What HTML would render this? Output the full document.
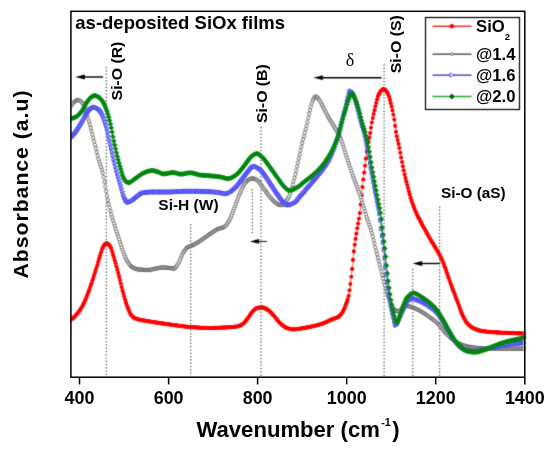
<!DOCTYPE html>
<html><head><meta charset="utf-8"><title>FTIR absorbance of as-deposited SiOx films</title>
<style>html,body{margin:0;padding:0;background:#fff}body{width:550px;height:449px;overflow:hidden}svg{display:block}text{font-family:"Liberation Sans",sans-serif;font-weight:bold;fill:#000}</style></head><body>
<svg width="550" height="449" viewBox="0 0 550 449">
<rect width="550" height="449" fill="#fff"/>
<defs><filter id="bl" x="0" y="0" width="100%" height="100%" color-interpolation-filters="sRGB"><feConvolveMatrix order="3" kernelMatrix="0 1 0 1 4 1 0 1 0" divisor="8" edgeMode="duplicate" preserveAlpha="true"/></filter><clipPath id="c"><rect x="70.9" y="11.3" width="455.4" height="365.9"/></clipPath></defs>
<g filter="url(#bl)">
<rect width="550" height="449" fill="#fff"/>
<g clip-path="url(#c)">
<path d="M70.9 319.7 L71.8 319.1 L72.6 318.4 L73.5 317.7 L74.3 316.9 L75.2 316 L76.1 315.1 L76.9 314.1 L77.8 313.1 L78.6 312 L79.5 310.8 L80.4 309.5 L81.2 308.1 L82.1 306.7 L82.9 305.1 L83.8 303.4 L84.7 301.5 L85.5 299.5 L86.4 297.4 L87.2 295.1 L88.1 292.8 L89 290.5 L89.8 288.1 L90.7 285.7 L91.5 283.2 L92.4 280.6 L93.3 278 L94.1 275.3 L95 272.6 L95.8 269.9 L96.7 267.1 L97.6 264.2 L98.4 261.3 L99.3 258.3 L100.1 255.4 L101 252.6 L101.9 249.8 L102.7 247.5 L103.6 245.8 L104.4 244.7 L105.3 243.9 L106.2 243.3 L107 243.3 L107.9 243.8 L108.7 244.6 L109.6 245.6 L110.5 247 L111.3 248.8 L112.2 251.6 L113 254.4 L113.9 257.3 L114.8 260.3 L115.6 263.3 L116.5 266.5 L117.3 269.7 L118.2 272.9 L119.1 276.4 L119.9 279.9 L120.8 283.5 L121.6 287 L122.5 290.3 L123.4 293.4 L124.2 296.5 L125.1 299.6 L125.9 302.4 L126.8 305.1 L127.7 307.4 L128.5 309.6 L129.4 311.7 L130.2 313.6 L131.1 315 L132 316 L132.8 316.7 L133.7 317.4 L134.5 317.9 L135.4 318.4 L136.3 318.7 L137.1 319 L138 319.2 L138.8 319.5 L139.7 319.7 L140.6 319.9 L141.4 320.1 L142.3 320.2 L143.1 320.4 L144 320.5 L144.9 320.7 L145.7 320.8 L146.6 320.9 L147.4 321.1 L148.3 321.2 L149.2 321.4 L150 321.5 L150.9 321.7 L151.7 321.8 L152.6 321.9 L153.5 322.1 L154.3 322.2 L155.2 322.4 L156 322.5 L156.9 322.6 L157.8 322.8 L158.6 322.9 L159.5 323 L160.3 323.1 L161.2 323.3 L162.1 323.4 L162.9 323.5 L163.8 323.6 L164.6 323.8 L165.5 323.9 L166.4 324 L167.2 324.1 L168.1 324.2 L168.9 324.4 L169.8 324.5 L170.7 324.6 L171.5 324.7 L172.4 324.8 L173.2 325 L174.1 325.1 L175 325.2 L175.8 325.3 L176.7 325.4 L177.5 325.6 L178.4 325.7 L179.3 325.8 L180.1 325.9 L181 326 L181.8 326.2 L182.7 326.3 L183.6 326.4 L184.4 326.5 L185.3 326.6 L186.1 326.7 L187 326.7 L187.9 326.8 L188.7 326.9 L189.6 327 L190.4 327 L191.3 327.1 L192.2 327.2 L193 327.2 L193.9 327.3 L194.7 327.3 L195.6 327.4 L196.5 327.5 L197.3 327.5 L198.2 327.6 L199 327.6 L199.9 327.7 L200.8 327.7 L201.6 327.8 L202.5 327.8 L203.3 327.8 L204.2 327.9 L205.1 327.9 L205.9 327.9 L206.8 328 L207.6 328 L208.5 328 L209.4 328 L210.2 328 L211.1 328 L211.9 328 L212.8 328 L213.7 328 L214.5 327.9 L215.4 327.9 L216.2 327.9 L217.1 327.8 L218 327.8 L218.8 327.8 L219.7 327.7 L220.5 327.7 L221.4 327.6 L222.3 327.6 L223.1 327.6 L224 327.5 L224.8 327.5 L225.7 327.4 L226.6 327.4 L227.4 327.3 L228.3 327.3 L229.1 327.2 L230 327.2 L230.9 327.1 L231.7 327 L232.6 327 L233.4 326.9 L234.3 326.8 L235.2 326.7 L236 326.6 L236.9 326.5 L237.7 326.3 L238.6 326 L239.5 325.7 L240.3 325.4 L241.2 325 L242 324.6 L242.9 324 L243.8 323.2 L244.6 322.3 L245.5 321.2 L246.3 320.1 L247.2 319 L248.1 317.9 L248.9 316.8 L249.8 315.5 L250.6 314.1 L251.5 312.8 L252.4 311.7 L253.2 310.8 L254.1 310 L254.9 309.2 L255.8 308.5 L256.7 308.1 L257.5 307.9 L258.4 307.7 L259.2 307.6 L260.1 307.5 L261 307.4 L261.8 307.4 L262.7 307.5 L263.5 307.6 L264.4 308 L265.3 308.4 L266.1 308.9 L267 309.4 L267.8 309.9 L268.7 310.5 L269.6 311.2 L270.4 312 L271.3 313 L272.1 313.9 L273 314.9 L273.9 315.8 L274.7 316.8 L275.6 317.8 L276.4 318.9 L277.3 320 L278.2 321 L279 322 L279.9 322.9 L280.7 323.7 L281.6 324.5 L282.5 325.2 L283.3 326 L284.2 326.6 L285 327.1 L285.9 327.6 L286.8 327.9 L287.6 328.2 L288.5 328.5 L289.3 328.8 L290.2 329 L291.1 329.2 L291.9 329.3 L292.8 329.4 L293.6 329.4 L294.5 329.4 L295.4 329.3 L296.2 329.2 L297.1 329.1 L297.9 329 L298.8 328.9 L299.7 328.7 L300.5 328.6 L301.4 328.4 L302.2 328.3 L303.1 328.1 L304 328 L304.8 327.9 L305.7 327.7 L306.5 327.6 L307.4 327.4 L308.3 327.3 L309.1 327.1 L310 326.9 L310.8 326.7 L311.7 326.5 L312.6 326.3 L313.4 326.1 L314.3 325.9 L315.1 325.7 L316 325.5 L316.9 325.3 L317.7 325 L318.6 324.8 L319.4 324.5 L320.3 324.3 L321.2 324 L322 323.7 L322.9 323.4 L323.7 323.1 L324.6 322.8 L325.5 322.4 L326.3 322 L327.2 321.6 L328 321.2 L328.9 320.8 L329.8 320.4 L330.6 320 L331.5 319.6 L332.3 319.3 L333.2 318.9 L334.1 318.6 L334.9 318.4 L335.8 318 L336.6 317.7 L337.5 317.3 L338.4 316.8 L339.2 316.1 L340.1 315.3 L340.9 314.4 L341.8 313.3 L342.7 311.9 L343.5 310.2 L344.4 308.2 L345.2 306 L346.1 303.7 L347 301.6 L347.8 299.1 L348.7 295.7 L349.5 290.3 L350.4 284 L351.3 276.7 L352.1 268.9 L353 259.9 L353.8 251.4 L354.7 244.7 L355.6 238.9 L356.4 233.6 L357.3 228.3 L358.1 223.6 L359 218.8 L359.9 213.1 L360.7 204.5 L361.6 195.2 L362.4 187 L363.3 179.5 L364.2 172.6 L365 165.8 L365.9 158.6 L366.7 151.8 L367.6 146.4 L368.5 141.9 L369.3 137.6 L370.2 133 L371 127.7 L371.9 122.5 L372.8 118.1 L373.6 114 L374.5 110.2 L375.3 106.6 L376.2 103 L377.1 99.6 L377.9 96.6 L378.8 94.4 L379.6 92.9 L380.5 91.6 L381.4 90.5 L382.2 89.6 L383.1 89.1 L383.9 89 L384.8 89.5 L385.7 90.4 L386.5 91.5 L387.4 92.9 L388.2 94.5 L389.1 96.8 L390 99.9 L390.8 103.3 L391.7 106.7 L392.5 110.5 L393.4 114.7 L394.3 119.6 L395.1 125.9 L396 131.9 L396.8 136.3 L397.7 140.1 L398.6 143.9 L399.4 148.1 L400.3 152.8 L401.1 157.5 L402 162 L402.9 166.2 L403.7 170.3 L404.6 174.2 L405.4 177.9 L406.3 181.4 L407.2 184.8 L408 188.1 L408.9 191.4 L409.7 194.6 L410.6 197.7 L411.5 200.4 L412.3 203 L413.2 205.4 L414 207.6 L414.9 209.8 L415.8 211.8 L416.6 213.7 L417.5 215.5 L418.3 217.2 L419.2 218.9 L420.1 220.6 L420.9 222.3 L421.8 223.9 L422.6 225.5 L423.5 227 L424.4 228.6 L425.2 230.1 L426.1 231.6 L426.9 233.2 L427.8 234.7 L428.7 236.2 L429.5 237.7 L430.4 239.2 L431.2 240.7 L432.1 242.2 L433 243.6 L433.8 245 L434.7 246.4 L435.5 247.8 L436.4 249.2 L437.3 250.7 L438.1 252.2 L439 253.8 L439.8 255.4 L440.7 257.1 L441.6 258.8 L442.4 260.7 L443.3 262.7 L444.1 264.9 L445 267.3 L445.9 269.8 L446.7 272.3 L447.6 274.8 L448.4 277.2 L449.3 279.7 L450.2 282.1 L451 284.5 L451.9 286.9 L452.7 289.3 L453.6 291.6 L454.5 293.8 L455.3 296.1 L456.2 298.3 L457 300.5 L457.9 302.7 L458.8 305.1 L459.6 307.6 L460.5 310.1 L461.3 312.4 L462.2 314.4 L463.1 316.3 L463.9 318 L464.8 319.7 L465.6 321.1 L466.5 322.4 L467.4 323.4 L468.2 324.3 L469.1 325.2 L469.9 325.9 L470.8 326.6 L471.7 327.2 L472.5 327.8 L473.4 328.2 L474.2 328.6 L475.1 329 L476 329.3 L476.8 329.6 L477.7 329.9 L478.5 330.2 L479.4 330.4 L480.3 330.7 L481.1 330.8 L482 331 L482.8 331.1 L483.7 331.3 L484.6 331.4 L485.4 331.5 L486.3 331.6 L487.1 331.7 L488 331.8 L488.9 331.9 L489.7 331.9 L490.6 332 L491.4 332.1 L492.3 332.2 L493.2 332.2 L494 332.3 L494.9 332.3 L495.7 332.4 L496.6 332.4 L497.5 332.5 L498.3 332.5 L499.2 332.6 L500 332.6 L500.9 332.6 L501.8 332.7 L502.6 332.7 L503.5 332.8 L504.3 332.8 L505.2 332.8 L506.1 332.8 L506.9 332.9 L507.8 332.9 L508.6 332.9 L509.5 333 L510.4 333 L511.2 333.1 L512.1 333.1 L512.9 333.1 L513.8 333.2 L514.7 333.2 L515.5 333.2 L516.4 333.3 L517.2 333.3 L518.1 333.3 L519 333.4 L519.8 333.4 L520.7 333.4 L521.5 333.5 L522.4 333.5 L523.3 333.5 L524.1 333.6" stroke="#ff0000" stroke-width="0.6" fill="none"/>
<g fill="#ff0000">
<circle cx="70.9" cy="319.7" r="2.05"/>
<circle cx="71.8" cy="319.1" r="2.05"/>
<circle cx="72.6" cy="318.4" r="2.05"/>
<circle cx="73.5" cy="317.7" r="2.05"/>
<circle cx="74.3" cy="316.9" r="2.05"/>
<circle cx="75.2" cy="316" r="2.05"/>
<circle cx="76.1" cy="315.1" r="2.05"/>
<circle cx="76.9" cy="314.1" r="2.05"/>
<circle cx="77.8" cy="313.1" r="2.05"/>
<circle cx="78.6" cy="312" r="2.05"/>
<circle cx="79.5" cy="310.8" r="2.05"/>
<circle cx="80.4" cy="309.5" r="2.05"/>
<circle cx="81.2" cy="308.1" r="2.05"/>
<circle cx="82.1" cy="306.7" r="2.05"/>
<circle cx="82.9" cy="305.1" r="2.05"/>
<circle cx="83.8" cy="303.4" r="2.05"/>
<circle cx="84.7" cy="301.5" r="2.05"/>
<circle cx="85.5" cy="299.5" r="2.05"/>
<circle cx="86.4" cy="297.4" r="2.05"/>
<circle cx="87.2" cy="295.1" r="2.05"/>
<circle cx="88.1" cy="292.8" r="2.05"/>
<circle cx="89" cy="290.5" r="2.05"/>
<circle cx="89.8" cy="288.1" r="2.05"/>
<circle cx="90.7" cy="285.7" r="2.05"/>
<circle cx="91.5" cy="283.2" r="2.05"/>
<circle cx="92.4" cy="280.6" r="2.05"/>
<circle cx="93.3" cy="278" r="2.05"/>
<circle cx="94.1" cy="275.3" r="2.05"/>
<circle cx="95" cy="272.6" r="2.05"/>
<circle cx="95.8" cy="269.9" r="2.05"/>
<circle cx="96.7" cy="267.1" r="2.05"/>
<circle cx="97.6" cy="264.2" r="2.05"/>
<circle cx="98.4" cy="261.3" r="2.05"/>
<circle cx="99.3" cy="258.3" r="2.05"/>
<circle cx="100.1" cy="255.4" r="2.05"/>
<circle cx="101" cy="252.6" r="2.05"/>
<circle cx="101.9" cy="249.8" r="2.05"/>
<circle cx="102.7" cy="247.5" r="2.05"/>
<circle cx="103.6" cy="245.8" r="2.05"/>
<circle cx="104.4" cy="244.7" r="2.05"/>
<circle cx="105.3" cy="243.9" r="2.05"/>
<circle cx="106.2" cy="243.3" r="2.05"/>
<circle cx="107" cy="243.3" r="2.05"/>
<circle cx="107.9" cy="243.8" r="2.05"/>
<circle cx="108.7" cy="244.6" r="2.05"/>
<circle cx="109.6" cy="245.6" r="2.05"/>
<circle cx="110.5" cy="247" r="2.05"/>
<circle cx="111.3" cy="248.8" r="2.05"/>
<circle cx="112.2" cy="251.6" r="2.05"/>
<circle cx="113" cy="254.4" r="2.05"/>
<circle cx="113.9" cy="257.3" r="2.05"/>
<circle cx="114.8" cy="260.3" r="2.05"/>
<circle cx="115.6" cy="263.3" r="2.05"/>
<circle cx="116.5" cy="266.5" r="2.05"/>
<circle cx="117.3" cy="269.7" r="2.05"/>
<circle cx="118.2" cy="272.9" r="2.05"/>
<circle cx="119.1" cy="276.4" r="2.05"/>
<circle cx="119.9" cy="279.9" r="2.05"/>
<circle cx="120.8" cy="283.5" r="2.05"/>
<circle cx="121.6" cy="287" r="2.05"/>
<circle cx="122.5" cy="290.3" r="2.05"/>
<circle cx="123.4" cy="293.4" r="2.05"/>
<circle cx="124.2" cy="296.5" r="2.05"/>
<circle cx="125.1" cy="299.6" r="2.05"/>
<circle cx="125.9" cy="302.4" r="2.05"/>
<circle cx="126.8" cy="305.1" r="2.05"/>
<circle cx="127.7" cy="307.4" r="2.05"/>
<circle cx="128.5" cy="309.6" r="2.05"/>
<circle cx="129.4" cy="311.7" r="2.05"/>
<circle cx="130.2" cy="313.6" r="2.05"/>
<circle cx="131.1" cy="315" r="2.05"/>
<circle cx="132" cy="316" r="2.05"/>
<circle cx="132.8" cy="316.7" r="2.05"/>
<circle cx="133.7" cy="317.4" r="2.05"/>
<circle cx="134.5" cy="317.9" r="2.05"/>
<circle cx="135.4" cy="318.4" r="2.05"/>
<circle cx="136.3" cy="318.7" r="2.05"/>
<circle cx="137.1" cy="319" r="2.05"/>
<circle cx="138" cy="319.2" r="2.05"/>
<circle cx="138.8" cy="319.5" r="2.05"/>
<circle cx="139.7" cy="319.7" r="2.05"/>
<circle cx="140.6" cy="319.9" r="2.05"/>
<circle cx="141.4" cy="320.1" r="2.05"/>
<circle cx="142.3" cy="320.2" r="2.05"/>
<circle cx="143.1" cy="320.4" r="2.05"/>
<circle cx="144" cy="320.5" r="2.05"/>
<circle cx="144.9" cy="320.7" r="2.05"/>
<circle cx="145.7" cy="320.8" r="2.05"/>
<circle cx="146.6" cy="320.9" r="2.05"/>
<circle cx="147.4" cy="321.1" r="2.05"/>
<circle cx="148.3" cy="321.2" r="2.05"/>
<circle cx="149.2" cy="321.4" r="2.05"/>
<circle cx="150" cy="321.5" r="2.05"/>
<circle cx="150.9" cy="321.7" r="2.05"/>
<circle cx="151.7" cy="321.8" r="2.05"/>
<circle cx="152.6" cy="321.9" r="2.05"/>
<circle cx="153.5" cy="322.1" r="2.05"/>
<circle cx="154.3" cy="322.2" r="2.05"/>
<circle cx="155.2" cy="322.4" r="2.05"/>
<circle cx="156" cy="322.5" r="2.05"/>
<circle cx="156.9" cy="322.6" r="2.05"/>
<circle cx="157.8" cy="322.8" r="2.05"/>
<circle cx="158.6" cy="322.9" r="2.05"/>
<circle cx="159.5" cy="323" r="2.05"/>
<circle cx="160.3" cy="323.1" r="2.05"/>
<circle cx="161.2" cy="323.3" r="2.05"/>
<circle cx="162.1" cy="323.4" r="2.05"/>
<circle cx="162.9" cy="323.5" r="2.05"/>
<circle cx="163.8" cy="323.6" r="2.05"/>
<circle cx="164.6" cy="323.8" r="2.05"/>
<circle cx="165.5" cy="323.9" r="2.05"/>
<circle cx="166.4" cy="324" r="2.05"/>
<circle cx="167.2" cy="324.1" r="2.05"/>
<circle cx="168.1" cy="324.2" r="2.05"/>
<circle cx="168.9" cy="324.4" r="2.05"/>
<circle cx="169.8" cy="324.5" r="2.05"/>
<circle cx="170.7" cy="324.6" r="2.05"/>
<circle cx="171.5" cy="324.7" r="2.05"/>
<circle cx="172.4" cy="324.8" r="2.05"/>
<circle cx="173.2" cy="325" r="2.05"/>
<circle cx="174.1" cy="325.1" r="2.05"/>
<circle cx="175" cy="325.2" r="2.05"/>
<circle cx="175.8" cy="325.3" r="2.05"/>
<circle cx="176.7" cy="325.4" r="2.05"/>
<circle cx="177.5" cy="325.6" r="2.05"/>
<circle cx="178.4" cy="325.7" r="2.05"/>
<circle cx="179.3" cy="325.8" r="2.05"/>
<circle cx="180.1" cy="325.9" r="2.05"/>
<circle cx="181" cy="326" r="2.05"/>
<circle cx="181.8" cy="326.2" r="2.05"/>
<circle cx="182.7" cy="326.3" r="2.05"/>
<circle cx="183.6" cy="326.4" r="2.05"/>
<circle cx="184.4" cy="326.5" r="2.05"/>
<circle cx="185.3" cy="326.6" r="2.05"/>
<circle cx="186.1" cy="326.7" r="2.05"/>
<circle cx="187" cy="326.7" r="2.05"/>
<circle cx="187.9" cy="326.8" r="2.05"/>
<circle cx="188.7" cy="326.9" r="2.05"/>
<circle cx="189.6" cy="327" r="2.05"/>
<circle cx="190.4" cy="327" r="2.05"/>
<circle cx="191.3" cy="327.1" r="2.05"/>
<circle cx="192.2" cy="327.2" r="2.05"/>
<circle cx="193" cy="327.2" r="2.05"/>
<circle cx="193.9" cy="327.3" r="2.05"/>
<circle cx="194.7" cy="327.3" r="2.05"/>
<circle cx="195.6" cy="327.4" r="2.05"/>
<circle cx="196.5" cy="327.5" r="2.05"/>
<circle cx="197.3" cy="327.5" r="2.05"/>
<circle cx="198.2" cy="327.6" r="2.05"/>
<circle cx="199" cy="327.6" r="2.05"/>
<circle cx="199.9" cy="327.7" r="2.05"/>
<circle cx="200.8" cy="327.7" r="2.05"/>
<circle cx="201.6" cy="327.8" r="2.05"/>
<circle cx="202.5" cy="327.8" r="2.05"/>
<circle cx="203.3" cy="327.8" r="2.05"/>
<circle cx="204.2" cy="327.9" r="2.05"/>
<circle cx="205.1" cy="327.9" r="2.05"/>
<circle cx="205.9" cy="327.9" r="2.05"/>
<circle cx="206.8" cy="328" r="2.05"/>
<circle cx="207.6" cy="328" r="2.05"/>
<circle cx="208.5" cy="328" r="2.05"/>
<circle cx="209.4" cy="328" r="2.05"/>
<circle cx="210.2" cy="328" r="2.05"/>
<circle cx="211.1" cy="328" r="2.05"/>
<circle cx="211.9" cy="328" r="2.05"/>
<circle cx="212.8" cy="328" r="2.05"/>
<circle cx="213.7" cy="328" r="2.05"/>
<circle cx="214.5" cy="327.9" r="2.05"/>
<circle cx="215.4" cy="327.9" r="2.05"/>
<circle cx="216.2" cy="327.9" r="2.05"/>
<circle cx="217.1" cy="327.8" r="2.05"/>
<circle cx="218" cy="327.8" r="2.05"/>
<circle cx="218.8" cy="327.8" r="2.05"/>
<circle cx="219.7" cy="327.7" r="2.05"/>
<circle cx="220.5" cy="327.7" r="2.05"/>
<circle cx="221.4" cy="327.6" r="2.05"/>
<circle cx="222.3" cy="327.6" r="2.05"/>
<circle cx="223.1" cy="327.6" r="2.05"/>
<circle cx="224" cy="327.5" r="2.05"/>
<circle cx="224.8" cy="327.5" r="2.05"/>
<circle cx="225.7" cy="327.4" r="2.05"/>
<circle cx="226.6" cy="327.4" r="2.05"/>
<circle cx="227.4" cy="327.3" r="2.05"/>
<circle cx="228.3" cy="327.3" r="2.05"/>
<circle cx="229.1" cy="327.2" r="2.05"/>
<circle cx="230" cy="327.2" r="2.05"/>
<circle cx="230.9" cy="327.1" r="2.05"/>
<circle cx="231.7" cy="327" r="2.05"/>
<circle cx="232.6" cy="327" r="2.05"/>
<circle cx="233.4" cy="326.9" r="2.05"/>
<circle cx="234.3" cy="326.8" r="2.05"/>
<circle cx="235.2" cy="326.7" r="2.05"/>
<circle cx="236" cy="326.6" r="2.05"/>
<circle cx="236.9" cy="326.5" r="2.05"/>
<circle cx="237.7" cy="326.3" r="2.05"/>
<circle cx="238.6" cy="326" r="2.05"/>
<circle cx="239.5" cy="325.7" r="2.05"/>
<circle cx="240.3" cy="325.4" r="2.05"/>
<circle cx="241.2" cy="325" r="2.05"/>
<circle cx="242" cy="324.6" r="2.05"/>
<circle cx="242.9" cy="324" r="2.05"/>
<circle cx="243.8" cy="323.2" r="2.05"/>
<circle cx="244.6" cy="322.3" r="2.05"/>
<circle cx="245.5" cy="321.2" r="2.05"/>
<circle cx="246.3" cy="320.1" r="2.05"/>
<circle cx="247.2" cy="319" r="2.05"/>
<circle cx="248.1" cy="317.9" r="2.05"/>
<circle cx="248.9" cy="316.8" r="2.05"/>
<circle cx="249.8" cy="315.5" r="2.05"/>
<circle cx="250.6" cy="314.1" r="2.05"/>
<circle cx="251.5" cy="312.8" r="2.05"/>
<circle cx="252.4" cy="311.7" r="2.05"/>
<circle cx="253.2" cy="310.8" r="2.05"/>
<circle cx="254.1" cy="310" r="2.05"/>
<circle cx="254.9" cy="309.2" r="2.05"/>
<circle cx="255.8" cy="308.5" r="2.05"/>
<circle cx="256.7" cy="308.1" r="2.05"/>
<circle cx="257.5" cy="307.9" r="2.05"/>
<circle cx="258.4" cy="307.7" r="2.05"/>
<circle cx="259.2" cy="307.6" r="2.05"/>
<circle cx="260.1" cy="307.5" r="2.05"/>
<circle cx="261" cy="307.4" r="2.05"/>
<circle cx="261.8" cy="307.4" r="2.05"/>
<circle cx="262.7" cy="307.5" r="2.05"/>
<circle cx="263.5" cy="307.6" r="2.05"/>
<circle cx="264.4" cy="308" r="2.05"/>
<circle cx="265.3" cy="308.4" r="2.05"/>
<circle cx="266.1" cy="308.9" r="2.05"/>
<circle cx="267" cy="309.4" r="2.05"/>
<circle cx="267.8" cy="309.9" r="2.05"/>
<circle cx="268.7" cy="310.5" r="2.05"/>
<circle cx="269.6" cy="311.2" r="2.05"/>
<circle cx="270.4" cy="312" r="2.05"/>
<circle cx="271.3" cy="313" r="2.05"/>
<circle cx="272.1" cy="313.9" r="2.05"/>
<circle cx="273" cy="314.9" r="2.05"/>
<circle cx="273.9" cy="315.8" r="2.05"/>
<circle cx="274.7" cy="316.8" r="2.05"/>
<circle cx="275.6" cy="317.8" r="2.05"/>
<circle cx="276.4" cy="318.9" r="2.05"/>
<circle cx="277.3" cy="320" r="2.05"/>
<circle cx="278.2" cy="321" r="2.05"/>
<circle cx="279" cy="322" r="2.05"/>
<circle cx="279.9" cy="322.9" r="2.05"/>
<circle cx="280.7" cy="323.7" r="2.05"/>
<circle cx="281.6" cy="324.5" r="2.05"/>
<circle cx="282.5" cy="325.2" r="2.05"/>
<circle cx="283.3" cy="326" r="2.05"/>
<circle cx="284.2" cy="326.6" r="2.05"/>
<circle cx="285" cy="327.1" r="2.05"/>
<circle cx="285.9" cy="327.6" r="2.05"/>
<circle cx="286.8" cy="327.9" r="2.05"/>
<circle cx="287.6" cy="328.2" r="2.05"/>
<circle cx="288.5" cy="328.5" r="2.05"/>
<circle cx="289.3" cy="328.8" r="2.05"/>
<circle cx="290.2" cy="329" r="2.05"/>
<circle cx="291.1" cy="329.2" r="2.05"/>
<circle cx="291.9" cy="329.3" r="2.05"/>
<circle cx="292.8" cy="329.4" r="2.05"/>
<circle cx="293.6" cy="329.4" r="2.05"/>
<circle cx="294.5" cy="329.4" r="2.05"/>
<circle cx="295.4" cy="329.3" r="2.05"/>
<circle cx="296.2" cy="329.2" r="2.05"/>
<circle cx="297.1" cy="329.1" r="2.05"/>
<circle cx="297.9" cy="329" r="2.05"/>
<circle cx="298.8" cy="328.9" r="2.05"/>
<circle cx="299.7" cy="328.7" r="2.05"/>
<circle cx="300.5" cy="328.6" r="2.05"/>
<circle cx="301.4" cy="328.4" r="2.05"/>
<circle cx="302.2" cy="328.3" r="2.05"/>
<circle cx="303.1" cy="328.1" r="2.05"/>
<circle cx="304" cy="328" r="2.05"/>
<circle cx="304.8" cy="327.9" r="2.05"/>
<circle cx="305.7" cy="327.7" r="2.05"/>
<circle cx="306.5" cy="327.6" r="2.05"/>
<circle cx="307.4" cy="327.4" r="2.05"/>
<circle cx="308.3" cy="327.3" r="2.05"/>
<circle cx="309.1" cy="327.1" r="2.05"/>
<circle cx="310" cy="326.9" r="2.05"/>
<circle cx="310.8" cy="326.7" r="2.05"/>
<circle cx="311.7" cy="326.5" r="2.05"/>
<circle cx="312.6" cy="326.3" r="2.05"/>
<circle cx="313.4" cy="326.1" r="2.05"/>
<circle cx="314.3" cy="325.9" r="2.05"/>
<circle cx="315.1" cy="325.7" r="2.05"/>
<circle cx="316" cy="325.5" r="2.05"/>
<circle cx="316.9" cy="325.3" r="2.05"/>
<circle cx="317.7" cy="325" r="2.05"/>
<circle cx="318.6" cy="324.8" r="2.05"/>
<circle cx="319.4" cy="324.5" r="2.05"/>
<circle cx="320.3" cy="324.3" r="2.05"/>
<circle cx="321.2" cy="324" r="2.05"/>
<circle cx="322" cy="323.7" r="2.05"/>
<circle cx="322.9" cy="323.4" r="2.05"/>
<circle cx="323.7" cy="323.1" r="2.05"/>
<circle cx="324.6" cy="322.8" r="2.05"/>
<circle cx="325.5" cy="322.4" r="2.05"/>
<circle cx="326.3" cy="322" r="2.05"/>
<circle cx="327.2" cy="321.6" r="2.05"/>
<circle cx="328" cy="321.2" r="2.05"/>
<circle cx="328.9" cy="320.8" r="2.05"/>
<circle cx="329.8" cy="320.4" r="2.05"/>
<circle cx="330.6" cy="320" r="2.05"/>
<circle cx="331.5" cy="319.6" r="2.05"/>
<circle cx="332.3" cy="319.3" r="2.05"/>
<circle cx="333.2" cy="318.9" r="2.05"/>
<circle cx="334.1" cy="318.6" r="2.05"/>
<circle cx="334.9" cy="318.4" r="2.05"/>
<circle cx="335.8" cy="318" r="2.05"/>
<circle cx="336.6" cy="317.7" r="2.05"/>
<circle cx="337.5" cy="317.3" r="2.05"/>
<circle cx="338.4" cy="316.8" r="2.05"/>
<circle cx="339.2" cy="316.1" r="2.05"/>
<circle cx="340.1" cy="315.3" r="2.05"/>
<circle cx="340.9" cy="314.4" r="2.05"/>
<circle cx="341.8" cy="313.3" r="2.05"/>
<circle cx="342.7" cy="311.9" r="2.05"/>
<circle cx="343.5" cy="310.2" r="2.05"/>
<circle cx="344.4" cy="308.2" r="2.05"/>
<circle cx="345.2" cy="306" r="2.05"/>
<circle cx="346.1" cy="303.7" r="2.05"/>
<circle cx="347" cy="301.6" r="2.05"/>
<circle cx="347.8" cy="299.1" r="2.05"/>
<circle cx="348.7" cy="295.7" r="2.05"/>
<circle cx="349.5" cy="290.3" r="2.05"/>
<circle cx="350.4" cy="284" r="2.05"/>
<circle cx="351.3" cy="276.7" r="2.05"/>
<circle cx="352.1" cy="268.9" r="2.05"/>
<circle cx="353" cy="259.9" r="2.05"/>
<circle cx="353.8" cy="251.4" r="2.05"/>
<circle cx="354.7" cy="244.7" r="2.05"/>
<circle cx="355.6" cy="238.9" r="2.05"/>
<circle cx="356.4" cy="233.6" r="2.05"/>
<circle cx="357.3" cy="228.3" r="2.05"/>
<circle cx="358.1" cy="223.6" r="2.05"/>
<circle cx="359" cy="218.8" r="2.05"/>
<circle cx="359.9" cy="213.1" r="2.05"/>
<circle cx="360.7" cy="204.5" r="2.05"/>
<circle cx="361.6" cy="195.2" r="2.05"/>
<circle cx="362.4" cy="187" r="2.05"/>
<circle cx="363.3" cy="179.5" r="2.05"/>
<circle cx="364.2" cy="172.6" r="2.05"/>
<circle cx="365" cy="165.8" r="2.05"/>
<circle cx="365.9" cy="158.6" r="2.05"/>
<circle cx="366.7" cy="151.8" r="2.05"/>
<circle cx="367.6" cy="146.4" r="2.05"/>
<circle cx="368.5" cy="141.9" r="2.05"/>
<circle cx="369.3" cy="137.6" r="2.05"/>
<circle cx="370.2" cy="133" r="2.05"/>
<circle cx="371" cy="127.7" r="2.05"/>
<circle cx="371.9" cy="122.5" r="2.05"/>
<circle cx="372.8" cy="118.1" r="2.05"/>
<circle cx="373.6" cy="114" r="2.05"/>
<circle cx="374.5" cy="110.2" r="2.05"/>
<circle cx="375.3" cy="106.6" r="2.05"/>
<circle cx="376.2" cy="103" r="2.05"/>
<circle cx="377.1" cy="99.6" r="2.05"/>
<circle cx="377.9" cy="96.6" r="2.05"/>
<circle cx="378.8" cy="94.4" r="2.05"/>
<circle cx="379.6" cy="92.9" r="2.05"/>
<circle cx="380.5" cy="91.6" r="2.05"/>
<circle cx="381.4" cy="90.5" r="2.05"/>
<circle cx="382.2" cy="89.6" r="2.05"/>
<circle cx="383.1" cy="89.1" r="2.05"/>
<circle cx="383.9" cy="89" r="2.05"/>
<circle cx="384.8" cy="89.5" r="2.05"/>
<circle cx="385.7" cy="90.4" r="2.05"/>
<circle cx="386.5" cy="91.5" r="2.05"/>
<circle cx="387.4" cy="92.9" r="2.05"/>
<circle cx="388.2" cy="94.5" r="2.05"/>
<circle cx="389.1" cy="96.8" r="2.05"/>
<circle cx="390" cy="99.9" r="2.05"/>
<circle cx="390.8" cy="103.3" r="2.05"/>
<circle cx="391.7" cy="106.7" r="2.05"/>
<circle cx="392.5" cy="110.5" r="2.05"/>
<circle cx="393.4" cy="114.7" r="2.05"/>
<circle cx="394.3" cy="119.6" r="2.05"/>
<circle cx="395.1" cy="125.9" r="2.05"/>
<circle cx="396" cy="131.9" r="2.05"/>
<circle cx="396.8" cy="136.3" r="2.05"/>
<circle cx="397.7" cy="140.1" r="2.05"/>
<circle cx="398.6" cy="143.9" r="2.05"/>
<circle cx="399.4" cy="148.1" r="2.05"/>
<circle cx="400.3" cy="152.8" r="2.05"/>
<circle cx="401.1" cy="157.5" r="2.05"/>
<circle cx="402" cy="162" r="2.05"/>
<circle cx="402.9" cy="166.2" r="2.05"/>
<circle cx="403.7" cy="170.3" r="2.05"/>
<circle cx="404.6" cy="174.2" r="2.05"/>
<circle cx="405.4" cy="177.9" r="2.05"/>
<circle cx="406.3" cy="181.4" r="2.05"/>
<circle cx="407.2" cy="184.8" r="2.05"/>
<circle cx="408" cy="188.1" r="2.05"/>
<circle cx="408.9" cy="191.4" r="2.05"/>
<circle cx="409.7" cy="194.6" r="2.05"/>
<circle cx="410.6" cy="197.7" r="2.05"/>
<circle cx="411.5" cy="200.4" r="2.05"/>
<circle cx="412.3" cy="203" r="2.05"/>
<circle cx="413.2" cy="205.4" r="2.05"/>
<circle cx="414" cy="207.6" r="2.05"/>
<circle cx="414.9" cy="209.8" r="2.05"/>
<circle cx="415.8" cy="211.8" r="2.05"/>
<circle cx="416.6" cy="213.7" r="2.05"/>
<circle cx="417.5" cy="215.5" r="2.05"/>
<circle cx="418.3" cy="217.2" r="2.05"/>
<circle cx="419.2" cy="218.9" r="2.05"/>
<circle cx="420.1" cy="220.6" r="2.05"/>
<circle cx="420.9" cy="222.3" r="2.05"/>
<circle cx="421.8" cy="223.9" r="2.05"/>
<circle cx="422.6" cy="225.5" r="2.05"/>
<circle cx="423.5" cy="227" r="2.05"/>
<circle cx="424.4" cy="228.6" r="2.05"/>
<circle cx="425.2" cy="230.1" r="2.05"/>
<circle cx="426.1" cy="231.6" r="2.05"/>
<circle cx="426.9" cy="233.2" r="2.05"/>
<circle cx="427.8" cy="234.7" r="2.05"/>
<circle cx="428.7" cy="236.2" r="2.05"/>
<circle cx="429.5" cy="237.7" r="2.05"/>
<circle cx="430.4" cy="239.2" r="2.05"/>
<circle cx="431.2" cy="240.7" r="2.05"/>
<circle cx="432.1" cy="242.2" r="2.05"/>
<circle cx="433" cy="243.6" r="2.05"/>
<circle cx="433.8" cy="245" r="2.05"/>
<circle cx="434.7" cy="246.4" r="2.05"/>
<circle cx="435.5" cy="247.8" r="2.05"/>
<circle cx="436.4" cy="249.2" r="2.05"/>
<circle cx="437.3" cy="250.7" r="2.05"/>
<circle cx="438.1" cy="252.2" r="2.05"/>
<circle cx="439" cy="253.8" r="2.05"/>
<circle cx="439.8" cy="255.4" r="2.05"/>
<circle cx="440.7" cy="257.1" r="2.05"/>
<circle cx="441.6" cy="258.8" r="2.05"/>
<circle cx="442.4" cy="260.7" r="2.05"/>
<circle cx="443.3" cy="262.7" r="2.05"/>
<circle cx="444.1" cy="264.9" r="2.05"/>
<circle cx="445" cy="267.3" r="2.05"/>
<circle cx="445.9" cy="269.8" r="2.05"/>
<circle cx="446.7" cy="272.3" r="2.05"/>
<circle cx="447.6" cy="274.8" r="2.05"/>
<circle cx="448.4" cy="277.2" r="2.05"/>
<circle cx="449.3" cy="279.7" r="2.05"/>
<circle cx="450.2" cy="282.1" r="2.05"/>
<circle cx="451" cy="284.5" r="2.05"/>
<circle cx="451.9" cy="286.9" r="2.05"/>
<circle cx="452.7" cy="289.3" r="2.05"/>
<circle cx="453.6" cy="291.6" r="2.05"/>
<circle cx="454.5" cy="293.8" r="2.05"/>
<circle cx="455.3" cy="296.1" r="2.05"/>
<circle cx="456.2" cy="298.3" r="2.05"/>
<circle cx="457" cy="300.5" r="2.05"/>
<circle cx="457.9" cy="302.7" r="2.05"/>
<circle cx="458.8" cy="305.1" r="2.05"/>
<circle cx="459.6" cy="307.6" r="2.05"/>
<circle cx="460.5" cy="310.1" r="2.05"/>
<circle cx="461.3" cy="312.4" r="2.05"/>
<circle cx="462.2" cy="314.4" r="2.05"/>
<circle cx="463.1" cy="316.3" r="2.05"/>
<circle cx="463.9" cy="318" r="2.05"/>
<circle cx="464.8" cy="319.7" r="2.05"/>
<circle cx="465.6" cy="321.1" r="2.05"/>
<circle cx="466.5" cy="322.4" r="2.05"/>
<circle cx="467.4" cy="323.4" r="2.05"/>
<circle cx="468.2" cy="324.3" r="2.05"/>
<circle cx="469.1" cy="325.2" r="2.05"/>
<circle cx="469.9" cy="325.9" r="2.05"/>
<circle cx="470.8" cy="326.6" r="2.05"/>
<circle cx="471.7" cy="327.2" r="2.05"/>
<circle cx="472.5" cy="327.8" r="2.05"/>
<circle cx="473.4" cy="328.2" r="2.05"/>
<circle cx="474.2" cy="328.6" r="2.05"/>
<circle cx="475.1" cy="329" r="2.05"/>
<circle cx="476" cy="329.3" r="2.05"/>
<circle cx="476.8" cy="329.6" r="2.05"/>
<circle cx="477.7" cy="329.9" r="2.05"/>
<circle cx="478.5" cy="330.2" r="2.05"/>
<circle cx="479.4" cy="330.4" r="2.05"/>
<circle cx="480.3" cy="330.7" r="2.05"/>
<circle cx="481.1" cy="330.8" r="2.05"/>
<circle cx="482" cy="331" r="2.05"/>
<circle cx="482.8" cy="331.1" r="2.05"/>
<circle cx="483.7" cy="331.3" r="2.05"/>
<circle cx="484.6" cy="331.4" r="2.05"/>
<circle cx="485.4" cy="331.5" r="2.05"/>
<circle cx="486.3" cy="331.6" r="2.05"/>
<circle cx="487.1" cy="331.7" r="2.05"/>
<circle cx="488" cy="331.8" r="2.05"/>
<circle cx="488.9" cy="331.9" r="2.05"/>
<circle cx="489.7" cy="331.9" r="2.05"/>
<circle cx="490.6" cy="332" r="2.05"/>
<circle cx="491.4" cy="332.1" r="2.05"/>
<circle cx="492.3" cy="332.2" r="2.05"/>
<circle cx="493.2" cy="332.2" r="2.05"/>
<circle cx="494" cy="332.3" r="2.05"/>
<circle cx="494.9" cy="332.3" r="2.05"/>
<circle cx="495.7" cy="332.4" r="2.05"/>
<circle cx="496.6" cy="332.4" r="2.05"/>
<circle cx="497.5" cy="332.5" r="2.05"/>
<circle cx="498.3" cy="332.5" r="2.05"/>
<circle cx="499.2" cy="332.6" r="2.05"/>
<circle cx="500" cy="332.6" r="2.05"/>
<circle cx="500.9" cy="332.6" r="2.05"/>
<circle cx="501.8" cy="332.7" r="2.05"/>
<circle cx="502.6" cy="332.7" r="2.05"/>
<circle cx="503.5" cy="332.8" r="2.05"/>
<circle cx="504.3" cy="332.8" r="2.05"/>
<circle cx="505.2" cy="332.8" r="2.05"/>
<circle cx="506.1" cy="332.8" r="2.05"/>
<circle cx="506.9" cy="332.9" r="2.05"/>
<circle cx="507.8" cy="332.9" r="2.05"/>
<circle cx="508.6" cy="332.9" r="2.05"/>
<circle cx="509.5" cy="333" r="2.05"/>
<circle cx="510.4" cy="333" r="2.05"/>
<circle cx="511.2" cy="333.1" r="2.05"/>
<circle cx="512.1" cy="333.1" r="2.05"/>
<circle cx="512.9" cy="333.1" r="2.05"/>
<circle cx="513.8" cy="333.2" r="2.05"/>
<circle cx="514.7" cy="333.2" r="2.05"/>
<circle cx="515.5" cy="333.2" r="2.05"/>
<circle cx="516.4" cy="333.3" r="2.05"/>
<circle cx="517.2" cy="333.3" r="2.05"/>
<circle cx="518.1" cy="333.3" r="2.05"/>
<circle cx="519" cy="333.4" r="2.05"/>
<circle cx="519.8" cy="333.4" r="2.05"/>
<circle cx="520.7" cy="333.4" r="2.05"/>
<circle cx="521.5" cy="333.5" r="2.05"/>
<circle cx="522.4" cy="333.5" r="2.05"/>
<circle cx="523.3" cy="333.5" r="2.05"/>
<circle cx="524.1" cy="333.6" r="2.05"/>
</g>
</g>
<g stroke="#484848" stroke-width="1.25" stroke-dasharray="1.2 2.1" fill="none">
<line x1="106.3" y1="67" x2="106.3" y2="376"/>
<line x1="190.7" y1="224" x2="190.7" y2="376"/>
<line x1="252.4" y1="189" x2="252.4" y2="233"/>
<line x1="261" y1="127" x2="261" y2="376"/>
<line x1="384.1" y1="64.5" x2="384.1" y2="376"/>
<line x1="412.8" y1="269" x2="412.8" y2="376"/>
<line x1="439.6" y1="206.5" x2="439.6" y2="376"/>
</g>
<g clip-path="url(#c)">
<path d="M70.9 106.3 L71.8 104.8 L72.6 103.5 L73.5 102.5 L74.3 101.7 L75.2 101.1 L76.1 100.6 L76.9 100.2 L77.8 100 L78.6 100.1 L79.5 100.5 L80.4 101 L81.2 101.7 L82.1 102.6 L82.9 103.9 L83.8 105.6 L84.7 107.8 L85.5 110.4 L86.4 113.1 L87.2 115.7 L88.1 118.6 L89 121.5 L89.8 124.6 L90.7 127.8 L91.5 131.1 L92.4 134.4 L93.3 137.9 L94.1 141.4 L95 144.9 L95.8 148.4 L96.7 152.1 L97.6 155.6 L98.4 158.9 L99.3 161.9 L100.1 164.4 L101 167 L101.9 169.8 L102.7 172.8 L103.6 176.9 L104.4 181.8 L105.3 186.6 L106.2 191.1 L107 195.6 L107.9 199.9 L108.7 203.9 L109.6 207.5 L110.5 211 L111.3 214.3 L112.2 217.4 L113 220.4 L113.9 223.3 L114.8 226.1 L115.6 228.8 L116.5 231.4 L117.3 234 L118.2 236.6 L119.1 239.2 L119.9 241.9 L120.8 244.7 L121.6 247.4 L122.5 249.8 L123.4 252.2 L124.2 254.5 L125.1 256.6 L125.9 258.6 L126.8 260.3 L127.7 261.7 L128.5 263.1 L129.4 264.3 L130.2 265.4 L131.1 266.3 L132 267 L132.8 267.5 L133.7 268 L134.5 268.4 L135.4 268.7 L136.3 269 L137.1 269.3 L138 269.4 L138.8 269.5 L139.7 269.6 L140.6 269.7 L141.4 269.7 L142.3 269.8 L143.1 269.8 L144 269.9 L144.9 269.9 L145.7 270 L146.6 270 L147.4 270 L148.3 270 L149.2 269.9 L150 269.8 L150.9 269.7 L151.7 269.5 L152.6 269.3 L153.5 269.1 L154.3 268.9 L155.2 268.8 L156 268.6 L156.9 268.4 L157.8 268.2 L158.6 268 L159.5 267.8 L160.3 267.6 L161.2 267.5 L162.1 267.5 L162.9 267.5 L163.8 267.5 L164.6 267.6 L165.5 267.6 L166.4 267.7 L167.2 267.8 L168.1 267.8 L168.9 267.9 L169.8 268 L170.7 268.1 L171.5 268.2 L172.4 268.4 L173.2 268.6 L174.1 268.6 L175 268.2 L175.8 267.3 L176.7 266.1 L177.5 264.7 L178.4 263.3 L179.3 261.6 L180.1 259.5 L181 257.3 L181.8 255.3 L182.7 253.5 L183.6 252.1 L184.4 250.8 L185.3 249.6 L186.1 248.6 L187 247.7 L187.9 247.1 L188.7 246.7 L189.6 246.4 L190.4 246.1 L191.3 245.9 L192.2 245.5 L193 245.1 L193.9 244.7 L194.7 244.2 L195.6 243.7 L196.5 243.2 L197.3 242.7 L198.2 242.2 L199 241.6 L199.9 241.1 L200.8 240.5 L201.6 239.9 L202.5 239.3 L203.3 238.7 L204.2 238.1 L205.1 237.5 L205.9 236.9 L206.8 236.2 L207.6 235.6 L208.5 235 L209.4 234.4 L210.2 233.9 L211.1 233.3 L211.9 232.7 L212.8 232.1 L213.7 231.5 L214.5 230.9 L215.4 230.4 L216.2 229.9 L217.1 229.4 L218 229 L218.8 228.7 L219.7 228.4 L220.5 228.2 L221.4 228 L222.3 227.7 L223.1 227.4 L224 227 L224.8 226.4 L225.7 225.6 L226.6 224.6 L227.4 223.4 L228.3 222.1 L229.1 220.8 L230 219.1 L230.9 217.2 L231.7 215 L232.6 212.7 L233.4 210.4 L234.3 208.2 L235.2 205.9 L236 203.5 L236.9 201.1 L237.7 198.7 L238.6 196.4 L239.5 194.2 L240.3 192.3 L241.2 190.4 L242 188.6 L242.9 186.8 L243.8 185.2 L244.6 183.8 L245.5 182.6 L246.3 181.7 L247.2 180.8 L248.1 180.1 L248.9 179.6 L249.8 179.1 L250.6 178.7 L251.5 178.5 L252.4 178.4 L253.2 178.5 L254.1 178.7 L254.9 179 L255.8 179.3 L256.7 179.9 L257.5 180.6 L258.4 181.3 L259.2 182.3 L260.1 183.4 L261 184.6 L261.8 185.9 L262.7 187.1 L263.5 188.4 L264.4 189.5 L265.3 190.7 L266.1 191.9 L267 193.1 L267.8 194.3 L268.7 195.4 L269.6 196.5 L270.4 197.5 L271.3 198.5 L272.1 199.4 L273 200.4 L273.9 201.2 L274.7 202 L275.6 202.7 L276.4 203.3 L277.3 203.9 L278.2 204.4 L279 204.8 L279.9 205 L280.7 205 L281.6 205 L282.5 204.9 L283.3 204.8 L284.2 204.4 L285 203.4 L285.9 201.9 L286.8 200.4 L287.6 199 L288.5 197.5 L289.3 195.7 L290.2 193.4 L291.1 190.8 L291.9 187.8 L292.8 184.6 L293.6 181.4 L294.5 178 L295.4 174.4 L296.2 170.5 L297.1 166.5 L297.9 162.6 L298.8 158.6 L299.7 154.6 L300.5 150.6 L301.4 146.7 L302.2 143 L303.1 139.5 L304 136.1 L304.8 132.7 L305.7 129.3 L306.5 125.9 L307.4 122.2 L308.3 118 L309.1 113.8 L310 110.1 L310.8 106.7 L311.7 103.6 L312.6 101 L313.4 99.2 L314.3 97.6 L315.1 96.6 L316 96.5 L316.9 97 L317.7 97.9 L318.6 99 L319.4 100.1 L320.3 101.5 L321.2 103.2 L322 105 L322.9 106.8 L323.7 108.4 L324.6 110.1 L325.5 111.7 L326.3 113.4 L327.2 115 L328 116.6 L328.9 118.1 L329.8 119.5 L330.6 120.9 L331.5 122.3 L332.3 123.7 L333.2 125.2 L334.1 126.6 L334.9 128 L335.8 129.4 L336.6 130.8 L337.5 132.2 L338.4 133.7 L339.2 135.4 L340.1 137.2 L340.9 139.3 L341.8 141.6 L342.7 144.2 L343.5 146.9 L344.4 149.6 L345.2 152.5 L346.1 155.2 L347 157.9 L347.8 160.5 L348.7 163.1 L349.5 165.7 L350.4 168.3 L351.3 170.9 L352.1 173.5 L353 175.9 L353.8 178.3 L354.7 180.6 L355.6 182.8 L356.4 185 L357.3 187.2 L358.1 189.6 L359 192 L359.9 194.6 L360.7 197.3 L361.6 200 L362.4 202.9 L363.3 205.7 L364.2 208.5 L365 211.4 L365.9 214.3 L366.7 217.2 L367.6 219.8 L368.5 222.3 L369.3 224.8 L370.2 227.3 L371 230.1 L371.9 233.2 L372.8 236.6 L373.6 240.1 L374.5 243.7 L375.3 247.3 L376.2 250.8 L377.1 254.2 L377.9 257.7 L378.8 261.1 L379.6 264.6 L380.5 268 L381.4 271.5 L382.2 275 L383.1 278.5 L383.9 282 L384.8 285.3 L385.7 288.4 L386.5 291.4 L387.4 294.2 L388.2 296.7 L389.1 298.9 L390 300.9 L390.8 302.9 L391.7 304.9 L392.5 306.7 L393.4 308.2 L394.3 309.3 L395.1 310.2 L396 311 L396.8 311.4 L397.7 311.3 L398.6 311 L399.4 310.6 L400.3 310.1 L401.1 309.5 L402 309 L402.9 308.4 L403.7 307.8 L404.6 307.1 L405.4 306.5 L406.3 306.1 L407.2 306 L408 306.1 L408.9 306.2 L409.7 306.4 L410.6 306.7 L411.5 307 L412.3 307.4 L413.2 307.7 L414 308 L414.9 308.3 L415.8 308.7 L416.6 309.1 L417.5 309.5 L418.3 310 L419.2 310.4 L420.1 310.9 L420.9 311.4 L421.8 311.9 L422.6 312.4 L423.5 312.9 L424.4 313.5 L425.2 314.1 L426.1 314.7 L426.9 315.3 L427.8 315.9 L428.7 316.5 L429.5 317.2 L430.4 317.8 L431.2 318.4 L432.1 319 L433 319.6 L433.8 320.2 L434.7 320.9 L435.5 321.6 L436.4 322.4 L437.3 323.2 L438.1 324 L439 324.9 L439.8 325.8 L440.7 326.8 L441.6 327.9 L442.4 329 L443.3 330.1 L444.1 331.2 L445 332.1 L445.9 333.1 L446.7 334 L447.6 334.9 L448.4 335.8 L449.3 336.6 L450.2 337.5 L451 338.2 L451.9 338.9 L452.7 339.6 L453.6 340.2 L454.5 340.8 L455.3 341.4 L456.2 342 L457 342.5 L457.9 343 L458.8 343.4 L459.6 343.8 L460.5 344.2 L461.3 344.5 L462.2 344.9 L463.1 345.2 L463.9 345.5 L464.8 345.8 L465.6 346 L466.5 346.3 L467.4 346.5 L468.2 346.7 L469.1 346.8 L469.9 347 L470.8 347.1 L471.7 347.2 L472.5 347.4 L473.4 347.5 L474.2 347.6 L475.1 347.7 L476 347.8 L476.8 347.9 L477.7 348 L478.5 348.1 L479.4 348.2 L480.3 348.2 L481.1 348.3 L482 348.3 L482.8 348.4 L483.7 348.4 L484.6 348.4 L485.4 348.4 L486.3 348.4 L487.1 348.5 L488 348.5 L488.9 348.5 L489.7 348.5 L490.6 348.5 L491.4 348.5 L492.3 348.5 L493.2 348.6 L494 348.6 L494.9 348.6 L495.7 348.6 L496.6 348.6 L497.5 348.6 L498.3 348.6 L499.2 348.6 L500 348.6 L500.9 348.6 L501.8 348.6 L502.6 348.6 L503.5 348.6 L504.3 348.6 L505.2 348.6 L506.1 348.6 L506.9 348.6 L507.8 348.6 L508.6 348.6 L509.5 348.6 L510.4 348.6 L511.2 348.6 L512.1 348.6 L512.9 348.6 L513.8 348.6 L514.7 348.6 L515.5 348.6 L516.4 348.6 L517.2 348.6 L518.1 348.6 L519 348.6 L519.8 348.6 L520.7 348.6 L521.5 348.6 L522.4 348.6 L523.3 348.6 L524.1 348.6" stroke="#555" stroke-width="0.6" fill="none"/>
<g fill="#fff" stroke="#404040" stroke-width="0.68">
<circle cx="70.9" cy="106.3" r="1.65"/>
<circle cx="71.8" cy="104.8" r="1.65"/>
<circle cx="72.6" cy="103.5" r="1.65"/>
<circle cx="73.5" cy="102.5" r="1.65"/>
<circle cx="74.3" cy="101.7" r="1.65"/>
<circle cx="75.2" cy="101.1" r="1.65"/>
<circle cx="76.1" cy="100.6" r="1.65"/>
<circle cx="76.9" cy="100.2" r="1.65"/>
<circle cx="77.8" cy="100" r="1.65"/>
<circle cx="78.6" cy="100.1" r="1.65"/>
<circle cx="79.5" cy="100.5" r="1.65"/>
<circle cx="80.4" cy="101" r="1.65"/>
<circle cx="81.2" cy="101.7" r="1.65"/>
<circle cx="82.1" cy="102.6" r="1.65"/>
<circle cx="82.9" cy="103.9" r="1.65"/>
<circle cx="83.8" cy="105.6" r="1.65"/>
<circle cx="84.7" cy="107.8" r="1.65"/>
<circle cx="85.5" cy="110.4" r="1.65"/>
<circle cx="86.4" cy="113.1" r="1.65"/>
<circle cx="87.2" cy="115.7" r="1.65"/>
<circle cx="88.1" cy="118.6" r="1.65"/>
<circle cx="89" cy="121.5" r="1.65"/>
<circle cx="89.8" cy="124.6" r="1.65"/>
<circle cx="90.7" cy="127.8" r="1.65"/>
<circle cx="91.5" cy="131.1" r="1.65"/>
<circle cx="92.4" cy="134.4" r="1.65"/>
<circle cx="93.3" cy="137.9" r="1.65"/>
<circle cx="94.1" cy="141.4" r="1.65"/>
<circle cx="95" cy="144.9" r="1.65"/>
<circle cx="95.8" cy="148.4" r="1.65"/>
<circle cx="96.7" cy="152.1" r="1.65"/>
<circle cx="97.6" cy="155.6" r="1.65"/>
<circle cx="98.4" cy="158.9" r="1.65"/>
<circle cx="99.3" cy="161.9" r="1.65"/>
<circle cx="100.1" cy="164.4" r="1.65"/>
<circle cx="101" cy="167" r="1.65"/>
<circle cx="101.9" cy="169.8" r="1.65"/>
<circle cx="102.7" cy="172.8" r="1.65"/>
<circle cx="103.6" cy="176.9" r="1.65"/>
<circle cx="104.4" cy="181.8" r="1.65"/>
<circle cx="105.3" cy="186.6" r="1.65"/>
<circle cx="106.2" cy="191.1" r="1.65"/>
<circle cx="107" cy="195.6" r="1.65"/>
<circle cx="107.9" cy="199.9" r="1.65"/>
<circle cx="108.7" cy="203.9" r="1.65"/>
<circle cx="109.6" cy="207.5" r="1.65"/>
<circle cx="110.5" cy="211" r="1.65"/>
<circle cx="111.3" cy="214.3" r="1.65"/>
<circle cx="112.2" cy="217.4" r="1.65"/>
<circle cx="113" cy="220.4" r="1.65"/>
<circle cx="113.9" cy="223.3" r="1.65"/>
<circle cx="114.8" cy="226.1" r="1.65"/>
<circle cx="115.6" cy="228.8" r="1.65"/>
<circle cx="116.5" cy="231.4" r="1.65"/>
<circle cx="117.3" cy="234" r="1.65"/>
<circle cx="118.2" cy="236.6" r="1.65"/>
<circle cx="119.1" cy="239.2" r="1.65"/>
<circle cx="119.9" cy="241.9" r="1.65"/>
<circle cx="120.8" cy="244.7" r="1.65"/>
<circle cx="121.6" cy="247.4" r="1.65"/>
<circle cx="122.5" cy="249.8" r="1.65"/>
<circle cx="123.4" cy="252.2" r="1.65"/>
<circle cx="124.2" cy="254.5" r="1.65"/>
<circle cx="125.1" cy="256.6" r="1.65"/>
<circle cx="125.9" cy="258.6" r="1.65"/>
<circle cx="126.8" cy="260.3" r="1.65"/>
<circle cx="127.7" cy="261.7" r="1.65"/>
<circle cx="128.5" cy="263.1" r="1.65"/>
<circle cx="129.4" cy="264.3" r="1.65"/>
<circle cx="130.2" cy="265.4" r="1.65"/>
<circle cx="131.1" cy="266.3" r="1.65"/>
<circle cx="132" cy="267" r="1.65"/>
<circle cx="132.8" cy="267.5" r="1.65"/>
<circle cx="133.7" cy="268" r="1.65"/>
<circle cx="134.5" cy="268.4" r="1.65"/>
<circle cx="135.4" cy="268.7" r="1.65"/>
<circle cx="136.3" cy="269" r="1.65"/>
<circle cx="137.1" cy="269.3" r="1.65"/>
<circle cx="138" cy="269.4" r="1.65"/>
<circle cx="138.8" cy="269.5" r="1.65"/>
<circle cx="139.7" cy="269.6" r="1.65"/>
<circle cx="140.6" cy="269.7" r="1.65"/>
<circle cx="141.4" cy="269.7" r="1.65"/>
<circle cx="142.3" cy="269.8" r="1.65"/>
<circle cx="143.1" cy="269.8" r="1.65"/>
<circle cx="144" cy="269.9" r="1.65"/>
<circle cx="144.9" cy="269.9" r="1.65"/>
<circle cx="145.7" cy="270" r="1.65"/>
<circle cx="146.6" cy="270" r="1.65"/>
<circle cx="147.4" cy="270" r="1.65"/>
<circle cx="148.3" cy="270" r="1.65"/>
<circle cx="149.2" cy="269.9" r="1.65"/>
<circle cx="150" cy="269.8" r="1.65"/>
<circle cx="150.9" cy="269.7" r="1.65"/>
<circle cx="151.7" cy="269.5" r="1.65"/>
<circle cx="152.6" cy="269.3" r="1.65"/>
<circle cx="153.5" cy="269.1" r="1.65"/>
<circle cx="154.3" cy="268.9" r="1.65"/>
<circle cx="155.2" cy="268.8" r="1.65"/>
<circle cx="156" cy="268.6" r="1.65"/>
<circle cx="156.9" cy="268.4" r="1.65"/>
<circle cx="157.8" cy="268.2" r="1.65"/>
<circle cx="158.6" cy="268" r="1.65"/>
<circle cx="159.5" cy="267.8" r="1.65"/>
<circle cx="160.3" cy="267.6" r="1.65"/>
<circle cx="161.2" cy="267.5" r="1.65"/>
<circle cx="162.1" cy="267.5" r="1.65"/>
<circle cx="162.9" cy="267.5" r="1.65"/>
<circle cx="163.8" cy="267.5" r="1.65"/>
<circle cx="164.6" cy="267.6" r="1.65"/>
<circle cx="165.5" cy="267.6" r="1.65"/>
<circle cx="166.4" cy="267.7" r="1.65"/>
<circle cx="167.2" cy="267.8" r="1.65"/>
<circle cx="168.1" cy="267.8" r="1.65"/>
<circle cx="168.9" cy="267.9" r="1.65"/>
<circle cx="169.8" cy="268" r="1.65"/>
<circle cx="170.7" cy="268.1" r="1.65"/>
<circle cx="171.5" cy="268.2" r="1.65"/>
<circle cx="172.4" cy="268.4" r="1.65"/>
<circle cx="173.2" cy="268.6" r="1.65"/>
<circle cx="174.1" cy="268.6" r="1.65"/>
<circle cx="175" cy="268.2" r="1.65"/>
<circle cx="175.8" cy="267.3" r="1.65"/>
<circle cx="176.7" cy="266.1" r="1.65"/>
<circle cx="177.5" cy="264.7" r="1.65"/>
<circle cx="178.4" cy="263.3" r="1.65"/>
<circle cx="179.3" cy="261.6" r="1.65"/>
<circle cx="180.1" cy="259.5" r="1.65"/>
<circle cx="181" cy="257.3" r="1.65"/>
<circle cx="181.8" cy="255.3" r="1.65"/>
<circle cx="182.7" cy="253.5" r="1.65"/>
<circle cx="183.6" cy="252.1" r="1.65"/>
<circle cx="184.4" cy="250.8" r="1.65"/>
<circle cx="185.3" cy="249.6" r="1.65"/>
<circle cx="186.1" cy="248.6" r="1.65"/>
<circle cx="187" cy="247.7" r="1.65"/>
<circle cx="187.9" cy="247.1" r="1.65"/>
<circle cx="188.7" cy="246.7" r="1.65"/>
<circle cx="189.6" cy="246.4" r="1.65"/>
<circle cx="190.4" cy="246.1" r="1.65"/>
<circle cx="191.3" cy="245.9" r="1.65"/>
<circle cx="192.2" cy="245.5" r="1.65"/>
<circle cx="193" cy="245.1" r="1.65"/>
<circle cx="193.9" cy="244.7" r="1.65"/>
<circle cx="194.7" cy="244.2" r="1.65"/>
<circle cx="195.6" cy="243.7" r="1.65"/>
<circle cx="196.5" cy="243.2" r="1.65"/>
<circle cx="197.3" cy="242.7" r="1.65"/>
<circle cx="198.2" cy="242.2" r="1.65"/>
<circle cx="199" cy="241.6" r="1.65"/>
<circle cx="199.9" cy="241.1" r="1.65"/>
<circle cx="200.8" cy="240.5" r="1.65"/>
<circle cx="201.6" cy="239.9" r="1.65"/>
<circle cx="202.5" cy="239.3" r="1.65"/>
<circle cx="203.3" cy="238.7" r="1.65"/>
<circle cx="204.2" cy="238.1" r="1.65"/>
<circle cx="205.1" cy="237.5" r="1.65"/>
<circle cx="205.9" cy="236.9" r="1.65"/>
<circle cx="206.8" cy="236.2" r="1.65"/>
<circle cx="207.6" cy="235.6" r="1.65"/>
<circle cx="208.5" cy="235" r="1.65"/>
<circle cx="209.4" cy="234.4" r="1.65"/>
<circle cx="210.2" cy="233.9" r="1.65"/>
<circle cx="211.1" cy="233.3" r="1.65"/>
<circle cx="211.9" cy="232.7" r="1.65"/>
<circle cx="212.8" cy="232.1" r="1.65"/>
<circle cx="213.7" cy="231.5" r="1.65"/>
<circle cx="214.5" cy="230.9" r="1.65"/>
<circle cx="215.4" cy="230.4" r="1.65"/>
<circle cx="216.2" cy="229.9" r="1.65"/>
<circle cx="217.1" cy="229.4" r="1.65"/>
<circle cx="218" cy="229" r="1.65"/>
<circle cx="218.8" cy="228.7" r="1.65"/>
<circle cx="219.7" cy="228.4" r="1.65"/>
<circle cx="220.5" cy="228.2" r="1.65"/>
<circle cx="221.4" cy="228" r="1.65"/>
<circle cx="222.3" cy="227.7" r="1.65"/>
<circle cx="223.1" cy="227.4" r="1.65"/>
<circle cx="224" cy="227" r="1.65"/>
<circle cx="224.8" cy="226.4" r="1.65"/>
<circle cx="225.7" cy="225.6" r="1.65"/>
<circle cx="226.6" cy="224.6" r="1.65"/>
<circle cx="227.4" cy="223.4" r="1.65"/>
<circle cx="228.3" cy="222.1" r="1.65"/>
<circle cx="229.1" cy="220.8" r="1.65"/>
<circle cx="230" cy="219.1" r="1.65"/>
<circle cx="230.9" cy="217.2" r="1.65"/>
<circle cx="231.7" cy="215" r="1.65"/>
<circle cx="232.6" cy="212.7" r="1.65"/>
<circle cx="233.4" cy="210.4" r="1.65"/>
<circle cx="234.3" cy="208.2" r="1.65"/>
<circle cx="235.2" cy="205.9" r="1.65"/>
<circle cx="236" cy="203.5" r="1.65"/>
<circle cx="236.9" cy="201.1" r="1.65"/>
<circle cx="237.7" cy="198.7" r="1.65"/>
<circle cx="238.6" cy="196.4" r="1.65"/>
<circle cx="239.5" cy="194.2" r="1.65"/>
<circle cx="240.3" cy="192.3" r="1.65"/>
<circle cx="241.2" cy="190.4" r="1.65"/>
<circle cx="242" cy="188.6" r="1.65"/>
<circle cx="242.9" cy="186.8" r="1.65"/>
<circle cx="243.8" cy="185.2" r="1.65"/>
<circle cx="244.6" cy="183.8" r="1.65"/>
<circle cx="245.5" cy="182.6" r="1.65"/>
<circle cx="246.3" cy="181.7" r="1.65"/>
<circle cx="247.2" cy="180.8" r="1.65"/>
<circle cx="248.1" cy="180.1" r="1.65"/>
<circle cx="248.9" cy="179.6" r="1.65"/>
<circle cx="249.8" cy="179.1" r="1.65"/>
<circle cx="250.6" cy="178.7" r="1.65"/>
<circle cx="251.5" cy="178.5" r="1.65"/>
<circle cx="252.4" cy="178.4" r="1.65"/>
<circle cx="253.2" cy="178.5" r="1.65"/>
<circle cx="254.1" cy="178.7" r="1.65"/>
<circle cx="254.9" cy="179" r="1.65"/>
<circle cx="255.8" cy="179.3" r="1.65"/>
<circle cx="256.7" cy="179.9" r="1.65"/>
<circle cx="257.5" cy="180.6" r="1.65"/>
<circle cx="258.4" cy="181.3" r="1.65"/>
<circle cx="259.2" cy="182.3" r="1.65"/>
<circle cx="260.1" cy="183.4" r="1.65"/>
<circle cx="261" cy="184.6" r="1.65"/>
<circle cx="261.8" cy="185.9" r="1.65"/>
<circle cx="262.7" cy="187.1" r="1.65"/>
<circle cx="263.5" cy="188.4" r="1.65"/>
<circle cx="264.4" cy="189.5" r="1.65"/>
<circle cx="265.3" cy="190.7" r="1.65"/>
<circle cx="266.1" cy="191.9" r="1.65"/>
<circle cx="267" cy="193.1" r="1.65"/>
<circle cx="267.8" cy="194.3" r="1.65"/>
<circle cx="268.7" cy="195.4" r="1.65"/>
<circle cx="269.6" cy="196.5" r="1.65"/>
<circle cx="270.4" cy="197.5" r="1.65"/>
<circle cx="271.3" cy="198.5" r="1.65"/>
<circle cx="272.1" cy="199.4" r="1.65"/>
<circle cx="273" cy="200.4" r="1.65"/>
<circle cx="273.9" cy="201.2" r="1.65"/>
<circle cx="274.7" cy="202" r="1.65"/>
<circle cx="275.6" cy="202.7" r="1.65"/>
<circle cx="276.4" cy="203.3" r="1.65"/>
<circle cx="277.3" cy="203.9" r="1.65"/>
<circle cx="278.2" cy="204.4" r="1.65"/>
<circle cx="279" cy="204.8" r="1.65"/>
<circle cx="279.9" cy="205" r="1.65"/>
<circle cx="280.7" cy="205" r="1.65"/>
<circle cx="281.6" cy="205" r="1.65"/>
<circle cx="282.5" cy="204.9" r="1.65"/>
<circle cx="283.3" cy="204.8" r="1.65"/>
<circle cx="284.2" cy="204.4" r="1.65"/>
<circle cx="285" cy="203.4" r="1.65"/>
<circle cx="285.9" cy="201.9" r="1.65"/>
<circle cx="286.8" cy="200.4" r="1.65"/>
<circle cx="287.6" cy="199" r="1.65"/>
<circle cx="288.5" cy="197.5" r="1.65"/>
<circle cx="289.3" cy="195.7" r="1.65"/>
<circle cx="290.2" cy="193.4" r="1.65"/>
<circle cx="291.1" cy="190.8" r="1.65"/>
<circle cx="291.9" cy="187.8" r="1.65"/>
<circle cx="292.8" cy="184.6" r="1.65"/>
<circle cx="293.6" cy="181.4" r="1.65"/>
<circle cx="294.5" cy="178" r="1.65"/>
<circle cx="295.4" cy="174.4" r="1.65"/>
<circle cx="296.2" cy="170.5" r="1.65"/>
<circle cx="297.1" cy="166.5" r="1.65"/>
<circle cx="297.9" cy="162.6" r="1.65"/>
<circle cx="298.8" cy="158.6" r="1.65"/>
<circle cx="299.7" cy="154.6" r="1.65"/>
<circle cx="300.5" cy="150.6" r="1.65"/>
<circle cx="301.4" cy="146.7" r="1.65"/>
<circle cx="302.2" cy="143" r="1.65"/>
<circle cx="303.1" cy="139.5" r="1.65"/>
<circle cx="304" cy="136.1" r="1.65"/>
<circle cx="304.8" cy="132.7" r="1.65"/>
<circle cx="305.7" cy="129.3" r="1.65"/>
<circle cx="306.5" cy="125.9" r="1.65"/>
<circle cx="307.4" cy="122.2" r="1.65"/>
<circle cx="308.3" cy="118" r="1.65"/>
<circle cx="309.1" cy="113.8" r="1.65"/>
<circle cx="310" cy="110.1" r="1.65"/>
<circle cx="310.8" cy="106.7" r="1.65"/>
<circle cx="311.7" cy="103.6" r="1.65"/>
<circle cx="312.6" cy="101" r="1.65"/>
<circle cx="313.4" cy="99.2" r="1.65"/>
<circle cx="314.3" cy="97.6" r="1.65"/>
<circle cx="315.1" cy="96.6" r="1.65"/>
<circle cx="316" cy="96.5" r="1.65"/>
<circle cx="316.9" cy="97" r="1.65"/>
<circle cx="317.7" cy="97.9" r="1.65"/>
<circle cx="318.6" cy="99" r="1.65"/>
<circle cx="319.4" cy="100.1" r="1.65"/>
<circle cx="320.3" cy="101.5" r="1.65"/>
<circle cx="321.2" cy="103.2" r="1.65"/>
<circle cx="322" cy="105" r="1.65"/>
<circle cx="322.9" cy="106.8" r="1.65"/>
<circle cx="323.7" cy="108.4" r="1.65"/>
<circle cx="324.6" cy="110.1" r="1.65"/>
<circle cx="325.5" cy="111.7" r="1.65"/>
<circle cx="326.3" cy="113.4" r="1.65"/>
<circle cx="327.2" cy="115" r="1.65"/>
<circle cx="328" cy="116.6" r="1.65"/>
<circle cx="328.9" cy="118.1" r="1.65"/>
<circle cx="329.8" cy="119.5" r="1.65"/>
<circle cx="330.6" cy="120.9" r="1.65"/>
<circle cx="331.5" cy="122.3" r="1.65"/>
<circle cx="332.3" cy="123.7" r="1.65"/>
<circle cx="333.2" cy="125.2" r="1.65"/>
<circle cx="334.1" cy="126.6" r="1.65"/>
<circle cx="334.9" cy="128" r="1.65"/>
<circle cx="335.8" cy="129.4" r="1.65"/>
<circle cx="336.6" cy="130.8" r="1.65"/>
<circle cx="337.5" cy="132.2" r="1.65"/>
<circle cx="338.4" cy="133.7" r="1.65"/>
<circle cx="339.2" cy="135.4" r="1.65"/>
<circle cx="340.1" cy="137.2" r="1.65"/>
<circle cx="340.9" cy="139.3" r="1.65"/>
<circle cx="341.8" cy="141.6" r="1.65"/>
<circle cx="342.7" cy="144.2" r="1.65"/>
<circle cx="343.5" cy="146.9" r="1.65"/>
<circle cx="344.4" cy="149.6" r="1.65"/>
<circle cx="345.2" cy="152.5" r="1.65"/>
<circle cx="346.1" cy="155.2" r="1.65"/>
<circle cx="347" cy="157.9" r="1.65"/>
<circle cx="347.8" cy="160.5" r="1.65"/>
<circle cx="348.7" cy="163.1" r="1.65"/>
<circle cx="349.5" cy="165.7" r="1.65"/>
<circle cx="350.4" cy="168.3" r="1.65"/>
<circle cx="351.3" cy="170.9" r="1.65"/>
<circle cx="352.1" cy="173.5" r="1.65"/>
<circle cx="353" cy="175.9" r="1.65"/>
<circle cx="353.8" cy="178.3" r="1.65"/>
<circle cx="354.7" cy="180.6" r="1.65"/>
<circle cx="355.6" cy="182.8" r="1.65"/>
<circle cx="356.4" cy="185" r="1.65"/>
<circle cx="357.3" cy="187.2" r="1.65"/>
<circle cx="358.1" cy="189.6" r="1.65"/>
<circle cx="359" cy="192" r="1.65"/>
<circle cx="359.9" cy="194.6" r="1.65"/>
<circle cx="360.7" cy="197.3" r="1.65"/>
<circle cx="361.6" cy="200" r="1.65"/>
<circle cx="362.4" cy="202.9" r="1.65"/>
<circle cx="363.3" cy="205.7" r="1.65"/>
<circle cx="364.2" cy="208.5" r="1.65"/>
<circle cx="365" cy="211.4" r="1.65"/>
<circle cx="365.9" cy="214.3" r="1.65"/>
<circle cx="366.7" cy="217.2" r="1.65"/>
<circle cx="367.6" cy="219.8" r="1.65"/>
<circle cx="368.5" cy="222.3" r="1.65"/>
<circle cx="369.3" cy="224.8" r="1.65"/>
<circle cx="370.2" cy="227.3" r="1.65"/>
<circle cx="371" cy="230.1" r="1.65"/>
<circle cx="371.9" cy="233.2" r="1.65"/>
<circle cx="372.8" cy="236.6" r="1.65"/>
<circle cx="373.6" cy="240.1" r="1.65"/>
<circle cx="374.5" cy="243.7" r="1.65"/>
<circle cx="375.3" cy="247.3" r="1.65"/>
<circle cx="376.2" cy="250.8" r="1.65"/>
<circle cx="377.1" cy="254.2" r="1.65"/>
<circle cx="377.9" cy="257.7" r="1.65"/>
<circle cx="378.8" cy="261.1" r="1.65"/>
<circle cx="379.6" cy="264.6" r="1.65"/>
<circle cx="380.5" cy="268" r="1.65"/>
<circle cx="381.4" cy="271.5" r="1.65"/>
<circle cx="382.2" cy="275" r="1.65"/>
<circle cx="383.1" cy="278.5" r="1.65"/>
<circle cx="383.9" cy="282" r="1.65"/>
<circle cx="384.8" cy="285.3" r="1.65"/>
<circle cx="385.7" cy="288.4" r="1.65"/>
<circle cx="386.5" cy="291.4" r="1.65"/>
<circle cx="387.4" cy="294.2" r="1.65"/>
<circle cx="388.2" cy="296.7" r="1.65"/>
<circle cx="389.1" cy="298.9" r="1.65"/>
<circle cx="390" cy="300.9" r="1.65"/>
<circle cx="390.8" cy="302.9" r="1.65"/>
<circle cx="391.7" cy="304.9" r="1.65"/>
<circle cx="392.5" cy="306.7" r="1.65"/>
<circle cx="393.4" cy="308.2" r="1.65"/>
<circle cx="394.3" cy="309.3" r="1.65"/>
<circle cx="395.1" cy="310.2" r="1.65"/>
<circle cx="396" cy="311" r="1.65"/>
<circle cx="396.8" cy="311.4" r="1.65"/>
<circle cx="397.7" cy="311.3" r="1.65"/>
<circle cx="398.6" cy="311" r="1.65"/>
<circle cx="399.4" cy="310.6" r="1.65"/>
<circle cx="400.3" cy="310.1" r="1.65"/>
<circle cx="401.1" cy="309.5" r="1.65"/>
<circle cx="402" cy="309" r="1.65"/>
<circle cx="402.9" cy="308.4" r="1.65"/>
<circle cx="403.7" cy="307.8" r="1.65"/>
<circle cx="404.6" cy="307.1" r="1.65"/>
<circle cx="405.4" cy="306.5" r="1.65"/>
<circle cx="406.3" cy="306.1" r="1.65"/>
<circle cx="407.2" cy="306" r="1.65"/>
<circle cx="408" cy="306.1" r="1.65"/>
<circle cx="408.9" cy="306.2" r="1.65"/>
<circle cx="409.7" cy="306.4" r="1.65"/>
<circle cx="410.6" cy="306.7" r="1.65"/>
<circle cx="411.5" cy="307" r="1.65"/>
<circle cx="412.3" cy="307.4" r="1.65"/>
<circle cx="413.2" cy="307.7" r="1.65"/>
<circle cx="414" cy="308" r="1.65"/>
<circle cx="414.9" cy="308.3" r="1.65"/>
<circle cx="415.8" cy="308.7" r="1.65"/>
<circle cx="416.6" cy="309.1" r="1.65"/>
<circle cx="417.5" cy="309.5" r="1.65"/>
<circle cx="418.3" cy="310" r="1.65"/>
<circle cx="419.2" cy="310.4" r="1.65"/>
<circle cx="420.1" cy="310.9" r="1.65"/>
<circle cx="420.9" cy="311.4" r="1.65"/>
<circle cx="421.8" cy="311.9" r="1.65"/>
<circle cx="422.6" cy="312.4" r="1.65"/>
<circle cx="423.5" cy="312.9" r="1.65"/>
<circle cx="424.4" cy="313.5" r="1.65"/>
<circle cx="425.2" cy="314.1" r="1.65"/>
<circle cx="426.1" cy="314.7" r="1.65"/>
<circle cx="426.9" cy="315.3" r="1.65"/>
<circle cx="427.8" cy="315.9" r="1.65"/>
<circle cx="428.7" cy="316.5" r="1.65"/>
<circle cx="429.5" cy="317.2" r="1.65"/>
<circle cx="430.4" cy="317.8" r="1.65"/>
<circle cx="431.2" cy="318.4" r="1.65"/>
<circle cx="432.1" cy="319" r="1.65"/>
<circle cx="433" cy="319.6" r="1.65"/>
<circle cx="433.8" cy="320.2" r="1.65"/>
<circle cx="434.7" cy="320.9" r="1.65"/>
<circle cx="435.5" cy="321.6" r="1.65"/>
<circle cx="436.4" cy="322.4" r="1.65"/>
<circle cx="437.3" cy="323.2" r="1.65"/>
<circle cx="438.1" cy="324" r="1.65"/>
<circle cx="439" cy="324.9" r="1.65"/>
<circle cx="439.8" cy="325.8" r="1.65"/>
<circle cx="440.7" cy="326.8" r="1.65"/>
<circle cx="441.6" cy="327.9" r="1.65"/>
<circle cx="442.4" cy="329" r="1.65"/>
<circle cx="443.3" cy="330.1" r="1.65"/>
<circle cx="444.1" cy="331.2" r="1.65"/>
<circle cx="445" cy="332.1" r="1.65"/>
<circle cx="445.9" cy="333.1" r="1.65"/>
<circle cx="446.7" cy="334" r="1.65"/>
<circle cx="447.6" cy="334.9" r="1.65"/>
<circle cx="448.4" cy="335.8" r="1.65"/>
<circle cx="449.3" cy="336.6" r="1.65"/>
<circle cx="450.2" cy="337.5" r="1.65"/>
<circle cx="451" cy="338.2" r="1.65"/>
<circle cx="451.9" cy="338.9" r="1.65"/>
<circle cx="452.7" cy="339.6" r="1.65"/>
<circle cx="453.6" cy="340.2" r="1.65"/>
<circle cx="454.5" cy="340.8" r="1.65"/>
<circle cx="455.3" cy="341.4" r="1.65"/>
<circle cx="456.2" cy="342" r="1.65"/>
<circle cx="457" cy="342.5" r="1.65"/>
<circle cx="457.9" cy="343" r="1.65"/>
<circle cx="458.8" cy="343.4" r="1.65"/>
<circle cx="459.6" cy="343.8" r="1.65"/>
<circle cx="460.5" cy="344.2" r="1.65"/>
<circle cx="461.3" cy="344.5" r="1.65"/>
<circle cx="462.2" cy="344.9" r="1.65"/>
<circle cx="463.1" cy="345.2" r="1.65"/>
<circle cx="463.9" cy="345.5" r="1.65"/>
<circle cx="464.8" cy="345.8" r="1.65"/>
<circle cx="465.6" cy="346" r="1.65"/>
<circle cx="466.5" cy="346.3" r="1.65"/>
<circle cx="467.4" cy="346.5" r="1.65"/>
<circle cx="468.2" cy="346.7" r="1.65"/>
<circle cx="469.1" cy="346.8" r="1.65"/>
<circle cx="469.9" cy="347" r="1.65"/>
<circle cx="470.8" cy="347.1" r="1.65"/>
<circle cx="471.7" cy="347.2" r="1.65"/>
<circle cx="472.5" cy="347.4" r="1.65"/>
<circle cx="473.4" cy="347.5" r="1.65"/>
<circle cx="474.2" cy="347.6" r="1.65"/>
<circle cx="475.1" cy="347.7" r="1.65"/>
<circle cx="476" cy="347.8" r="1.65"/>
<circle cx="476.8" cy="347.9" r="1.65"/>
<circle cx="477.7" cy="348" r="1.65"/>
<circle cx="478.5" cy="348.1" r="1.65"/>
<circle cx="479.4" cy="348.2" r="1.65"/>
<circle cx="480.3" cy="348.2" r="1.65"/>
<circle cx="481.1" cy="348.3" r="1.65"/>
<circle cx="482" cy="348.3" r="1.65"/>
<circle cx="482.8" cy="348.4" r="1.65"/>
<circle cx="483.7" cy="348.4" r="1.65"/>
<circle cx="484.6" cy="348.4" r="1.65"/>
<circle cx="485.4" cy="348.4" r="1.65"/>
<circle cx="486.3" cy="348.4" r="1.65"/>
<circle cx="487.1" cy="348.5" r="1.65"/>
<circle cx="488" cy="348.5" r="1.65"/>
<circle cx="488.9" cy="348.5" r="1.65"/>
<circle cx="489.7" cy="348.5" r="1.65"/>
<circle cx="490.6" cy="348.5" r="1.65"/>
<circle cx="491.4" cy="348.5" r="1.65"/>
<circle cx="492.3" cy="348.5" r="1.65"/>
<circle cx="493.2" cy="348.6" r="1.65"/>
<circle cx="494" cy="348.6" r="1.65"/>
<circle cx="494.9" cy="348.6" r="1.65"/>
<circle cx="495.7" cy="348.6" r="1.65"/>
<circle cx="496.6" cy="348.6" r="1.65"/>
<circle cx="497.5" cy="348.6" r="1.65"/>
<circle cx="498.3" cy="348.6" r="1.65"/>
<circle cx="499.2" cy="348.6" r="1.65"/>
<circle cx="500" cy="348.6" r="1.65"/>
<circle cx="500.9" cy="348.6" r="1.65"/>
<circle cx="501.8" cy="348.6" r="1.65"/>
<circle cx="502.6" cy="348.6" r="1.65"/>
<circle cx="503.5" cy="348.6" r="1.65"/>
<circle cx="504.3" cy="348.6" r="1.65"/>
<circle cx="505.2" cy="348.6" r="1.65"/>
<circle cx="506.1" cy="348.6" r="1.65"/>
<circle cx="506.9" cy="348.6" r="1.65"/>
<circle cx="507.8" cy="348.6" r="1.65"/>
<circle cx="508.6" cy="348.6" r="1.65"/>
<circle cx="509.5" cy="348.6" r="1.65"/>
<circle cx="510.4" cy="348.6" r="1.65"/>
<circle cx="511.2" cy="348.6" r="1.65"/>
<circle cx="512.1" cy="348.6" r="1.65"/>
<circle cx="512.9" cy="348.6" r="1.65"/>
<circle cx="513.8" cy="348.6" r="1.65"/>
<circle cx="514.7" cy="348.6" r="1.65"/>
<circle cx="515.5" cy="348.6" r="1.65"/>
<circle cx="516.4" cy="348.6" r="1.65"/>
<circle cx="517.2" cy="348.6" r="1.65"/>
<circle cx="518.1" cy="348.6" r="1.65"/>
<circle cx="519" cy="348.6" r="1.65"/>
<circle cx="519.8" cy="348.6" r="1.65"/>
<circle cx="520.7" cy="348.6" r="1.65"/>
<circle cx="521.5" cy="348.6" r="1.65"/>
<circle cx="522.4" cy="348.6" r="1.65"/>
<circle cx="523.3" cy="348.6" r="1.65"/>
<circle cx="524.1" cy="348.6" r="1.65"/>
</g>
<path d="M70.9 138.1 L71.8 137.2 L72.6 136.2 L73.5 135.2 L74.3 134.2 L75.2 133.1 L76.1 131.9 L76.9 130.7 L77.8 129.4 L78.6 128.1 L79.5 126.7 L80.4 125.3 L81.2 123.8 L82.1 122.3 L82.9 120.7 L83.8 119 L84.7 117.3 L85.5 115.7 L86.4 114.2 L87.2 112.9 L88.1 111.7 L89 110.7 L89.8 109.7 L90.7 109 L91.5 108.5 L92.4 108 L93.3 107.7 L94.1 107.4 L95 107.3 L95.8 107.4 L96.7 107.8 L97.6 108.2 L98.4 108.8 L99.3 109.7 L100.1 110.8 L101 112.1 L101.9 113.6 L102.7 115.4 L103.6 117.4 L104.4 119.8 L105.3 122.6 L106.2 125.5 L107 128.4 L107.9 131.9 L108.7 136 L109.6 140.1 L110.5 144 L111.3 147.9 L112.2 151.8 L113 155.7 L113.9 159.4 L114.8 163.1 L115.6 166.7 L116.5 170.1 L117.3 173.3 L118.2 176.4 L119.1 179.4 L119.9 182.3 L120.8 185.3 L121.6 188.4 L122.5 191.6 L123.4 194.6 L124.2 197.2 L125.1 199.1 L125.9 200.6 L126.8 201.7 L127.7 202.1 L128.5 202.3 L129.4 202.2 L130.2 201.9 L131.1 201.5 L132 201 L132.8 200.5 L133.7 199.8 L134.5 199 L135.4 198.3 L136.3 197.6 L137.1 197 L138 196.3 L138.8 195.6 L139.7 195 L140.6 194.3 L141.4 193.8 L142.3 193.3 L143.1 193 L144 192.8 L144.9 192.7 L145.7 192.6 L146.6 192.5 L147.4 192.4 L148.3 192.3 L149.2 192.2 L150 192.1 L150.9 192.1 L151.7 192 L152.6 192 L153.5 192 L154.3 192 L155.2 192 L156 192 L156.9 192 L157.8 192 L158.6 192 L159.5 192 L160.3 192 L161.2 192 L162.1 192 L162.9 192 L163.8 192 L164.6 192 L165.5 192 L166.4 192 L167.2 192 L168.1 192 L168.9 192 L169.8 192 L170.7 192 L171.5 192 L172.4 192 L173.2 191.9 L174.1 191.9 L175 191.9 L175.8 191.8 L176.7 191.8 L177.5 191.7 L178.4 191.7 L179.3 191.6 L180.1 191.6 L181 191.5 L181.8 191.5 L182.7 191.4 L183.6 191.4 L184.4 191.4 L185.3 191.3 L186.1 191.3 L187 191.2 L187.9 191.2 L188.7 191.2 L189.6 191.2 L190.4 191.2 L191.3 191.2 L192.2 191.2 L193 191.2 L193.9 191.2 L194.7 191.2 L195.6 191.2 L196.5 191.3 L197.3 191.3 L198.2 191.3 L199 191.3 L199.9 191.3 L200.8 191.4 L201.6 191.4 L202.5 191.4 L203.3 191.5 L204.2 191.5 L205.1 191.5 L205.9 191.5 L206.8 191.6 L207.6 191.6 L208.5 191.6 L209.4 191.7 L210.2 191.7 L211.1 191.7 L211.9 191.8 L212.8 191.8 L213.7 191.9 L214.5 192 L215.4 192 L216.2 192.1 L217.1 192.2 L218 192.3 L218.8 192.4 L219.7 192.5 L220.5 192.6 L221.4 192.7 L222.3 192.9 L223.1 193.2 L224 193.4 L224.8 193.6 L225.7 193.7 L226.6 193.8 L227.4 193.8 L228.3 193.6 L229.1 193.2 L230 192.7 L230.9 192.1 L231.7 191.4 L232.6 190.7 L233.4 190 L234.3 189.3 L235.2 188.5 L236 187.6 L236.9 186.6 L237.7 185.5 L238.6 184.4 L239.5 183.3 L240.3 182.2 L241.2 181.1 L242 179.9 L242.9 178.8 L243.8 177.7 L244.6 176.5 L245.5 175.3 L246.3 174.1 L247.2 173 L248.1 171.9 L248.9 170.8 L249.8 169.7 L250.6 168.6 L251.5 167.8 L252.4 167.3 L253.2 166.9 L254.1 166.6 L254.9 166.5 L255.8 166.6 L256.7 166.9 L257.5 167.3 L258.4 167.9 L259.2 168.5 L260.1 169.1 L261 169.8 L261.8 170.7 L262.7 171.8 L263.5 173 L264.4 174.2 L265.3 175.5 L266.1 176.7 L267 178 L267.8 179.2 L268.7 180.5 L269.6 181.8 L270.4 183.2 L271.3 184.5 L272.1 185.9 L273 187.2 L273.9 188.6 L274.7 189.9 L275.6 191.1 L276.4 192.4 L277.3 193.6 L278.2 194.9 L279 196.1 L279.9 197.3 L280.7 198.5 L281.6 199.5 L282.5 200.5 L283.3 201.3 L284.2 202.1 L285 203 L285.9 203.8 L286.8 204.4 L287.6 204.8 L288.5 205 L289.3 205 L290.2 204.8 L291.1 204.6 L291.9 204.3 L292.8 204 L293.6 203.7 L294.5 203.2 L295.4 202.6 L296.2 201.8 L297.1 200.8 L297.9 199.7 L298.8 198.6 L299.7 197.5 L300.5 196.5 L301.4 195.5 L302.2 194.5 L303.1 193.6 L304 192.6 L304.8 191.6 L305.7 190.6 L306.5 189.6 L307.4 188.6 L308.3 187.6 L309.1 186.5 L310 185.5 L310.8 184.5 L311.7 183.5 L312.6 182.5 L313.4 181.5 L314.3 180.5 L315.1 179.4 L316 178.4 L316.9 177.4 L317.7 176.3 L318.6 175.3 L319.4 174.2 L320.3 173.1 L321.2 172 L322 171 L322.9 169.8 L323.7 168.7 L324.6 167.5 L325.5 166.3 L326.3 165 L327.2 163.6 L328 162.2 L328.9 160.6 L329.8 159 L330.6 157.2 L331.5 155.4 L332.3 153.4 L333.2 151.3 L334.1 149 L334.9 146.6 L335.8 144 L336.6 141.5 L337.5 139 L338.4 136.4 L339.2 133.5 L340.1 130.2 L340.9 126.7 L341.8 123.2 L342.7 119.7 L343.5 116.2 L344.4 112.7 L345.2 109.2 L346.1 105.5 L347 102 L347.8 98.8 L348.7 95.4 L349.5 92.5 L350.4 91 L351.3 91.3 L352.1 92.3 L353 93.8 L353.8 95.6 L354.7 97.4 L355.6 99.9 L356.4 102.9 L357.3 106.3 L358.1 109.5 L359 112.9 L359.9 116.5 L360.7 120 L361.6 123 L362.4 125.7 L363.3 128.5 L364.2 131.6 L365 135.2 L365.9 139.2 L366.7 143.4 L367.6 147.9 L368.5 152.6 L369.3 157.8 L370.2 163.1 L371 168.2 L371.9 172.9 L372.8 177.5 L373.6 182 L374.5 186.6 L375.3 191.1 L376.2 195.7 L377.1 200.3 L377.9 204.6 L378.8 208.8 L379.6 213.6 L380.5 220.2 L381.4 228.7 L382.2 235.9 L383.1 242.4 L383.9 249.5 L384.8 257.8 L385.7 266.7 L386.5 274.7 L387.4 282.1 L388.2 288.8 L389.1 295.2 L390 300.8 L390.8 305.3 L391.7 309.3 L392.5 312.9 L393.4 316.7 L394.3 320.8 L395.1 324.1 L396 325.5 L396.8 324.7 L397.7 322.8 L398.6 320.4 L399.4 318.2 L400.3 316.3 L401.1 314.5 L402 312.7 L402.9 310.9 L403.7 308.9 L404.6 306.8 L405.4 304.8 L406.3 303.1 L407.2 301.8 L408 301.1 L408.9 300.5 L409.7 299.9 L410.6 299.5 L411.5 299.1 L412.3 298.8 L413.2 298.7 L414 298.7 L414.9 298.9 L415.8 299.1 L416.6 299.4 L417.5 299.7 L418.3 300.1 L419.2 300.5 L420.1 300.8 L420.9 301.2 L421.8 301.6 L422.6 302 L423.5 302.4 L424.4 302.9 L425.2 303.3 L426.1 303.8 L426.9 304.4 L427.8 304.9 L428.7 305.4 L429.5 306 L430.4 306.5 L431.2 307.1 L432.1 307.7 L433 308.4 L433.8 309.1 L434.7 309.8 L435.5 310.6 L436.4 311.4 L437.3 312.4 L438.1 313.4 L439 314.6 L439.8 315.8 L440.7 317.1 L441.6 318.3 L442.4 319.6 L443.3 321 L444.1 322.4 L445 323.9 L445.9 325.3 L446.7 326.8 L447.6 328.3 L448.4 329.7 L449.3 331.2 L450.2 332.7 L451 334.3 L451.9 335.7 L452.7 337.1 L453.6 338.4 L454.5 339.6 L455.3 340.8 L456.2 341.9 L457 343 L457.9 343.9 L458.8 344.9 L459.6 345.7 L460.5 346.4 L461.3 347.1 L462.2 347.8 L463.1 348.5 L463.9 349.1 L464.8 349.6 L465.6 350 L466.5 350.4 L467.4 350.6 L468.2 350.7 L469.1 350.9 L469.9 351.1 L470.8 351.2 L471.7 351.3 L472.5 351.4 L473.4 351.4 L474.2 351.5 L475.1 351.5 L476 351.5 L476.8 351.4 L477.7 351.3 L478.5 351.2 L479.4 351 L480.3 350.8 L481.1 350.6 L482 350.4 L482.8 350.2 L483.7 350.1 L484.6 349.9 L485.4 349.7 L486.3 349.5 L487.1 349.3 L488 349.1 L488.9 348.8 L489.7 348.6 L490.6 348.4 L491.4 348.1 L492.3 347.9 L493.2 347.7 L494 347.5 L494.9 347.3 L495.7 347.1 L496.6 346.9 L497.5 346.7 L498.3 346.5 L499.2 346.3 L500 346.2 L500.9 346 L501.8 345.8 L502.6 345.6 L503.5 345.5 L504.3 345.3 L505.2 345.1 L506.1 345 L506.9 344.8 L507.8 344.7 L508.6 344.5 L509.5 344.4 L510.4 344.2 L511.2 344.1 L512.1 344 L512.9 343.8 L513.8 343.7 L514.7 343.6 L515.5 343.5 L516.4 343.5 L517.2 343.4 L518.1 343.3 L519 343.3 L519.8 343.2 L520.7 343.2 L521.5 343.1 L522.4 343.1 L523.3 343 L524.1 343" stroke="#2020ff" stroke-width="0.8" fill="none"/>
<g fill="#a8a8ff" stroke="#4040f4" stroke-width="0.8">
<path d="M69.1 135.9L73.2 138.1L69.1 140.2Z"/>
<path d="M70 135L74.1 137.2L70 139.3Z"/>
<path d="M70.8 134.1L74.9 136.2L70.8 138.4Z"/>
<path d="M71.7 133.1L75.8 135.2L71.7 137.4Z"/>
<path d="M72.5 132L76.6 134.2L72.5 136.3Z"/>
<path d="M73.4 130.9L77.5 133.1L73.4 135.2Z"/>
<path d="M74.3 129.8L78.4 131.9L74.3 134.1Z"/>
<path d="M75.1 128.6L79.2 130.7L75.1 132.9Z"/>
<path d="M76 127.3L80.1 129.4L76 131.6Z"/>
<path d="M76.8 125.9L80.9 128.1L76.8 130.2Z"/>
<path d="M77.7 124.5L81.8 126.7L77.7 128.8Z"/>
<path d="M78.6 123.1L82.7 125.3L78.6 127.4Z"/>
<path d="M79.4 121.7L83.5 123.8L79.4 126Z"/>
<path d="M80.3 120.2L84.4 122.3L80.3 124.5Z"/>
<path d="M81.1 118.6L85.2 120.7L81.1 122.9Z"/>
<path d="M82 116.9L86.1 119L82 121.2Z"/>
<path d="M82.9 115.2L87 117.3L82.9 119.5Z"/>
<path d="M83.7 113.5L87.8 115.7L83.7 117.8Z"/>
<path d="M84.6 112L88.7 114.2L84.6 116.3Z"/>
<path d="M85.4 110.7L89.5 112.9L85.4 115Z"/>
<path d="M86.3 109.6L90.4 111.7L86.3 113.9Z"/>
<path d="M87.2 108.5L91.3 110.7L87.2 112.8Z"/>
<path d="M88 107.6L92.1 109.7L88 111.9Z"/>
<path d="M88.9 106.9L93 109L88.9 111.2Z"/>
<path d="M89.7 106.3L93.8 108.5L89.7 110.6Z"/>
<path d="M90.6 105.9L94.7 108L90.6 110.2Z"/>
<path d="M91.5 105.5L95.6 107.7L91.5 109.8Z"/>
<path d="M92.3 105.3L96.4 107.4L92.3 109.6Z"/>
<path d="M93.2 105.2L97.3 107.3L93.2 109.5Z"/>
<path d="M94 105.3L98.1 107.4L94 109.6Z"/>
<path d="M94.9 105.6L99 107.8L94.9 109.9Z"/>
<path d="M95.8 106.1L99.9 108.2L95.8 110.4Z"/>
<path d="M96.6 106.7L100.7 108.8L96.6 111Z"/>
<path d="M97.5 107.5L101.6 109.7L97.5 111.8Z"/>
<path d="M98.3 108.7L102.4 110.8L98.3 113Z"/>
<path d="M99.2 110L103.3 112.1L99.2 114.3Z"/>
<path d="M100.1 111.5L104.2 113.6L100.1 115.8Z"/>
<path d="M100.9 113.3L105 115.4L100.9 117.6Z"/>
<path d="M101.8 115.3L105.9 117.4L101.8 119.6Z"/>
<path d="M102.6 117.6L106.7 119.8L102.6 121.9Z"/>
<path d="M103.5 120.5L107.6 122.6L103.5 124.8Z"/>
<path d="M104.4 123.3L108.5 125.5L104.4 127.6Z"/>
<path d="M105.2 126.3L109.3 128.4L105.2 130.6Z"/>
<path d="M106.1 129.8L110.2 131.9L106.1 134.1Z"/>
<path d="M106.9 133.8L111 136L106.9 138.1Z"/>
<path d="M107.8 137.9L111.9 140.1L107.8 142.2Z"/>
<path d="M108.7 141.9L112.8 144L108.7 146.2Z"/>
<path d="M109.5 145.8L113.6 147.9L109.5 150.1Z"/>
<path d="M110.4 149.7L114.5 151.8L110.4 154Z"/>
<path d="M111.2 153.5L115.3 155.7L111.2 157.8Z"/>
<path d="M112.1 157.3L116.2 159.4L112.1 161.6Z"/>
<path d="M113 161L117.1 163.1L113 165.3Z"/>
<path d="M113.8 164.5L117.9 166.7L113.8 168.8Z"/>
<path d="M114.7 167.9L118.8 170.1L114.7 172.2Z"/>
<path d="M115.5 171.1L119.6 173.3L115.5 175.4Z"/>
<path d="M116.4 174.2L120.5 176.4L116.4 178.5Z"/>
<path d="M117.3 177.2L121.4 179.4L117.3 181.5Z"/>
<path d="M118.1 180.2L122.2 182.3L118.1 184.5Z"/>
<path d="M119 183.1L123.1 185.3L119 187.4Z"/>
<path d="M119.8 186.2L123.9 188.4L119.8 190.5Z"/>
<path d="M120.7 189.4L124.8 191.6L120.7 193.7Z"/>
<path d="M121.6 192.5L125.7 194.6L121.6 196.8Z"/>
<path d="M122.4 195.1L126.5 197.2L122.4 199.4Z"/>
<path d="M123.3 197L127.4 199.1L123.3 201.3Z"/>
<path d="M124.1 198.5L128.2 200.6L124.1 202.8Z"/>
<path d="M125 199.5L129.1 201.7L125 203.8Z"/>
<path d="M125.9 200L130 202.1L125.9 204.3Z"/>
<path d="M126.7 200.1L130.8 202.3L126.7 204.4Z"/>
<path d="M127.6 200.1L131.7 202.2L127.6 204.4Z"/>
<path d="M128.4 199.8L132.5 201.9L128.4 204.1Z"/>
<path d="M129.3 199.3L133.4 201.5L129.3 203.6Z"/>
<path d="M130.2 198.9L134.3 201L130.2 203.2Z"/>
<path d="M131 198.3L135.1 200.5L131 202.6Z"/>
<path d="M131.9 197.6L136 199.8L131.9 201.9Z"/>
<path d="M132.7 196.9L136.8 199L132.7 201.2Z"/>
<path d="M133.6 196.1L137.7 198.3L133.6 200.4Z"/>
<path d="M134.5 195.5L138.6 197.6L134.5 199.8Z"/>
<path d="M135.3 194.8L139.4 197L135.3 199.1Z"/>
<path d="M136.2 194.1L140.3 196.3L136.2 198.4Z"/>
<path d="M137 193.5L141.1 195.6L137 197.8Z"/>
<path d="M137.9 192.8L142 195L137.9 197.1Z"/>
<path d="M138.8 192.2L142.9 194.3L138.8 196.5Z"/>
<path d="M139.6 191.6L143.7 193.8L139.6 195.9Z"/>
<path d="M140.5 191.2L144.6 193.3L140.5 195.5Z"/>
<path d="M141.3 190.9L145.4 193L141.3 195.2Z"/>
<path d="M142.2 190.7L146.3 192.8L142.2 195Z"/>
<path d="M143.1 190.5L147.2 192.7L143.1 194.8Z"/>
<path d="M143.9 190.4L148 192.6L143.9 194.7Z"/>
<path d="M144.8 190.3L148.9 192.5L144.8 194.6Z"/>
<path d="M145.6 190.2L149.7 192.4L145.6 194.5Z"/>
<path d="M146.5 190.1L150.6 192.3L146.5 194.4Z"/>
<path d="M147.4 190.1L151.5 192.2L147.4 194.4Z"/>
<path d="M148.2 190L152.3 192.1L148.2 194.3Z"/>
<path d="M149.1 189.9L153.2 192.1L149.1 194.2Z"/>
<path d="M149.9 189.9L154 192L149.9 194.2Z"/>
<path d="M150.8 189.9L154.9 192L150.8 194.2Z"/>
<path d="M151.7 189.9L155.8 192L151.7 194.2Z"/>
<path d="M152.5 189.8L156.6 192L152.5 194.2Z"/>
<path d="M153.4 189.8L157.5 192L153.4 194.2Z"/>
<path d="M154.2 189.8L158.3 192L154.2 194.2Z"/>
<path d="M155.1 189.8L159.2 192L155.1 194.2Z"/>
<path d="M156 189.8L160.1 192L156 194.2Z"/>
<path d="M156.8 189.8L160.9 192L156.8 194.2Z"/>
<path d="M157.7 189.8L161.8 192L157.7 194.2Z"/>
<path d="M158.5 189.8L162.6 192L158.5 194.2Z"/>
<path d="M159.4 189.8L163.5 192L159.4 194.2Z"/>
<path d="M160.3 189.8L164.4 192L160.3 194.2Z"/>
<path d="M161.1 189.8L165.2 192L161.1 194.2Z"/>
<path d="M162 189.8L166.1 192L162 194.2Z"/>
<path d="M162.8 189.8L166.9 192L162.8 194.2Z"/>
<path d="M163.7 189.8L167.8 192L163.7 194.2Z"/>
<path d="M164.6 189.8L168.7 192L164.6 194.2Z"/>
<path d="M165.4 189.8L169.5 192L165.4 194.2Z"/>
<path d="M166.3 189.8L170.4 192L166.3 194.2Z"/>
<path d="M167.1 189.8L171.2 192L167.1 194.2Z"/>
<path d="M168 189.8L172.1 192L168 194.2Z"/>
<path d="M168.9 189.8L173 192L168.9 194.1Z"/>
<path d="M169.7 189.8L173.8 192L169.7 194.1Z"/>
<path d="M170.6 189.8L174.7 192L170.6 194.1Z"/>
<path d="M171.4 189.8L175.5 191.9L171.4 194.1Z"/>
<path d="M172.3 189.8L176.4 191.9L172.3 194.1Z"/>
<path d="M173.2 189.7L177.3 191.9L173.2 194Z"/>
<path d="M174 189.7L178.1 191.8L174 194Z"/>
<path d="M174.9 189.6L179 191.8L174.9 193.9Z"/>
<path d="M175.7 189.6L179.8 191.7L175.7 193.9Z"/>
<path d="M176.6 189.5L180.7 191.7L176.6 193.8Z"/>
<path d="M177.5 189.5L181.6 191.6L177.5 193.8Z"/>
<path d="M178.3 189.4L182.4 191.6L178.3 193.7Z"/>
<path d="M179.2 189.4L183.3 191.5L179.2 193.7Z"/>
<path d="M180 189.3L184.1 191.5L180 193.6Z"/>
<path d="M180.9 189.3L185 191.4L180.9 193.6Z"/>
<path d="M181.8 189.2L185.9 191.4L181.8 193.5Z"/>
<path d="M182.6 189.2L186.7 191.4L182.6 193.5Z"/>
<path d="M183.5 189.2L187.6 191.3L183.5 193.5Z"/>
<path d="M184.3 189.1L188.4 191.3L184.3 193.4Z"/>
<path d="M185.2 189.1L189.3 191.2L185.2 193.4Z"/>
<path d="M186.1 189.1L190.2 191.2L186.1 193.4Z"/>
<path d="M186.9 189.1L191 191.2L186.9 193.4Z"/>
<path d="M187.8 189.1L191.9 191.2L187.8 193.4Z"/>
<path d="M188.6 189.1L192.7 191.2L188.6 193.4Z"/>
<path d="M189.5 189.1L193.6 191.2L189.5 193.4Z"/>
<path d="M190.4 189.1L194.5 191.2L190.4 193.4Z"/>
<path d="M191.2 189.1L195.3 191.2L191.2 193.4Z"/>
<path d="M192.1 189.1L196.2 191.2L192.1 193.4Z"/>
<path d="M192.9 189.1L197 191.2L192.9 193.4Z"/>
<path d="M193.8 189.1L197.9 191.2L193.8 193.4Z"/>
<path d="M194.7 189.1L198.8 191.3L194.7 193.4Z"/>
<path d="M195.5 189.1L199.6 191.3L195.5 193.4Z"/>
<path d="M196.4 189.2L200.5 191.3L196.4 193.5Z"/>
<path d="M197.2 189.2L201.3 191.3L197.2 193.5Z"/>
<path d="M198.1 189.2L202.2 191.3L198.1 193.5Z"/>
<path d="M199 189.2L203.1 191.4L199 193.5Z"/>
<path d="M199.8 189.2L203.9 191.4L199.8 193.5Z"/>
<path d="M200.7 189.3L204.8 191.4L200.7 193.6Z"/>
<path d="M201.5 189.3L205.6 191.5L201.5 193.6Z"/>
<path d="M202.4 189.3L206.5 191.5L202.4 193.6Z"/>
<path d="M203.3 189.4L207.4 191.5L203.3 193.7Z"/>
<path d="M204.1 189.4L208.2 191.5L204.1 193.7Z"/>
<path d="M205 189.4L209.1 191.6L205 193.7Z"/>
<path d="M205.8 189.5L209.9 191.6L205.8 193.8Z"/>
<path d="M206.7 189.5L210.8 191.6L206.7 193.8Z"/>
<path d="M207.6 189.5L211.7 191.7L207.6 193.8Z"/>
<path d="M208.4 189.6L212.5 191.7L208.4 193.9Z"/>
<path d="M209.3 189.6L213.4 191.7L209.3 193.9Z"/>
<path d="M210.1 189.6L214.2 191.8L210.1 193.9Z"/>
<path d="M211 189.7L215.1 191.8L211 194Z"/>
<path d="M211.9 189.8L216 191.9L211.9 194.1Z"/>
<path d="M212.7 189.8L216.8 192L212.7 194.1Z"/>
<path d="M213.6 189.9L217.7 192L213.6 194.2Z"/>
<path d="M214.4 190L218.5 192.1L214.4 194.3Z"/>
<path d="M215.3 190L219.4 192.2L215.3 194.3Z"/>
<path d="M216.2 190.1L220.3 192.3L216.2 194.4Z"/>
<path d="M217 190.2L221.1 192.4L217 194.5Z"/>
<path d="M217.9 190.3L222 192.5L217.9 194.6Z"/>
<path d="M218.7 190.4L222.8 192.6L218.7 194.7Z"/>
<path d="M219.6 190.6L223.7 192.7L219.6 194.9Z"/>
<path d="M220.5 190.8L224.6 192.9L220.5 195.1Z"/>
<path d="M221.3 191L225.4 193.2L221.3 195.3Z"/>
<path d="M222.2 191.2L226.3 193.4L222.2 195.5Z"/>
<path d="M223 191.4L227.1 193.6L223 195.7Z"/>
<path d="M223.9 191.6L228 193.7L223.9 195.9Z"/>
<path d="M224.8 191.6L228.9 193.8L224.8 195.9Z"/>
<path d="M225.6 191.6L229.7 193.8L225.6 195.9Z"/>
<path d="M226.5 191.4L230.6 193.6L226.5 195.7Z"/>
<path d="M227.3 191.1L231.4 193.2L227.3 195.4Z"/>
<path d="M228.2 190.5L232.3 192.7L228.2 194.8Z"/>
<path d="M229.1 189.9L233.2 192.1L229.1 194.2Z"/>
<path d="M229.9 189.3L234 191.4L229.9 193.6Z"/>
<path d="M230.8 188.5L234.9 190.7L230.8 192.8Z"/>
<path d="M231.6 187.8L235.7 190L231.6 192.1Z"/>
<path d="M232.5 187.1L236.6 189.3L232.5 191.4Z"/>
<path d="M233.4 186.3L237.5 188.5L233.4 190.6Z"/>
<path d="M234.2 185.4L238.3 187.6L234.2 189.7Z"/>
<path d="M235.1 184.4L239.2 186.6L235.1 188.7Z"/>
<path d="M235.9 183.4L240 185.5L235.9 187.7Z"/>
<path d="M236.8 182.3L240.9 184.4L236.8 186.6Z"/>
<path d="M237.7 181.2L241.8 183.3L237.7 185.5Z"/>
<path d="M238.5 180L242.6 182.2L238.5 184.3Z"/>
<path d="M239.4 178.9L243.5 181.1L239.4 183.2Z"/>
<path d="M240.2 177.8L244.3 179.9L240.2 182.1Z"/>
<path d="M241.1 176.7L245.2 178.8L241.1 181Z"/>
<path d="M242 175.5L246.1 177.7L242 179.8Z"/>
<path d="M242.8 174.3L246.9 176.5L242.8 178.6Z"/>
<path d="M243.7 173.2L247.8 175.3L243.7 177.5Z"/>
<path d="M244.5 172L248.6 174.1L244.5 176.3Z"/>
<path d="M245.4 170.9L249.5 173L245.4 175.2Z"/>
<path d="M246.3 169.8L250.4 171.9L246.3 174.1Z"/>
<path d="M247.1 168.7L251.2 170.8L247.1 173Z"/>
<path d="M248 167.5L252.1 169.7L248 171.8Z"/>
<path d="M248.8 166.5L252.9 168.6L248.8 170.8Z"/>
<path d="M249.7 165.7L253.8 167.8L249.7 170Z"/>
<path d="M250.6 165.2L254.7 167.3L250.6 169.5Z"/>
<path d="M251.4 164.8L255.5 166.9L251.4 169.1Z"/>
<path d="M252.3 164.5L256.4 166.6L252.3 168.8Z"/>
<path d="M253.1 164.4L257.2 166.5L253.1 168.7Z"/>
<path d="M254 164.4L258.1 166.6L254 168.7Z"/>
<path d="M254.9 164.7L259 166.9L254.9 169Z"/>
<path d="M255.7 165.2L259.8 167.3L255.7 169.5Z"/>
<path d="M256.6 165.7L260.7 167.9L256.6 170Z"/>
<path d="M257.4 166.3L261.5 168.5L257.4 170.6Z"/>
<path d="M258.3 166.9L262.4 169.1L258.3 171.2Z"/>
<path d="M259.2 167.7L263.3 169.8L259.2 172Z"/>
<path d="M260 168.6L264.1 170.7L260 172.9Z"/>
<path d="M260.9 169.6L265 171.8L260.9 173.9Z"/>
<path d="M261.7 170.8L265.8 173L261.7 175.1Z"/>
<path d="M262.6 172L266.7 174.2L262.6 176.3Z"/>
<path d="M263.5 173.3L267.6 175.5L263.5 177.6Z"/>
<path d="M264.3 174.6L268.4 176.7L264.3 178.9Z"/>
<path d="M265.2 175.8L269.3 178L265.2 180.1Z"/>
<path d="M266 177L270.1 179.2L266 181.3Z"/>
<path d="M266.9 178.3L271 180.5L266.9 182.6Z"/>
<path d="M267.8 179.7L271.9 181.8L267.8 184Z"/>
<path d="M268.6 181L272.7 183.2L268.6 185.3Z"/>
<path d="M269.5 182.4L273.6 184.5L269.5 186.7Z"/>
<path d="M270.3 183.7L274.4 185.9L270.3 188Z"/>
<path d="M271.2 185.1L275.3 187.2L271.2 189.4Z"/>
<path d="M272.1 186.4L276.2 188.6L272.1 190.7Z"/>
<path d="M272.9 187.7L277 189.9L272.9 192Z"/>
<path d="M273.8 189L277.9 191.1L273.8 193.3Z"/>
<path d="M274.6 190.2L278.7 192.4L274.6 194.5Z"/>
<path d="M275.5 191.5L279.6 193.6L275.5 195.8Z"/>
<path d="M276.4 192.7L280.5 194.9L276.4 197Z"/>
<path d="M277.2 194L281.3 196.1L277.2 198.3Z"/>
<path d="M278.1 195.2L282.2 197.3L278.1 199.5Z"/>
<path d="M278.9 196.3L283 198.5L278.9 200.6Z"/>
<path d="M279.8 197.4L283.9 199.5L279.8 201.7Z"/>
<path d="M280.7 198.3L284.8 200.5L280.7 202.6Z"/>
<path d="M281.5 199.2L285.6 201.3L281.5 203.5Z"/>
<path d="M282.4 200L286.5 202.1L282.4 204.3Z"/>
<path d="M283.2 200.8L287.3 203L283.2 205.1Z"/>
<path d="M284.1 201.6L288.2 203.8L284.1 205.9Z"/>
<path d="M285 202.3L289.1 204.4L285 206.6Z"/>
<path d="M285.8 202.7L289.9 204.8L285.8 207Z"/>
<path d="M286.7 202.8L290.8 205L286.7 207.1Z"/>
<path d="M287.5 202.8L291.6 205L287.5 207.1Z"/>
<path d="M288.4 202.7L292.5 204.8L288.4 207Z"/>
<path d="M289.3 202.5L293.4 204.6L289.3 206.8Z"/>
<path d="M290.1 202.2L294.2 204.3L290.1 206.5Z"/>
<path d="M291 201.9L295.1 204L291 206.2Z"/>
<path d="M291.8 201.5L295.9 203.7L291.8 205.8Z"/>
<path d="M292.7 201.1L296.8 203.2L292.7 205.4Z"/>
<path d="M293.6 200.4L297.7 202.6L293.6 204.7Z"/>
<path d="M294.4 199.6L298.5 201.8L294.4 203.9Z"/>
<path d="M295.3 198.6L299.4 200.8L295.3 202.9Z"/>
<path d="M296.1 197.5L300.2 199.7L296.1 201.8Z"/>
<path d="M297 196.4L301.1 198.6L297 200.7Z"/>
<path d="M297.9 195.3L302 197.5L297.9 199.6Z"/>
<path d="M298.7 194.3L302.8 196.5L298.7 198.6Z"/>
<path d="M299.6 193.4L303.7 195.5L299.6 197.7Z"/>
<path d="M300.4 192.4L304.5 194.5L300.4 196.7Z"/>
<path d="M301.3 191.4L305.4 193.6L301.3 195.7Z"/>
<path d="M302.2 190.4L306.3 192.6L302.2 194.7Z"/>
<path d="M303 189.4L307.1 191.6L303 193.7Z"/>
<path d="M303.9 188.4L308 190.6L303.9 192.7Z"/>
<path d="M304.7 187.4L308.8 189.6L304.7 191.7Z"/>
<path d="M305.6 186.4L309.7 188.6L305.6 190.7Z"/>
<path d="M306.5 185.4L310.6 187.6L306.5 189.7Z"/>
<path d="M307.3 184.4L311.4 186.5L307.3 188.7Z"/>
<path d="M308.2 183.4L312.3 185.5L308.2 187.7Z"/>
<path d="M309 182.4L313.1 184.5L309 186.7Z"/>
<path d="M309.9 181.4L314 183.5L309.9 185.7Z"/>
<path d="M310.8 180.3L314.9 182.5L310.8 184.6Z"/>
<path d="M311.6 179.3L315.7 181.5L311.6 183.6Z"/>
<path d="M312.5 178.3L316.6 180.5L312.5 182.6Z"/>
<path d="M313.3 177.3L317.4 179.4L313.3 181.6Z"/>
<path d="M314.2 176.3L318.3 178.4L314.2 180.6Z"/>
<path d="M315.1 175.2L319.2 177.4L315.1 179.5Z"/>
<path d="M315.9 174.2L320 176.3L315.9 178.5Z"/>
<path d="M316.8 173.1L320.9 175.3L316.8 177.4Z"/>
<path d="M317.6 172.1L321.7 174.2L317.6 176.4Z"/>
<path d="M318.5 171L322.6 173.1L318.5 175.3Z"/>
<path d="M319.4 169.9L323.5 172L319.4 174.2Z"/>
<path d="M320.2 168.8L324.3 171L320.2 173.1Z"/>
<path d="M321.1 167.7L325.2 169.8L321.1 172Z"/>
<path d="M321.9 166.6L326 168.7L321.9 170.9Z"/>
<path d="M322.8 165.4L326.9 167.5L322.8 169.7Z"/>
<path d="M323.7 164.2L327.8 166.3L323.7 168.5Z"/>
<path d="M324.5 162.9L328.6 165L324.5 167.2Z"/>
<path d="M325.4 161.5L329.5 163.6L325.4 165.8Z"/>
<path d="M326.2 160L330.3 162.2L326.2 164.3Z"/>
<path d="M327.1 158.5L331.2 160.6L327.1 162.8Z"/>
<path d="M328 156.8L332.1 159L328 161.1Z"/>
<path d="M328.8 155.1L332.9 157.2L328.8 159.4Z"/>
<path d="M329.7 153.2L333.8 155.4L329.7 157.5Z"/>
<path d="M330.5 151.2L334.6 153.4L330.5 155.5Z"/>
<path d="M331.4 149.1L335.5 151.3L331.4 153.4Z"/>
<path d="M332.3 146.9L336.4 149L332.3 151.2Z"/>
<path d="M333.1 144.4L337.2 146.6L333.1 148.7Z"/>
<path d="M334 141.9L338.1 144L334 146.2Z"/>
<path d="M334.8 139.4L338.9 141.5L334.8 143.7Z"/>
<path d="M335.7 136.9L339.8 139L335.7 141.2Z"/>
<path d="M336.6 134.3L340.7 136.4L336.6 138.6Z"/>
<path d="M337.4 131.4L341.5 133.5L337.4 135.7Z"/>
<path d="M338.3 128L342.4 130.2L338.3 132.3Z"/>
<path d="M339.1 124.5L343.2 126.7L339.1 128.8Z"/>
<path d="M340 121L344.1 123.2L340 125.3Z"/>
<path d="M340.9 117.6L345 119.7L340.9 121.9Z"/>
<path d="M341.7 114.1L345.8 116.2L341.7 118.4Z"/>
<path d="M342.6 110.6L346.7 112.7L342.6 114.9Z"/>
<path d="M343.4 107L347.5 109.2L343.4 111.3Z"/>
<path d="M344.3 103.4L348.4 105.5L344.3 107.7Z"/>
<path d="M345.2 99.8L349.3 102L345.2 104.1Z"/>
<path d="M346 96.7L350.1 98.8L346 101Z"/>
<path d="M346.9 93.3L351 95.4L346.9 97.6Z"/>
<path d="M347.7 90.3L351.8 92.5L347.7 94.6Z"/>
<path d="M348.6 88.9L352.7 91L348.6 93.2Z"/>
<path d="M349.5 89.2L353.6 91.3L349.5 93.5Z"/>
<path d="M350.3 90.2L354.4 92.3L350.3 94.5Z"/>
<path d="M351.2 91.7L355.3 93.8L351.2 96Z"/>
<path d="M352 93.4L356.1 95.6L352 97.7Z"/>
<path d="M352.9 95.3L357 97.4L352.9 99.6Z"/>
<path d="M353.8 97.7L357.9 99.9L353.8 102Z"/>
<path d="M354.6 100.8L358.7 102.9L354.6 105.1Z"/>
<path d="M355.5 104.1L359.6 106.3L355.5 108.4Z"/>
<path d="M356.3 107.4L360.4 109.5L356.3 111.7Z"/>
<path d="M357.2 110.8L361.3 112.9L357.2 115.1Z"/>
<path d="M358.1 114.4L362.2 116.5L358.1 118.7Z"/>
<path d="M358.9 117.8L363 120L358.9 122.1Z"/>
<path d="M359.8 120.8L363.9 123L359.8 125.1Z"/>
<path d="M360.6 123.6L364.7 125.7L360.6 127.9Z"/>
<path d="M361.5 126.3L365.6 128.5L361.5 130.6Z"/>
<path d="M362.4 129.5L366.5 131.6L362.4 133.8Z"/>
<path d="M363.2 133.1L367.3 135.2L363.2 137.4Z"/>
<path d="M364.1 137.1L368.2 139.2L364.1 141.4Z"/>
<path d="M364.9 141.3L369 143.4L364.9 145.6Z"/>
<path d="M365.8 145.7L369.9 147.9L365.8 150Z"/>
<path d="M366.7 150.4L370.8 152.6L366.7 154.7Z"/>
<path d="M367.5 155.6L371.6 157.8L367.5 159.9Z"/>
<path d="M368.4 161L372.5 163.1L368.4 165.3Z"/>
<path d="M369.2 166.1L373.3 168.2L369.2 170.4Z"/>
<path d="M370.1 170.8L374.2 172.9L370.1 175.1Z"/>
<path d="M371 175.3L375.1 177.5L371 179.6Z"/>
<path d="M371.8 179.8L375.9 182L371.8 184.1Z"/>
<path d="M372.7 184.4L376.8 186.6L372.7 188.7Z"/>
<path d="M373.5 189L377.6 191.1L373.5 193.3Z"/>
<path d="M374.4 193.6L378.5 195.7L374.4 197.9Z"/>
<path d="M375.3 198.2L379.4 200.3L375.3 202.5Z"/>
<path d="M376.1 202.4L380.2 204.6L376.1 206.7Z"/>
<path d="M377 206.6L381.1 208.8L377 210.9Z"/>
<path d="M377.8 211.5L381.9 213.6L377.8 215.8Z"/>
<path d="M378.7 218.1L382.8 220.2L378.7 222.4Z"/>
<path d="M379.6 226.6L383.7 228.7L379.6 230.9Z"/>
<path d="M380.4 233.7L384.5 235.9L380.4 238Z"/>
<path d="M381.3 240.3L385.4 242.4L381.3 244.6Z"/>
<path d="M382.1 247.3L386.2 249.5L382.1 251.6Z"/>
<path d="M383 255.7L387.1 257.8L383 260Z"/>
<path d="M383.9 264.6L388 266.7L383.9 268.9Z"/>
<path d="M384.7 272.5L388.8 274.7L384.7 276.8Z"/>
<path d="M385.6 279.9L389.7 282.1L385.6 284.2Z"/>
<path d="M386.4 286.7L390.5 288.8L386.4 291Z"/>
<path d="M387.3 293.1L391.4 295.2L387.3 297.4Z"/>
<path d="M388.2 298.6L392.3 300.8L388.2 302.9Z"/>
<path d="M389 303.2L393.1 305.3L389 307.5Z"/>
<path d="M389.9 307.2L394 309.3L389.9 311.5Z"/>
<path d="M390.7 310.8L394.8 312.9L390.7 315.1Z"/>
<path d="M391.6 314.5L395.7 316.7L391.6 318.8Z"/>
<path d="M392.5 318.6L396.6 320.8L392.5 322.9Z"/>
<path d="M393.3 321.9L397.4 324.1L393.3 326.2Z"/>
<path d="M394.2 323.3L398.3 325.5L394.2 327.6Z"/>
<path d="M395 322.6L399.1 324.7L395 326.9Z"/>
<path d="M395.9 320.7L400 322.8L395.9 325Z"/>
<path d="M396.8 318.3L400.9 320.4L396.8 322.6Z"/>
<path d="M397.6 316L401.7 318.2L397.6 320.3Z"/>
<path d="M398.5 314.2L402.6 316.3L398.5 318.5Z"/>
<path d="M399.3 312.3L403.4 314.5L399.3 316.6Z"/>
<path d="M400.2 310.5L404.3 312.7L400.2 314.8Z"/>
<path d="M401.1 308.7L405.2 310.9L401.1 313Z"/>
<path d="M401.9 306.8L406 308.9L401.9 311.1Z"/>
<path d="M402.8 304.7L406.9 306.8L402.8 309Z"/>
<path d="M403.6 302.7L407.7 304.8L403.6 307Z"/>
<path d="M404.5 300.9L408.6 303.1L404.5 305.2Z"/>
<path d="M405.4 299.7L409.5 301.8L405.4 304Z"/>
<path d="M406.2 299L410.3 301.1L406.2 303.3Z"/>
<path d="M407.1 298.3L411.2 300.5L407.1 302.6Z"/>
<path d="M407.9 297.8L412 299.9L407.9 302.1Z"/>
<path d="M408.8 297.3L412.9 299.5L408.8 301.6Z"/>
<path d="M409.7 296.9L413.8 299.1L409.7 301.2Z"/>
<path d="M410.5 296.7L414.6 298.8L410.5 301Z"/>
<path d="M411.4 296.6L415.5 298.7L411.4 300.9Z"/>
<path d="M412.2 296.6L416.3 298.7L412.2 300.9Z"/>
<path d="M413.1 296.7L417.2 298.9L413.1 301Z"/>
<path d="M414 296.9L418.1 299.1L414 301.2Z"/>
<path d="M414.8 297.2L418.9 299.4L414.8 301.5Z"/>
<path d="M415.7 297.6L419.8 299.7L415.7 301.9Z"/>
<path d="M416.5 297.9L420.6 300.1L416.5 302.2Z"/>
<path d="M417.4 298.3L421.5 300.5L417.4 302.6Z"/>
<path d="M418.3 298.7L422.4 300.8L418.3 303Z"/>
<path d="M419.1 299L423.2 301.2L419.1 303.3Z"/>
<path d="M420 299.4L424.1 301.6L420 303.7Z"/>
<path d="M420.8 299.8L424.9 302L420.8 304.1Z"/>
<path d="M421.7 300.3L425.8 302.4L421.7 304.6Z"/>
<path d="M422.6 300.7L426.7 302.9L422.6 305Z"/>
<path d="M423.4 301.2L427.5 303.3L423.4 305.5Z"/>
<path d="M424.3 301.7L428.4 303.8L424.3 306Z"/>
<path d="M425.1 302.2L429.2 304.4L425.1 306.5Z"/>
<path d="M426 302.7L430.1 304.9L426 307Z"/>
<path d="M426.9 303.3L431 305.4L426.9 307.6Z"/>
<path d="M427.7 303.8L431.8 306L427.7 308.1Z"/>
<path d="M428.6 304.4L432.7 306.5L428.6 308.7Z"/>
<path d="M429.4 305L433.5 307.1L429.4 309.3Z"/>
<path d="M430.3 305.6L434.4 307.7L430.3 309.9Z"/>
<path d="M431.2 306.2L435.3 308.4L431.2 310.5Z"/>
<path d="M432 306.9L436.1 309.1L432 311.2Z"/>
<path d="M432.9 307.6L437 309.8L432.9 311.9Z"/>
<path d="M433.7 308.4L437.8 310.6L433.7 312.7Z"/>
<path d="M434.6 309.3L438.7 311.4L434.6 313.6Z"/>
<path d="M435.5 310.2L439.6 312.4L435.5 314.5Z"/>
<path d="M436.3 311.3L440.4 313.4L436.3 315.6Z"/>
<path d="M437.2 312.4L441.3 314.6L437.2 316.7Z"/>
<path d="M438 313.7L442.1 315.8L438 318Z"/>
<path d="M438.9 314.9L443 317.1L438.9 319.2Z"/>
<path d="M439.8 316.2L443.9 318.3L439.8 320.5Z"/>
<path d="M440.6 317.5L444.7 319.6L440.6 321.8Z"/>
<path d="M441.5 318.8L445.6 321L441.5 323.1Z"/>
<path d="M442.3 320.3L446.4 322.4L442.3 324.6Z"/>
<path d="M443.2 321.7L447.3 323.9L443.2 326Z"/>
<path d="M444.1 323.2L448.2 325.3L444.1 327.5Z"/>
<path d="M444.9 324.7L449 326.8L444.9 329Z"/>
<path d="M445.8 326.1L449.9 328.3L445.8 330.4Z"/>
<path d="M446.6 327.6L450.7 329.7L446.6 331.9Z"/>
<path d="M447.5 329.1L451.6 331.2L447.5 333.4Z"/>
<path d="M448.4 330.6L452.5 332.7L448.4 334.9Z"/>
<path d="M449.2 332.1L453.3 334.3L449.2 336.4Z"/>
<path d="M450.1 333.6L454.2 335.7L450.1 337.9Z"/>
<path d="M450.9 335L455 337.1L450.9 339.3Z"/>
<path d="M451.8 336.3L455.9 338.4L451.8 340.6Z"/>
<path d="M452.7 337.5L456.8 339.6L452.7 341.8Z"/>
<path d="M453.5 338.6L457.6 340.8L453.5 342.9Z"/>
<path d="M454.4 339.7L458.5 341.9L454.4 344Z"/>
<path d="M455.2 340.8L459.3 343L455.2 345.1Z"/>
<path d="M456.1 341.8L460.2 343.9L456.1 346.1Z"/>
<path d="M457 342.7L461.1 344.9L457 347Z"/>
<path d="M457.8 343.5L461.9 345.7L457.8 347.8Z"/>
<path d="M458.7 344.3L462.8 346.4L458.7 348.6Z"/>
<path d="M459.5 345L463.6 347.1L459.5 349.3Z"/>
<path d="M460.4 345.7L464.5 347.8L460.4 350Z"/>
<path d="M461.3 346.3L465.4 348.5L461.3 350.6Z"/>
<path d="M462.1 346.9L466.2 349.1L462.1 351.2Z"/>
<path d="M463 347.5L467.1 349.6L463 351.8Z"/>
<path d="M463.8 347.9L467.9 350L463.8 352.2Z"/>
<path d="M464.7 348.2L468.8 350.4L464.7 352.5Z"/>
<path d="M465.6 348.4L469.7 350.6L465.6 352.7Z"/>
<path d="M466.4 348.6L470.5 350.7L466.4 352.9Z"/>
<path d="M467.3 348.8L471.4 350.9L467.3 353.1Z"/>
<path d="M468.1 348.9L472.2 351.1L468.1 353.2Z"/>
<path d="M469 349L473.1 351.2L469 353.3Z"/>
<path d="M469.9 349.1L474 351.3L469.9 353.4Z"/>
<path d="M470.7 349.2L474.8 351.4L470.7 353.5Z"/>
<path d="M471.6 349.3L475.7 351.4L471.6 353.6Z"/>
<path d="M472.4 349.3L476.5 351.5L472.4 353.6Z"/>
<path d="M473.3 349.3L477.4 351.5L473.3 353.6Z"/>
<path d="M474.2 349.3L478.3 351.5L474.2 353.6Z"/>
<path d="M475 349.2L479.1 351.4L475 353.5Z"/>
<path d="M475.9 349.1L480 351.3L475.9 353.4Z"/>
<path d="M476.7 349L480.8 351.2L476.7 353.3Z"/>
<path d="M477.6 348.8L481.7 351L477.6 353.1Z"/>
<path d="M478.5 348.7L482.6 350.8L478.5 353Z"/>
<path d="M479.3 348.5L483.4 350.6L479.3 352.8Z"/>
<path d="M480.2 348.3L484.3 350.4L480.2 352.6Z"/>
<path d="M481 348.1L485.1 350.2L481 352.4Z"/>
<path d="M481.9 347.9L486 350.1L481.9 352.2Z"/>
<path d="M482.8 347.7L486.9 349.9L482.8 352Z"/>
<path d="M483.6 347.5L487.7 349.7L483.6 351.8Z"/>
<path d="M484.5 347.3L488.6 349.5L484.5 351.6Z"/>
<path d="M485.3 347.1L489.4 349.3L485.3 351.4Z"/>
<path d="M486.2 346.9L490.3 349.1L486.2 351.2Z"/>
<path d="M487.1 346.7L491.2 348.8L487.1 351Z"/>
<path d="M487.9 346.4L492 348.6L487.9 350.7Z"/>
<path d="M488.8 346.2L492.9 348.4L488.8 350.5Z"/>
<path d="M489.6 346L493.7 348.1L489.6 350.3Z"/>
<path d="M490.5 345.8L494.6 347.9L490.5 350.1Z"/>
<path d="M491.4 345.5L495.5 347.7L491.4 349.8Z"/>
<path d="M492.2 345.3L496.3 347.5L492.2 349.6Z"/>
<path d="M493.1 345.1L497.2 347.3L493.1 349.4Z"/>
<path d="M493.9 345L498 347.1L493.9 349.3Z"/>
<path d="M494.8 344.8L498.9 346.9L494.8 349.1Z"/>
<path d="M495.7 344.6L499.8 346.7L495.7 348.9Z"/>
<path d="M496.5 344.4L500.6 346.5L496.5 348.7Z"/>
<path d="M497.4 344.2L501.5 346.3L497.4 348.5Z"/>
<path d="M498.2 344L502.3 346.2L498.2 348.3Z"/>
<path d="M499.1 343.8L503.2 346L499.1 348.1Z"/>
<path d="M500 343.7L504.1 345.8L500 348Z"/>
<path d="M500.8 343.5L504.9 345.6L500.8 347.8Z"/>
<path d="M501.7 343.3L505.8 345.5L501.7 347.6Z"/>
<path d="M502.5 343.1L506.6 345.3L502.5 347.4Z"/>
<path d="M503.4 343L507.5 345.1L503.4 347.3Z"/>
<path d="M504.3 342.8L508.4 345L504.3 347.1Z"/>
<path d="M505.1 342.7L509.2 344.8L505.1 347Z"/>
<path d="M506 342.5L510.1 344.7L506 346.8Z"/>
<path d="M506.8 342.4L510.9 344.5L506.8 346.7Z"/>
<path d="M507.7 342.2L511.8 344.4L507.7 346.5Z"/>
<path d="M508.6 342.1L512.7 344.2L508.6 346.4Z"/>
<path d="M509.4 341.9L513.5 344.1L509.4 346.2Z"/>
<path d="M510.3 341.8L514.4 344L510.3 346.1Z"/>
<path d="M511.1 341.7L515.2 343.8L511.1 346Z"/>
<path d="M512 341.6L516.1 343.7L512 345.9Z"/>
<path d="M512.9 341.5L517 343.6L512.9 345.8Z"/>
<path d="M513.7 341.4L517.8 343.5L513.7 345.7Z"/>
<path d="M514.6 341.3L518.7 343.5L514.6 345.6Z"/>
<path d="M515.4 341.3L519.5 343.4L515.4 345.6Z"/>
<path d="M516.3 341.2L520.4 343.3L516.3 345.5Z"/>
<path d="M517.2 341.1L521.3 343.3L517.2 345.4Z"/>
<path d="M518 341.1L522.1 343.2L518 345.4Z"/>
<path d="M518.9 341L523 343.2L518.9 345.3Z"/>
<path d="M519.7 341L523.8 343.1L519.7 345.3Z"/>
<path d="M520.6 340.9L524.7 343.1L520.6 345.2Z"/>
<path d="M521.5 340.9L525.6 343L521.5 345.2Z"/>
<path d="M522.3 340.9L526.4 343L522.3 345.2Z"/>
</g>
<path d="M70.9 118.5 L71.8 118.4 L72.6 118.2 L73.5 117.9 L74.3 117.6 L75.2 117.2 L76.1 116.8 L76.9 116.3 L77.8 115.6 L78.6 114.8 L79.5 113.8 L80.4 112.8 L81.2 111.8 L82.1 110.7 L82.9 109.4 L83.8 107.9 L84.7 106.2 L85.5 104.6 L86.4 103.1 L87.2 101.8 L88.1 100.6 L89 99.4 L89.8 98.4 L90.7 97.5 L91.5 96.9 L92.4 96.4 L93.3 95.9 L94.1 95.6 L95 95.6 L95.8 95.8 L96.7 96.2 L97.6 96.6 L98.4 97 L99.3 97.6 L100.1 98.4 L101 99.3 L101.9 100.3 L102.7 101.5 L103.6 103.1 L104.4 104.8 L105.3 106.8 L106.2 109 L107 111.3 L107.9 114 L108.7 117.1 L109.6 120.4 L110.5 124 L111.3 127.8 L112.2 132.1 L113 136.7 L113.9 141.1 L114.8 145.1 L115.6 149 L116.5 152.8 L117.3 156.4 L118.2 159.8 L119.1 163 L119.9 166 L120.8 168.9 L121.6 172 L122.5 175 L123.4 177.5 L124.2 179.2 L125.1 180.6 L125.9 181.6 L126.8 182.1 L127.7 182.4 L128.5 182.6 L129.4 182.6 L130.2 182.2 L131.1 181.6 L132 181 L132.8 180.4 L133.7 179.8 L134.5 179.1 L135.4 178.4 L136.3 177.8 L137.1 177.2 L138 176.6 L138.8 176 L139.7 175.4 L140.6 174.8 L141.4 174.2 L142.3 173.7 L143.1 173.2 L144 172.8 L144.9 172.4 L145.7 172.1 L146.6 171.7 L147.4 171.5 L148.3 171.2 L149.2 171 L150 170.8 L150.9 170.6 L151.7 170.5 L152.6 170.5 L153.5 170.6 L154.3 170.8 L155.2 171.1 L156 171.3 L156.9 171.6 L157.8 171.8 L158.6 172.2 L159.5 172.6 L160.3 173 L161.2 173.3 L162.1 173.6 L162.9 173.8 L163.8 173.8 L164.6 173.8 L165.5 173.7 L166.4 173.6 L167.2 173.4 L168.1 173.3 L168.9 173.1 L169.8 173 L170.7 172.8 L171.5 172.7 L172.4 172.6 L173.2 172.6 L174.1 172.6 L175 172.8 L175.8 173 L176.7 173.2 L177.5 173.5 L178.4 173.8 L179.3 174 L180.1 174.1 L181 174.2 L181.8 174.2 L182.7 174.1 L183.6 173.9 L184.4 173.7 L185.3 173.6 L186.1 173.4 L187 173.2 L187.9 173 L188.7 172.9 L189.6 172.8 L190.4 172.8 L191.3 172.9 L192.2 173 L193 173.2 L193.9 173.4 L194.7 173.7 L195.6 173.9 L196.5 174.2 L197.3 174.4 L198.2 174.7 L199 174.9 L199.9 175 L200.8 175.1 L201.6 175.2 L202.5 175.2 L203.3 175.3 L204.2 175.4 L205.1 175.4 L205.9 175.5 L206.8 175.5 L207.6 175.6 L208.5 175.7 L209.4 175.7 L210.2 175.8 L211.1 175.9 L211.9 176 L212.8 176.1 L213.7 176.1 L214.5 176.2 L215.4 176.3 L216.2 176.4 L217.1 176.5 L218 176.6 L218.8 176.7 L219.7 176.9 L220.5 177 L221.4 177.2 L222.3 177.4 L223.1 177.6 L224 177.9 L224.8 178.1 L225.7 178.3 L226.6 178.5 L227.4 178.6 L228.3 178.6 L229.1 178.5 L230 178.3 L230.9 178 L231.7 177.6 L232.6 177.1 L233.4 176.6 L234.3 176.1 L235.2 175.5 L236 175 L236.9 174.4 L237.7 173.6 L238.6 172.7 L239.5 171.7 L240.3 170.7 L241.2 169.6 L242 168.5 L242.9 167.4 L243.8 166.3 L244.6 165.2 L245.5 164 L246.3 162.8 L247.2 161.6 L248.1 160.4 L248.9 159.2 L249.8 158.2 L250.6 157.3 L251.5 156.4 L252.4 155.6 L253.2 154.9 L254.1 154.5 L254.9 154.1 L255.8 153.8 L256.7 153.6 L257.5 153.7 L258.4 154 L259.2 154.6 L260.1 155.3 L261 156.1 L261.8 156.8 L262.7 157.6 L263.5 158.5 L264.4 159.6 L265.3 160.7 L266.1 161.8 L267 163 L267.8 164.2 L268.7 165.4 L269.6 166.6 L270.4 167.7 L271.3 168.9 L272.1 170.2 L273 171.4 L273.9 172.6 L274.7 173.9 L275.6 175.1 L276.4 176.4 L277.3 177.5 L278.2 178.7 L279 179.9 L279.9 181.1 L280.7 182.4 L281.6 183.6 L282.5 184.7 L283.3 185.8 L284.2 186.7 L285 187.5 L285.9 188.3 L286.8 189.1 L287.6 189.8 L288.5 190.3 L289.3 190.5 L290.2 190.5 L291.1 190.3 L291.9 190 L292.8 189.7 L293.6 189.3 L294.5 188.9 L295.4 188.4 L296.2 187.9 L297.1 187.5 L297.9 186.9 L298.8 186.3 L299.7 185.7 L300.5 185 L301.4 184.2 L302.2 183.5 L303.1 182.7 L304 182 L304.8 181.4 L305.7 180.7 L306.5 180 L307.4 179.4 L308.3 178.7 L309.1 178 L310 177.4 L310.8 176.7 L311.7 176 L312.6 175.3 L313.4 174.5 L314.3 173.7 L315.1 173 L316 172.2 L316.9 171.4 L317.7 170.6 L318.6 169.7 L319.4 168.8 L320.3 167.9 L321.2 167 L322 166 L322.9 164.9 L323.7 163.8 L324.6 162.6 L325.5 161.4 L326.3 160.1 L327.2 158.8 L328 157.4 L328.9 156 L329.8 154.6 L330.6 153.1 L331.5 151.5 L332.3 149.9 L333.2 148.1 L334.1 146.3 L334.9 144.3 L335.8 142.2 L336.6 139.9 L337.5 137.5 L338.4 134.8 L339.2 131.7 L340.1 128.3 L340.9 124.9 L341.8 121.9 L342.7 119 L343.5 116.1 L344.4 113.3 L345.2 110.5 L346.1 107.6 L347 104.6 L347.8 101.8 L348.7 99.3 L349.5 97.2 L350.4 95.1 L351.3 93.7 L352.1 93.5 L353 94.4 L353.8 96 L354.7 97.8 L355.6 99.7 L356.4 102.1 L357.3 104.7 L358.1 107.6 L359 110.5 L359.9 113.6 L360.7 117.1 L361.6 120.4 L362.4 123.5 L363.3 126.3 L364.2 129 L365 132.1 L365.9 135.5 L366.7 139.2 L367.6 143.1 L368.5 147.3 L369.3 151.7 L370.2 156.8 L371 162.2 L371.9 167.4 L372.8 172.2 L373.6 176.7 L374.5 181.3 L375.3 185.8 L376.2 190.4 L377.1 195 L377.9 199.6 L378.8 203.9 L379.6 208.1 L380.5 212.8 L381.4 218.9 L382.2 227.4 L383.1 234.8 L383.9 241.4 L384.8 248.3 L385.7 256.4 L386.5 265.3 L387.4 273.4 L388.2 280.9 L389.1 287.8 L390 294.2 L390.8 299.9 L391.7 304.7 L392.5 309 L393.4 312.6 L394.3 316 L395.1 319.4 L396 322 L396.8 323 L397.7 322.1 L398.6 320 L399.4 317.3 L400.3 314.8 L401.1 312.2 L402 309.4 L402.9 306.7 L403.7 304.5 L404.6 302.4 L405.4 300.4 L406.3 298.7 L407.2 297.4 L408 296.5 L408.9 295.6 L409.7 294.8 L410.6 294.2 L411.5 293.6 L412.3 293.2 L413.2 293 L414 293 L414.9 293.2 L415.8 293.6 L416.6 294 L417.5 294.5 L418.3 295 L419.2 295.5 L420.1 296 L420.9 296.5 L421.8 297 L422.6 297.6 L423.5 298.2 L424.4 298.8 L425.2 299.4 L426.1 300 L426.9 300.7 L427.8 301.3 L428.7 302 L429.5 302.7 L430.4 303.4 L431.2 304.2 L432.1 305 L433 305.8 L433.8 306.6 L434.7 307.5 L435.5 308.5 L436.4 309.5 L437.3 310.6 L438.1 311.8 L439 313.1 L439.8 314.5 L440.7 315.9 L441.6 317.3 L442.4 318.7 L443.3 320.2 L444.1 321.8 L445 323.4 L445.9 325.1 L446.7 326.7 L447.6 328.3 L448.4 329.8 L449.3 331.3 L450.2 332.8 L451 334.3 L451.9 335.8 L452.7 337.1 L453.6 338.4 L454.5 339.6 L455.3 340.8 L456.2 341.9 L457 342.9 L457.9 343.9 L458.8 344.8 L459.6 345.7 L460.5 346.4 L461.3 347.2 L462.2 348 L463.1 348.7 L463.9 349.4 L464.8 350 L465.6 350.5 L466.5 350.8 L467.4 351.1 L468.2 351.3 L469.1 351.5 L469.9 351.7 L470.8 351.8 L471.7 352 L472.5 352.1 L473.4 352.1 L474.2 352.2 L475.1 352.2 L476 352.2 L476.8 352.1 L477.7 351.9 L478.5 351.7 L479.4 351.5 L480.3 351.2 L481.1 350.9 L482 350.6 L482.8 350.4 L483.7 350.1 L484.6 349.8 L485.4 349.5 L486.3 349.2 L487.1 348.9 L488 348.5 L488.9 348.2 L489.7 347.8 L490.6 347.4 L491.4 347 L492.3 346.7 L493.2 346.3 L494 346 L494.9 345.7 L495.7 345.3 L496.6 345 L497.5 344.7 L498.3 344.4 L499.2 344.1 L500 343.7 L500.9 343.4 L501.8 343.1 L502.6 342.8 L503.5 342.6 L504.3 342.3 L505.2 342 L506.1 341.8 L506.9 341.6 L507.8 341.3 L508.6 341.1 L509.5 340.9 L510.4 340.7 L511.2 340.5 L512.1 340.3 L512.9 340.2 L513.8 340 L514.7 339.8 L515.5 339.6 L516.4 339.4 L517.2 339.2 L518.1 339 L519 338.9 L519.8 338.7 L520.7 338.5 L521.5 338.3 L522.4 338.1 L523.3 338 L524.1 337.8" stroke="#00880f" stroke-width="0.8" fill="none"/>
<g fill="#00860e">
<path d="M68.2 118.5L70.9 115.9L73.7 118.5L70.9 121.1Z"/>
<path d="M69 118.4L71.8 115.8L74.5 118.4L71.8 121Z"/>
<path d="M69.9 118.2L72.6 115.6L75.4 118.2L72.6 120.8Z"/>
<path d="M70.7 117.9L73.5 115.3L76.2 117.9L73.5 120.5Z"/>
<path d="M71.6 117.6L74.3 115L77.1 117.6L74.3 120.2Z"/>
<path d="M72.5 117.2L75.2 114.6L78 117.2L75.2 119.8Z"/>
<path d="M73.3 116.8L76.1 114.2L78.8 116.8L76.1 119.4Z"/>
<path d="M74.2 116.3L76.9 113.7L79.7 116.3L76.9 118.9Z"/>
<path d="M75 115.6L77.8 113L80.5 115.6L77.8 118.2Z"/>
<path d="M75.9 114.8L78.6 112.2L81.4 114.8L78.6 117.4Z"/>
<path d="M76.8 113.8L79.5 111.2L82.2 113.8L79.5 116.4Z"/>
<path d="M77.6 112.8L80.4 110.2L83.1 112.8L80.4 115.4Z"/>
<path d="M78.5 111.8L81.2 109.2L84 111.8L81.2 114.4Z"/>
<path d="M79.3 110.7L82.1 108.1L84.8 110.7L82.1 113.3Z"/>
<path d="M80.2 109.4L82.9 106.8L85.7 109.4L82.9 112Z"/>
<path d="M81 107.9L83.8 105.3L86.5 107.9L83.8 110.5Z"/>
<path d="M81.9 106.2L84.7 103.6L87.4 106.2L84.7 108.8Z"/>
<path d="M82.8 104.6L85.5 102L88.3 104.6L85.5 107.2Z"/>
<path d="M83.6 103.1L86.4 100.5L89.1 103.1L86.4 105.7Z"/>
<path d="M84.5 101.8L87.2 99.2L90 101.8L87.2 104.4Z"/>
<path d="M85.3 100.6L88.1 98L90.8 100.6L88.1 103.2Z"/>
<path d="M86.2 99.4L89 96.8L91.7 99.4L89 102Z"/>
<path d="M87.1 98.4L89.8 95.8L92.6 98.4L89.8 101Z"/>
<path d="M87.9 97.5L90.7 94.9L93.4 97.5L90.7 100.1Z"/>
<path d="M88.8 96.9L91.5 94.3L94.3 96.9L91.5 99.5Z"/>
<path d="M89.6 96.4L92.4 93.8L95.1 96.4L92.4 99Z"/>
<path d="M90.5 95.9L93.3 93.3L96 95.9L93.3 98.5Z"/>
<path d="M91.4 95.6L94.1 93L96.9 95.6L94.1 98.2Z"/>
<path d="M92.2 95.6L95 93L97.7 95.6L95 98.2Z"/>
<path d="M93.1 95.8L95.8 93.2L98.6 95.8L95.8 98.4Z"/>
<path d="M93.9 96.2L96.7 93.6L99.4 96.2L96.7 98.8Z"/>
<path d="M94.8 96.6L97.6 94L100.3 96.6L97.6 99.2Z"/>
<path d="M95.7 97L98.4 94.4L101.2 97L98.4 99.6Z"/>
<path d="M96.5 97.6L99.3 95L102 97.6L99.3 100.2Z"/>
<path d="M97.4 98.4L100.1 95.8L102.9 98.4L100.1 101Z"/>
<path d="M98.2 99.3L101 96.7L103.7 99.3L101 101.9Z"/>
<path d="M99.1 100.3L101.9 97.7L104.6 100.3L101.9 102.9Z"/>
<path d="M100 101.5L102.7 98.9L105.5 101.5L102.7 104.1Z"/>
<path d="M100.8 103.1L103.6 100.5L106.3 103.1L103.6 105.7Z"/>
<path d="M101.7 104.8L104.4 102.2L107.2 104.8L104.4 107.4Z"/>
<path d="M102.5 106.8L105.3 104.2L108 106.8L105.3 109.4Z"/>
<path d="M103.4 109L106.2 106.4L108.9 109L106.2 111.6Z"/>
<path d="M104.3 111.3L107 108.7L109.8 111.3L107 113.9Z"/>
<path d="M105.1 114L107.9 111.4L110.6 114L107.9 116.6Z"/>
<path d="M106 117.1L108.7 114.5L111.5 117.1L108.7 119.7Z"/>
<path d="M106.8 120.4L109.6 117.8L112.3 120.4L109.6 123Z"/>
<path d="M107.7 124L110.5 121.4L113.2 124L110.5 126.6Z"/>
<path d="M108.6 127.8L111.3 125.2L114.1 127.8L111.3 130.4Z"/>
<path d="M109.4 132.1L112.2 129.5L114.9 132.1L112.2 134.7Z"/>
<path d="M110.3 136.7L113 134.1L115.8 136.7L113 139.3Z"/>
<path d="M111.1 141.1L113.9 138.5L116.6 141.1L113.9 143.7Z"/>
<path d="M112 145.1L114.8 142.5L117.5 145.1L114.8 147.7Z"/>
<path d="M112.9 149L115.6 146.4L118.4 149L115.6 151.6Z"/>
<path d="M113.7 152.8L116.5 150.2L119.2 152.8L116.5 155.4Z"/>
<path d="M114.6 156.4L117.3 153.8L120.1 156.4L117.3 159Z"/>
<path d="M115.4 159.8L118.2 157.2L120.9 159.8L118.2 162.4Z"/>
<path d="M116.3 163L119.1 160.4L121.8 163L119.1 165.6Z"/>
<path d="M117.2 166L119.9 163.4L122.7 166L119.9 168.6Z"/>
<path d="M118 168.9L120.8 166.3L123.5 168.9L120.8 171.5Z"/>
<path d="M118.9 172L121.6 169.4L124.4 172L121.6 174.6Z"/>
<path d="M119.7 175L122.5 172.4L125.2 175L122.5 177.6Z"/>
<path d="M120.6 177.5L123.4 174.9L126.1 177.5L123.4 180.1Z"/>
<path d="M121.5 179.2L124.2 176.6L127 179.2L124.2 181.8Z"/>
<path d="M122.3 180.6L125.1 178L127.8 180.6L125.1 183.2Z"/>
<path d="M123.2 181.6L125.9 179L128.7 181.6L125.9 184.2Z"/>
<path d="M124 182.1L126.8 179.5L129.5 182.1L126.8 184.7Z"/>
<path d="M124.9 182.4L127.7 179.8L130.4 182.4L127.7 185Z"/>
<path d="M125.8 182.6L128.5 180L131.3 182.6L128.5 185.2Z"/>
<path d="M126.6 182.6L129.4 180L132.1 182.6L129.4 185.2Z"/>
<path d="M127.5 182.2L130.2 179.6L133 182.2L130.2 184.8Z"/>
<path d="M128.3 181.6L131.1 179L133.8 181.6L131.1 184.2Z"/>
<path d="M129.2 181L132 178.4L134.7 181L132 183.6Z"/>
<path d="M130.1 180.4L132.8 177.8L135.6 180.4L132.8 183Z"/>
<path d="M130.9 179.8L133.7 177.2L136.4 179.8L133.7 182.4Z"/>
<path d="M131.8 179.1L134.5 176.5L137.3 179.1L134.5 181.7Z"/>
<path d="M132.6 178.4L135.4 175.8L138.1 178.4L135.4 181Z"/>
<path d="M133.5 177.8L136.3 175.2L139 177.8L136.3 180.4Z"/>
<path d="M134.4 177.2L137.1 174.6L139.9 177.2L137.1 179.8Z"/>
<path d="M135.2 176.6L138 174L140.7 176.6L138 179.2Z"/>
<path d="M136.1 176L138.8 173.4L141.6 176L138.8 178.6Z"/>
<path d="M136.9 175.4L139.7 172.8L142.4 175.4L139.7 178Z"/>
<path d="M137.8 174.8L140.6 172.2L143.3 174.8L140.6 177.4Z"/>
<path d="M138.7 174.2L141.4 171.6L144.2 174.2L141.4 176.8Z"/>
<path d="M139.5 173.7L142.3 171.1L145 173.7L142.3 176.3Z"/>
<path d="M140.4 173.2L143.1 170.6L145.9 173.2L143.1 175.8Z"/>
<path d="M141.2 172.8L144 170.2L146.7 172.8L144 175.4Z"/>
<path d="M142.1 172.4L144.9 169.8L147.6 172.4L144.9 175Z"/>
<path d="M143 172.1L145.7 169.5L148.5 172.1L145.7 174.7Z"/>
<path d="M143.8 171.7L146.6 169.1L149.3 171.7L146.6 174.3Z"/>
<path d="M144.7 171.5L147.4 168.9L150.2 171.5L147.4 174.1Z"/>
<path d="M145.5 171.2L148.3 168.6L151 171.2L148.3 173.8Z"/>
<path d="M146.4 171L149.2 168.4L151.9 171L149.2 173.6Z"/>
<path d="M147.3 170.8L150 168.2L152.8 170.8L150 173.4Z"/>
<path d="M148.1 170.6L150.9 168L153.6 170.6L150.9 173.2Z"/>
<path d="M149 170.5L151.7 167.9L154.5 170.5L151.7 173.1Z"/>
<path d="M149.8 170.5L152.6 167.9L155.3 170.5L152.6 173.1Z"/>
<path d="M150.7 170.6L153.5 168L156.2 170.6L153.5 173.2Z"/>
<path d="M151.6 170.8L154.3 168.2L157.1 170.8L154.3 173.4Z"/>
<path d="M152.4 171.1L155.2 168.5L157.9 171.1L155.2 173.7Z"/>
<path d="M153.3 171.3L156 168.7L158.8 171.3L156 173.9Z"/>
<path d="M154.1 171.6L156.9 169L159.6 171.6L156.9 174.2Z"/>
<path d="M155 171.8L157.8 169.2L160.5 171.8L157.8 174.4Z"/>
<path d="M155.9 172.2L158.6 169.6L161.4 172.2L158.6 174.8Z"/>
<path d="M156.7 172.6L159.5 170L162.2 172.6L159.5 175.2Z"/>
<path d="M157.6 173L160.3 170.4L163.1 173L160.3 175.6Z"/>
<path d="M158.4 173.3L161.2 170.7L163.9 173.3L161.2 175.9Z"/>
<path d="M159.3 173.6L162.1 171L164.8 173.6L162.1 176.2Z"/>
<path d="M160.2 173.8L162.9 171.2L165.7 173.8L162.9 176.4Z"/>
<path d="M161 173.8L163.8 171.2L166.5 173.8L163.8 176.4Z"/>
<path d="M161.9 173.8L164.6 171.2L167.4 173.8L164.6 176.4Z"/>
<path d="M162.7 173.7L165.5 171.1L168.2 173.7L165.5 176.3Z"/>
<path d="M163.6 173.6L166.4 171L169.1 173.6L166.4 176.2Z"/>
<path d="M164.5 173.4L167.2 170.8L170 173.4L167.2 176Z"/>
<path d="M165.3 173.3L168.1 170.7L170.8 173.3L168.1 175.9Z"/>
<path d="M166.2 173.1L168.9 170.5L171.7 173.1L168.9 175.7Z"/>
<path d="M167 173L169.8 170.4L172.5 173L169.8 175.6Z"/>
<path d="M167.9 172.8L170.7 170.2L173.4 172.8L170.7 175.4Z"/>
<path d="M168.8 172.7L171.5 170.1L174.3 172.7L171.5 175.3Z"/>
<path d="M169.6 172.6L172.4 170L175.1 172.6L172.4 175.2Z"/>
<path d="M170.5 172.6L173.2 170L176 172.6L173.2 175.2Z"/>
<path d="M171.3 172.6L174.1 170L176.8 172.6L174.1 175.2Z"/>
<path d="M172.2 172.8L175 170.2L177.7 172.8L175 175.4Z"/>
<path d="M173.1 173L175.8 170.4L178.6 173L175.8 175.6Z"/>
<path d="M173.9 173.2L176.7 170.6L179.4 173.2L176.7 175.8Z"/>
<path d="M174.8 173.5L177.5 170.9L180.3 173.5L177.5 176.1Z"/>
<path d="M175.6 173.8L178.4 171.2L181.1 173.8L178.4 176.4Z"/>
<path d="M176.5 174L179.3 171.4L182 174L179.3 176.6Z"/>
<path d="M177.4 174.1L180.1 171.5L182.9 174.1L180.1 176.7Z"/>
<path d="M178.2 174.2L181 171.6L183.7 174.2L181 176.8Z"/>
<path d="M179.1 174.2L181.8 171.6L184.6 174.2L181.8 176.8Z"/>
<path d="M179.9 174.1L182.7 171.5L185.4 174.1L182.7 176.7Z"/>
<path d="M180.8 173.9L183.6 171.3L186.3 173.9L183.6 176.5Z"/>
<path d="M181.7 173.7L184.4 171.1L187.2 173.7L184.4 176.3Z"/>
<path d="M182.5 173.6L185.3 171L188 173.6L185.3 176.2Z"/>
<path d="M183.4 173.4L186.1 170.8L188.9 173.4L186.1 176Z"/>
<path d="M184.2 173.2L187 170.6L189.7 173.2L187 175.8Z"/>
<path d="M185.1 173L187.9 170.4L190.6 173L187.9 175.6Z"/>
<path d="M186 172.9L188.7 170.3L191.5 172.9L188.7 175.5Z"/>
<path d="M186.8 172.8L189.6 170.2L192.3 172.8L189.6 175.4Z"/>
<path d="M187.7 172.8L190.4 170.2L193.2 172.8L190.4 175.4Z"/>
<path d="M188.5 172.9L191.3 170.3L194 172.9L191.3 175.5Z"/>
<path d="M189.4 173L192.2 170.4L194.9 173L192.2 175.6Z"/>
<path d="M190.3 173.2L193 170.6L195.8 173.2L193 175.8Z"/>
<path d="M191.1 173.4L193.9 170.8L196.6 173.4L193.9 176Z"/>
<path d="M192 173.7L194.7 171.1L197.5 173.7L194.7 176.3Z"/>
<path d="M192.8 173.9L195.6 171.3L198.3 173.9L195.6 176.5Z"/>
<path d="M193.7 174.2L196.5 171.6L199.2 174.2L196.5 176.8Z"/>
<path d="M194.6 174.4L197.3 171.8L200.1 174.4L197.3 177Z"/>
<path d="M195.4 174.7L198.2 172.1L200.9 174.7L198.2 177.3Z"/>
<path d="M196.3 174.9L199 172.3L201.8 174.9L199 177.5Z"/>
<path d="M197.1 175L199.9 172.4L202.6 175L199.9 177.6Z"/>
<path d="M198 175.1L200.8 172.5L203.5 175.1L200.8 177.7Z"/>
<path d="M198.9 175.2L201.6 172.6L204.4 175.2L201.6 177.8Z"/>
<path d="M199.7 175.2L202.5 172.6L205.2 175.2L202.5 177.8Z"/>
<path d="M200.6 175.3L203.3 172.7L206.1 175.3L203.3 177.9Z"/>
<path d="M201.4 175.4L204.2 172.8L206.9 175.4L204.2 178Z"/>
<path d="M202.3 175.4L205.1 172.8L207.8 175.4L205.1 178Z"/>
<path d="M203.2 175.5L205.9 172.9L208.7 175.5L205.9 178.1Z"/>
<path d="M204 175.5L206.8 172.9L209.5 175.5L206.8 178.1Z"/>
<path d="M204.9 175.6L207.6 173L210.4 175.6L207.6 178.2Z"/>
<path d="M205.7 175.7L208.5 173.1L211.2 175.7L208.5 178.3Z"/>
<path d="M206.6 175.7L209.4 173.1L212.1 175.7L209.4 178.3Z"/>
<path d="M207.5 175.8L210.2 173.2L213 175.8L210.2 178.4Z"/>
<path d="M208.3 175.9L211.1 173.3L213.8 175.9L211.1 178.5Z"/>
<path d="M209.2 176L211.9 173.4L214.7 176L211.9 178.6Z"/>
<path d="M210 176.1L212.8 173.5L215.5 176.1L212.8 178.7Z"/>
<path d="M210.9 176.1L213.7 173.5L216.4 176.1L213.7 178.7Z"/>
<path d="M211.8 176.2L214.5 173.6L217.3 176.2L214.5 178.8Z"/>
<path d="M212.6 176.3L215.4 173.7L218.1 176.3L215.4 178.9Z"/>
<path d="M213.5 176.4L216.2 173.8L219 176.4L216.2 179Z"/>
<path d="M214.3 176.5L217.1 173.9L219.8 176.5L217.1 179.1Z"/>
<path d="M215.2 176.6L218 174L220.7 176.6L218 179.2Z"/>
<path d="M216.1 176.7L218.8 174.1L221.6 176.7L218.8 179.3Z"/>
<path d="M216.9 176.9L219.7 174.3L222.4 176.9L219.7 179.5Z"/>
<path d="M217.8 177L220.5 174.4L223.3 177L220.5 179.6Z"/>
<path d="M218.6 177.2L221.4 174.6L224.1 177.2L221.4 179.8Z"/>
<path d="M219.5 177.4L222.3 174.8L225 177.4L222.3 180Z"/>
<path d="M220.4 177.6L223.1 175L225.9 177.6L223.1 180.2Z"/>
<path d="M221.2 177.9L224 175.3L226.7 177.9L224 180.5Z"/>
<path d="M222.1 178.1L224.8 175.5L227.6 178.1L224.8 180.7Z"/>
<path d="M222.9 178.3L225.7 175.7L228.4 178.3L225.7 180.9Z"/>
<path d="M223.8 178.5L226.6 175.9L229.3 178.5L226.6 181.1Z"/>
<path d="M224.7 178.6L227.4 176L230.2 178.6L227.4 181.2Z"/>
<path d="M225.5 178.6L228.3 176L231 178.6L228.3 181.2Z"/>
<path d="M226.4 178.5L229.1 175.9L231.9 178.5L229.1 181.1Z"/>
<path d="M227.2 178.3L230 175.7L232.7 178.3L230 180.9Z"/>
<path d="M228.1 178L230.9 175.4L233.6 178L230.9 180.6Z"/>
<path d="M229 177.6L231.7 175L234.5 177.6L231.7 180.2Z"/>
<path d="M229.8 177.1L232.6 174.5L235.3 177.1L232.6 179.7Z"/>
<path d="M230.7 176.6L233.4 174L236.2 176.6L233.4 179.2Z"/>
<path d="M231.5 176.1L234.3 173.5L237 176.1L234.3 178.7Z"/>
<path d="M232.4 175.5L235.2 172.9L237.9 175.5L235.2 178.1Z"/>
<path d="M233.3 175L236 172.4L238.8 175L236 177.6Z"/>
<path d="M234.1 174.4L236.9 171.8L239.6 174.4L236.9 177Z"/>
<path d="M235 173.6L237.7 171L240.5 173.6L237.7 176.2Z"/>
<path d="M235.8 172.7L238.6 170.1L241.3 172.7L238.6 175.3Z"/>
<path d="M236.7 171.7L239.5 169.1L242.2 171.7L239.5 174.3Z"/>
<path d="M237.6 170.7L240.3 168.1L243.1 170.7L240.3 173.3Z"/>
<path d="M238.4 169.6L241.2 167L243.9 169.6L241.2 172.2Z"/>
<path d="M239.3 168.5L242 165.9L244.8 168.5L242 171.1Z"/>
<path d="M240.1 167.4L242.9 164.8L245.6 167.4L242.9 170Z"/>
<path d="M241 166.3L243.8 163.7L246.5 166.3L243.8 168.9Z"/>
<path d="M241.9 165.2L244.6 162.6L247.4 165.2L244.6 167.8Z"/>
<path d="M242.7 164L245.5 161.4L248.2 164L245.5 166.6Z"/>
<path d="M243.6 162.8L246.3 160.2L249.1 162.8L246.3 165.4Z"/>
<path d="M244.4 161.6L247.2 159L249.9 161.6L247.2 164.2Z"/>
<path d="M245.3 160.4L248.1 157.8L250.8 160.4L248.1 163Z"/>
<path d="M246.2 159.2L248.9 156.6L251.7 159.2L248.9 161.8Z"/>
<path d="M247 158.2L249.8 155.6L252.5 158.2L249.8 160.8Z"/>
<path d="M247.9 157.3L250.6 154.7L253.4 157.3L250.6 159.9Z"/>
<path d="M248.7 156.4L251.5 153.8L254.2 156.4L251.5 159Z"/>
<path d="M249.6 155.6L252.4 153L255.1 155.6L252.4 158.2Z"/>
<path d="M250.5 154.9L253.2 152.3L256 154.9L253.2 157.5Z"/>
<path d="M251.3 154.5L254.1 151.9L256.8 154.5L254.1 157.1Z"/>
<path d="M252.2 154.1L254.9 151.5L257.7 154.1L254.9 156.7Z"/>
<path d="M253 153.8L255.8 151.2L258.5 153.8L255.8 156.4Z"/>
<path d="M253.9 153.6L256.7 151L259.4 153.6L256.7 156.2Z"/>
<path d="M254.8 153.7L257.5 151.1L260.3 153.7L257.5 156.3Z"/>
<path d="M255.6 154L258.4 151.4L261.1 154L258.4 156.6Z"/>
<path d="M256.5 154.6L259.2 152L262 154.6L259.2 157.2Z"/>
<path d="M257.3 155.3L260.1 152.7L262.8 155.3L260.1 157.9Z"/>
<path d="M258.2 156.1L261 153.5L263.7 156.1L261 158.7Z"/>
<path d="M259.1 156.8L261.8 154.2L264.6 156.8L261.8 159.4Z"/>
<path d="M259.9 157.6L262.7 155L265.4 157.6L262.7 160.2Z"/>
<path d="M260.8 158.5L263.5 155.9L266.3 158.5L263.5 161.1Z"/>
<path d="M261.6 159.6L264.4 157L267.1 159.6L264.4 162.2Z"/>
<path d="M262.5 160.7L265.3 158.1L268 160.7L265.3 163.3Z"/>
<path d="M263.4 161.8L266.1 159.2L268.9 161.8L266.1 164.4Z"/>
<path d="M264.2 163L267 160.4L269.7 163L267 165.6Z"/>
<path d="M265.1 164.2L267.8 161.6L270.6 164.2L267.8 166.8Z"/>
<path d="M265.9 165.4L268.7 162.8L271.4 165.4L268.7 168Z"/>
<path d="M266.8 166.6L269.6 164L272.3 166.6L269.6 169.2Z"/>
<path d="M267.7 167.7L270.4 165.1L273.2 167.7L270.4 170.3Z"/>
<path d="M268.5 168.9L271.3 166.3L274 168.9L271.3 171.5Z"/>
<path d="M269.4 170.2L272.1 167.6L274.9 170.2L272.1 172.8Z"/>
<path d="M270.2 171.4L273 168.8L275.7 171.4L273 174Z"/>
<path d="M271.1 172.6L273.9 170L276.6 172.6L273.9 175.2Z"/>
<path d="M272 173.9L274.7 171.3L277.5 173.9L274.7 176.5Z"/>
<path d="M272.8 175.1L275.6 172.5L278.3 175.1L275.6 177.7Z"/>
<path d="M273.7 176.4L276.4 173.8L279.2 176.4L276.4 179Z"/>
<path d="M274.5 177.5L277.3 174.9L280 177.5L277.3 180.1Z"/>
<path d="M275.4 178.7L278.2 176.1L280.9 178.7L278.2 181.3Z"/>
<path d="M276.3 179.9L279 177.3L281.8 179.9L279 182.5Z"/>
<path d="M277.1 181.1L279.9 178.5L282.6 181.1L279.9 183.7Z"/>
<path d="M278 182.4L280.7 179.8L283.5 182.4L280.7 185Z"/>
<path d="M278.8 183.6L281.6 181L284.3 183.6L281.6 186.2Z"/>
<path d="M279.7 184.7L282.5 182.1L285.2 184.7L282.5 187.3Z"/>
<path d="M280.6 185.8L283.3 183.2L286.1 185.8L283.3 188.4Z"/>
<path d="M281.4 186.7L284.2 184.1L286.9 186.7L284.2 189.3Z"/>
<path d="M282.3 187.5L285 184.9L287.8 187.5L285 190.1Z"/>
<path d="M283.1 188.3L285.9 185.7L288.6 188.3L285.9 190.9Z"/>
<path d="M284 189.1L286.8 186.5L289.5 189.1L286.8 191.7Z"/>
<path d="M284.9 189.8L287.6 187.2L290.4 189.8L287.6 192.4Z"/>
<path d="M285.7 190.3L288.5 187.7L291.2 190.3L288.5 192.9Z"/>
<path d="M286.6 190.5L289.3 187.9L292.1 190.5L289.3 193.1Z"/>
<path d="M287.4 190.5L290.2 187.9L292.9 190.5L290.2 193.1Z"/>
<path d="M288.3 190.3L291.1 187.7L293.8 190.3L291.1 192.9Z"/>
<path d="M289.2 190L291.9 187.4L294.7 190L291.9 192.6Z"/>
<path d="M290 189.7L292.8 187.1L295.5 189.7L292.8 192.3Z"/>
<path d="M290.9 189.3L293.6 186.7L296.4 189.3L293.6 191.9Z"/>
<path d="M291.7 188.9L294.5 186.3L297.2 188.9L294.5 191.5Z"/>
<path d="M292.6 188.4L295.4 185.8L298.1 188.4L295.4 191Z"/>
<path d="M293.5 187.9L296.2 185.3L299 187.9L296.2 190.5Z"/>
<path d="M294.3 187.5L297.1 184.9L299.8 187.5L297.1 190.1Z"/>
<path d="M295.2 186.9L297.9 184.3L300.7 186.9L297.9 189.5Z"/>
<path d="M296 186.3L298.8 183.7L301.5 186.3L298.8 188.9Z"/>
<path d="M296.9 185.7L299.7 183.1L302.4 185.7L299.7 188.3Z"/>
<path d="M297.8 185L300.5 182.4L303.3 185L300.5 187.6Z"/>
<path d="M298.6 184.2L301.4 181.6L304.1 184.2L301.4 186.8Z"/>
<path d="M299.5 183.5L302.2 180.9L305 183.5L302.2 186.1Z"/>
<path d="M300.3 182.7L303.1 180.1L305.8 182.7L303.1 185.3Z"/>
<path d="M301.2 182L304 179.4L306.7 182L304 184.6Z"/>
<path d="M302.1 181.4L304.8 178.8L307.6 181.4L304.8 184Z"/>
<path d="M302.9 180.7L305.7 178.1L308.4 180.7L305.7 183.3Z"/>
<path d="M303.8 180L306.5 177.4L309.3 180L306.5 182.6Z"/>
<path d="M304.6 179.4L307.4 176.8L310.1 179.4L307.4 182Z"/>
<path d="M305.5 178.7L308.3 176.1L311 178.7L308.3 181.3Z"/>
<path d="M306.4 178L309.1 175.4L311.9 178L309.1 180.6Z"/>
<path d="M307.2 177.4L310 174.8L312.7 177.4L310 180Z"/>
<path d="M308.1 176.7L310.8 174.1L313.6 176.7L310.8 179.3Z"/>
<path d="M308.9 176L311.7 173.4L314.4 176L311.7 178.6Z"/>
<path d="M309.8 175.3L312.6 172.7L315.3 175.3L312.6 177.9Z"/>
<path d="M310.7 174.5L313.4 171.9L316.2 174.5L313.4 177.1Z"/>
<path d="M311.5 173.7L314.3 171.1L317 173.7L314.3 176.3Z"/>
<path d="M312.4 173L315.1 170.4L317.9 173L315.1 175.6Z"/>
<path d="M313.2 172.2L316 169.6L318.7 172.2L316 174.8Z"/>
<path d="M314.1 171.4L316.9 168.8L319.6 171.4L316.9 174Z"/>
<path d="M315 170.6L317.7 168L320.5 170.6L317.7 173.2Z"/>
<path d="M315.8 169.7L318.6 167.1L321.3 169.7L318.6 172.3Z"/>
<path d="M316.7 168.8L319.4 166.2L322.2 168.8L319.4 171.4Z"/>
<path d="M317.5 167.9L320.3 165.3L323 167.9L320.3 170.5Z"/>
<path d="M318.4 167L321.2 164.4L323.9 167L321.2 169.6Z"/>
<path d="M319.3 166L322 163.4L324.8 166L322 168.6Z"/>
<path d="M320.1 164.9L322.9 162.3L325.6 164.9L322.9 167.5Z"/>
<path d="M321 163.8L323.7 161.2L326.5 163.8L323.7 166.4Z"/>
<path d="M321.8 162.6L324.6 160L327.3 162.6L324.6 165.2Z"/>
<path d="M322.7 161.4L325.5 158.8L328.2 161.4L325.5 164Z"/>
<path d="M323.6 160.1L326.3 157.5L329.1 160.1L326.3 162.7Z"/>
<path d="M324.4 158.8L327.2 156.2L329.9 158.8L327.2 161.4Z"/>
<path d="M325.3 157.4L328 154.8L330.8 157.4L328 160Z"/>
<path d="M326.1 156L328.9 153.4L331.6 156L328.9 158.6Z"/>
<path d="M327 154.6L329.8 152L332.5 154.6L329.8 157.2Z"/>
<path d="M327.9 153.1L330.6 150.5L333.4 153.1L330.6 155.7Z"/>
<path d="M328.7 151.5L331.5 148.9L334.2 151.5L331.5 154.1Z"/>
<path d="M329.6 149.9L332.3 147.3L335.1 149.9L332.3 152.5Z"/>
<path d="M330.4 148.1L333.2 145.5L335.9 148.1L333.2 150.7Z"/>
<path d="M331.3 146.3L334.1 143.7L336.8 146.3L334.1 148.9Z"/>
<path d="M332.2 144.3L334.9 141.7L337.7 144.3L334.9 146.9Z"/>
<path d="M333 142.2L335.8 139.6L338.5 142.2L335.8 144.8Z"/>
<path d="M333.9 139.9L336.6 137.3L339.4 139.9L336.6 142.5Z"/>
<path d="M334.7 137.5L337.5 134.9L340.2 137.5L337.5 140.1Z"/>
<path d="M335.6 134.8L338.4 132.2L341.1 134.8L338.4 137.4Z"/>
<path d="M336.5 131.7L339.2 129.1L342 131.7L339.2 134.3Z"/>
<path d="M337.3 128.3L340.1 125.7L342.8 128.3L340.1 130.9Z"/>
<path d="M338.2 124.9L340.9 122.3L343.7 124.9L340.9 127.5Z"/>
<path d="M339 121.9L341.8 119.3L344.5 121.9L341.8 124.5Z"/>
<path d="M339.9 119L342.7 116.4L345.4 119L342.7 121.6Z"/>
<path d="M340.8 116.1L343.5 113.5L346.3 116.1L343.5 118.7Z"/>
<path d="M341.6 113.3L344.4 110.7L347.1 113.3L344.4 115.9Z"/>
<path d="M342.5 110.5L345.2 107.9L348 110.5L345.2 113.1Z"/>
<path d="M343.3 107.6L346.1 105L348.8 107.6L346.1 110.2Z"/>
<path d="M344.2 104.6L347 102L349.7 104.6L347 107.2Z"/>
<path d="M345.1 101.8L347.8 99.2L350.6 101.8L347.8 104.4Z"/>
<path d="M345.9 99.3L348.7 96.7L351.4 99.3L348.7 101.9Z"/>
<path d="M346.8 97.2L349.5 94.6L352.3 97.2L349.5 99.8Z"/>
<path d="M347.6 95.1L350.4 92.5L353.1 95.1L350.4 97.7Z"/>
<path d="M348.5 93.7L351.3 91.1L354 93.7L351.3 96.3Z"/>
<path d="M349.4 93.5L352.1 90.9L354.9 93.5L352.1 96.1Z"/>
<path d="M350.2 94.4L353 91.8L355.7 94.4L353 97Z"/>
<path d="M351.1 96L353.8 93.4L356.6 96L353.8 98.6Z"/>
<path d="M351.9 97.8L354.7 95.2L357.4 97.8L354.7 100.4Z"/>
<path d="M352.8 99.7L355.6 97.1L358.3 99.7L355.6 102.3Z"/>
<path d="M353.7 102.1L356.4 99.5L359.2 102.1L356.4 104.7Z"/>
<path d="M354.5 104.7L357.3 102.1L360 104.7L357.3 107.3Z"/>
<path d="M355.4 107.6L358.1 105L360.9 107.6L358.1 110.2Z"/>
<path d="M356.2 110.5L359 107.9L361.7 110.5L359 113.1Z"/>
<path d="M357.1 113.6L359.9 111L362.6 113.6L359.9 116.2Z"/>
<path d="M358 117.1L360.7 114.5L363.5 117.1L360.7 119.7Z"/>
<path d="M358.8 120.4L361.6 117.8L364.3 120.4L361.6 123Z"/>
<path d="M359.7 123.5L362.4 120.9L365.2 123.5L362.4 126.1Z"/>
<path d="M360.5 126.3L363.3 123.7L366 126.3L363.3 128.9Z"/>
<path d="M361.4 129L364.2 126.4L366.9 129L364.2 131.6Z"/>
<path d="M362.3 132.1L365 129.5L367.8 132.1L365 134.7Z"/>
<path d="M363.1 135.5L365.9 132.9L368.6 135.5L365.9 138.1Z"/>
<path d="M364 139.2L366.7 136.6L369.5 139.2L366.7 141.8Z"/>
<path d="M364.8 143.1L367.6 140.5L370.3 143.1L367.6 145.7Z"/>
<path d="M365.7 147.3L368.5 144.7L371.2 147.3L368.5 149.9Z"/>
<path d="M366.6 151.7L369.3 149.1L372.1 151.7L369.3 154.3Z"/>
<path d="M367.4 156.8L370.2 154.2L372.9 156.8L370.2 159.4Z"/>
<path d="M368.3 162.2L371 159.6L373.8 162.2L371 164.8Z"/>
<path d="M369.1 167.4L371.9 164.8L374.6 167.4L371.9 170Z"/>
<path d="M370 172.2L372.8 169.6L375.5 172.2L372.8 174.8Z"/>
<path d="M370.9 176.7L373.6 174.1L376.4 176.7L373.6 179.3Z"/>
<path d="M371.7 181.3L374.5 178.7L377.2 181.3L374.5 183.9Z"/>
<path d="M372.6 185.8L375.3 183.2L378.1 185.8L375.3 188.4Z"/>
<path d="M373.4 190.4L376.2 187.8L378.9 190.4L376.2 193Z"/>
<path d="M374.3 195L377.1 192.4L379.8 195L377.1 197.6Z"/>
<path d="M375.2 199.6L377.9 197L380.7 199.6L377.9 202.2Z"/>
<path d="M376 203.9L378.8 201.3L381.5 203.9L378.8 206.5Z"/>
<path d="M376.9 208.1L379.6 205.5L382.4 208.1L379.6 210.7Z"/>
<path d="M377.7 212.8L380.5 210.2L383.2 212.8L380.5 215.4Z"/>
<path d="M378.6 218.9L381.4 216.3L384.1 218.9L381.4 221.5Z"/>
<path d="M379.5 227.4L382.2 224.8L385 227.4L382.2 230Z"/>
<path d="M380.3 234.8L383.1 232.2L385.8 234.8L383.1 237.4Z"/>
<path d="M381.2 241.4L383.9 238.8L386.7 241.4L383.9 244Z"/>
<path d="M382 248.3L384.8 245.7L387.5 248.3L384.8 250.9Z"/>
<path d="M382.9 256.4L385.7 253.8L388.4 256.4L385.7 259Z"/>
<path d="M383.8 265.3L386.5 262.7L389.3 265.3L386.5 267.9Z"/>
<path d="M384.6 273.4L387.4 270.8L390.1 273.4L387.4 276Z"/>
<path d="M385.5 280.9L388.2 278.3L391 280.9L388.2 283.5Z"/>
<path d="M386.3 287.8L389.1 285.2L391.8 287.8L389.1 290.4Z"/>
<path d="M387.2 294.2L390 291.6L392.7 294.2L390 296.8Z"/>
<path d="M388.1 299.9L390.8 297.3L393.6 299.9L390.8 302.5Z"/>
<path d="M388.9 304.7L391.7 302.1L394.4 304.7L391.7 307.3Z"/>
<path d="M389.8 309L392.5 306.4L395.3 309L392.5 311.6Z"/>
<path d="M390.6 312.6L393.4 310L396.1 312.6L393.4 315.2Z"/>
<path d="M391.5 316L394.3 313.4L397 316L394.3 318.6Z"/>
<path d="M392.4 319.4L395.1 316.8L397.9 319.4L395.1 322Z"/>
<path d="M393.2 322L396 319.4L398.7 322L396 324.6Z"/>
<path d="M394.1 323L396.8 320.4L399.6 323L396.8 325.6Z"/>
<path d="M394.9 322.1L397.7 319.5L400.4 322.1L397.7 324.7Z"/>
<path d="M395.8 320L398.6 317.4L401.3 320L398.6 322.6Z"/>
<path d="M396.7 317.3L399.4 314.7L402.2 317.3L399.4 319.9Z"/>
<path d="M397.5 314.8L400.3 312.2L403 314.8L400.3 317.4Z"/>
<path d="M398.4 312.2L401.1 309.6L403.9 312.2L401.1 314.8Z"/>
<path d="M399.2 309.4L402 306.8L404.7 309.4L402 312Z"/>
<path d="M400.1 306.7L402.9 304.1L405.6 306.7L402.9 309.3Z"/>
<path d="M401 304.5L403.7 301.9L406.5 304.5L403.7 307.1Z"/>
<path d="M401.8 302.4L404.6 299.8L407.3 302.4L404.6 305Z"/>
<path d="M402.7 300.4L405.4 297.8L408.2 300.4L405.4 303Z"/>
<path d="M403.5 298.7L406.3 296.1L409 298.7L406.3 301.3Z"/>
<path d="M404.4 297.4L407.2 294.8L409.9 297.4L407.2 300Z"/>
<path d="M405.3 296.5L408 293.9L410.8 296.5L408 299.1Z"/>
<path d="M406.1 295.6L408.9 293L411.6 295.6L408.9 298.2Z"/>
<path d="M407 294.8L409.7 292.2L412.5 294.8L409.7 297.4Z"/>
<path d="M407.8 294.2L410.6 291.6L413.3 294.2L410.6 296.8Z"/>
<path d="M408.7 293.6L411.5 291L414.2 293.6L411.5 296.2Z"/>
<path d="M409.6 293.2L412.3 290.6L415.1 293.2L412.3 295.8Z"/>
<path d="M410.4 293L413.2 290.4L415.9 293L413.2 295.6Z"/>
<path d="M411.3 293L414 290.4L416.8 293L414 295.6Z"/>
<path d="M412.1 293.2L414.9 290.6L417.6 293.2L414.9 295.8Z"/>
<path d="M413 293.6L415.8 291L418.5 293.6L415.8 296.2Z"/>
<path d="M413.9 294L416.6 291.4L419.4 294L416.6 296.6Z"/>
<path d="M414.7 294.5L417.5 291.9L420.2 294.5L417.5 297.1Z"/>
<path d="M415.6 295L418.3 292.4L421.1 295L418.3 297.6Z"/>
<path d="M416.4 295.5L419.2 292.9L421.9 295.5L419.2 298.1Z"/>
<path d="M417.3 296L420.1 293.4L422.8 296L420.1 298.6Z"/>
<path d="M418.2 296.5L420.9 293.9L423.7 296.5L420.9 299.1Z"/>
<path d="M419 297L421.8 294.4L424.5 297L421.8 299.6Z"/>
<path d="M419.9 297.6L422.6 295L425.4 297.6L422.6 300.2Z"/>
<path d="M420.7 298.2L423.5 295.6L426.2 298.2L423.5 300.8Z"/>
<path d="M421.6 298.8L424.4 296.2L427.1 298.8L424.4 301.4Z"/>
<path d="M422.5 299.4L425.2 296.8L428 299.4L425.2 302Z"/>
<path d="M423.3 300L426.1 297.4L428.8 300L426.1 302.6Z"/>
<path d="M424.2 300.7L426.9 298.1L429.7 300.7L426.9 303.3Z"/>
<path d="M425 301.3L427.8 298.7L430.5 301.3L427.8 303.9Z"/>
<path d="M425.9 302L428.7 299.4L431.4 302L428.7 304.6Z"/>
<path d="M426.8 302.7L429.5 300.1L432.3 302.7L429.5 305.3Z"/>
<path d="M427.6 303.4L430.4 300.8L433.1 303.4L430.4 306Z"/>
<path d="M428.5 304.2L431.2 301.6L434 304.2L431.2 306.8Z"/>
<path d="M429.3 305L432.1 302.4L434.8 305L432.1 307.6Z"/>
<path d="M430.2 305.8L433 303.2L435.7 305.8L433 308.4Z"/>
<path d="M431.1 306.6L433.8 304L436.6 306.6L433.8 309.2Z"/>
<path d="M431.9 307.5L434.7 304.9L437.4 307.5L434.7 310.1Z"/>
<path d="M432.8 308.5L435.5 305.9L438.3 308.5L435.5 311.1Z"/>
<path d="M433.6 309.5L436.4 306.9L439.1 309.5L436.4 312.1Z"/>
<path d="M434.5 310.6L437.3 308L440 310.6L437.3 313.2Z"/>
<path d="M435.4 311.8L438.1 309.2L440.9 311.8L438.1 314.4Z"/>
<path d="M436.2 313.1L439 310.5L441.7 313.1L439 315.7Z"/>
<path d="M437.1 314.5L439.8 311.9L442.6 314.5L439.8 317.1Z"/>
<path d="M437.9 315.9L440.7 313.3L443.4 315.9L440.7 318.5Z"/>
<path d="M438.8 317.3L441.6 314.7L444.3 317.3L441.6 319.9Z"/>
<path d="M439.7 318.7L442.4 316.1L445.2 318.7L442.4 321.3Z"/>
<path d="M440.5 320.2L443.3 317.6L446 320.2L443.3 322.8Z"/>
<path d="M441.4 321.8L444.1 319.2L446.9 321.8L444.1 324.4Z"/>
<path d="M442.2 323.4L445 320.8L447.7 323.4L445 326Z"/>
<path d="M443.1 325.1L445.9 322.5L448.6 325.1L445.9 327.7Z"/>
<path d="M444 326.7L446.7 324.1L449.5 326.7L446.7 329.3Z"/>
<path d="M444.8 328.3L447.6 325.7L450.3 328.3L447.6 330.9Z"/>
<path d="M445.7 329.8L448.4 327.2L451.2 329.8L448.4 332.4Z"/>
<path d="M446.5 331.3L449.3 328.7L452 331.3L449.3 333.9Z"/>
<path d="M447.4 332.8L450.2 330.2L452.9 332.8L450.2 335.4Z"/>
<path d="M448.3 334.3L451 331.7L453.8 334.3L451 336.9Z"/>
<path d="M449.1 335.8L451.9 333.2L454.6 335.8L451.9 338.4Z"/>
<path d="M450 337.1L452.7 334.5L455.5 337.1L452.7 339.7Z"/>
<path d="M450.8 338.4L453.6 335.8L456.3 338.4L453.6 341Z"/>
<path d="M451.7 339.6L454.5 337L457.2 339.6L454.5 342.2Z"/>
<path d="M452.6 340.8L455.3 338.2L458.1 340.8L455.3 343.4Z"/>
<path d="M453.4 341.9L456.2 339.3L458.9 341.9L456.2 344.5Z"/>
<path d="M454.3 342.9L457 340.3L459.8 342.9L457 345.5Z"/>
<path d="M455.1 343.9L457.9 341.3L460.6 343.9L457.9 346.5Z"/>
<path d="M456 344.8L458.8 342.2L461.5 344.8L458.8 347.4Z"/>
<path d="M456.9 345.7L459.6 343.1L462.4 345.7L459.6 348.3Z"/>
<path d="M457.7 346.4L460.5 343.8L463.2 346.4L460.5 349Z"/>
<path d="M458.6 347.2L461.3 344.6L464.1 347.2L461.3 349.8Z"/>
<path d="M459.4 348L462.2 345.4L464.9 348L462.2 350.6Z"/>
<path d="M460.3 348.7L463.1 346.1L465.8 348.7L463.1 351.3Z"/>
<path d="M461.2 349.4L463.9 346.8L466.7 349.4L463.9 352Z"/>
<path d="M462 350L464.8 347.4L467.5 350L464.8 352.6Z"/>
<path d="M462.9 350.5L465.6 347.9L468.4 350.5L465.6 353.1Z"/>
<path d="M463.7 350.8L466.5 348.2L469.2 350.8L466.5 353.4Z"/>
<path d="M464.6 351.1L467.4 348.5L470.1 351.1L467.4 353.7Z"/>
<path d="M465.5 351.3L468.2 348.7L471 351.3L468.2 353.9Z"/>
<path d="M466.3 351.5L469.1 348.9L471.8 351.5L469.1 354.1Z"/>
<path d="M467.2 351.7L469.9 349.1L472.7 351.7L469.9 354.3Z"/>
<path d="M468 351.8L470.8 349.2L473.5 351.8L470.8 354.4Z"/>
<path d="M468.9 352L471.7 349.4L474.4 352L471.7 354.6Z"/>
<path d="M469.8 352.1L472.5 349.5L475.3 352.1L472.5 354.7Z"/>
<path d="M470.6 352.1L473.4 349.5L476.1 352.1L473.4 354.7Z"/>
<path d="M471.5 352.2L474.2 349.6L477 352.2L474.2 354.8Z"/>
<path d="M472.3 352.2L475.1 349.6L477.8 352.2L475.1 354.8Z"/>
<path d="M473.2 352.2L476 349.6L478.7 352.2L476 354.8Z"/>
<path d="M474.1 352.1L476.8 349.5L479.6 352.1L476.8 354.7Z"/>
<path d="M474.9 351.9L477.7 349.3L480.4 351.9L477.7 354.5Z"/>
<path d="M475.8 351.7L478.5 349.1L481.3 351.7L478.5 354.3Z"/>
<path d="M476.6 351.5L479.4 348.9L482.1 351.5L479.4 354.1Z"/>
<path d="M477.5 351.2L480.3 348.6L483 351.2L480.3 353.8Z"/>
<path d="M478.4 350.9L481.1 348.3L483.9 350.9L481.1 353.5Z"/>
<path d="M479.2 350.6L482 348L484.7 350.6L482 353.2Z"/>
<path d="M480.1 350.4L482.8 347.8L485.6 350.4L482.8 353Z"/>
<path d="M480.9 350.1L483.7 347.5L486.4 350.1L483.7 352.7Z"/>
<path d="M481.8 349.8L484.6 347.2L487.3 349.8L484.6 352.4Z"/>
<path d="M482.7 349.5L485.4 346.9L488.2 349.5L485.4 352.1Z"/>
<path d="M483.5 349.2L486.3 346.6L489 349.2L486.3 351.8Z"/>
<path d="M484.4 348.9L487.1 346.3L489.9 348.9L487.1 351.5Z"/>
<path d="M485.2 348.5L488 345.9L490.7 348.5L488 351.1Z"/>
<path d="M486.1 348.2L488.9 345.6L491.6 348.2L488.9 350.8Z"/>
<path d="M487 347.8L489.7 345.2L492.5 347.8L489.7 350.4Z"/>
<path d="M487.8 347.4L490.6 344.8L493.3 347.4L490.6 350Z"/>
<path d="M488.7 347L491.4 344.4L494.2 347L491.4 349.6Z"/>
<path d="M489.5 346.7L492.3 344.1L495 346.7L492.3 349.3Z"/>
<path d="M490.4 346.3L493.2 343.7L495.9 346.3L493.2 348.9Z"/>
<path d="M491.3 346L494 343.4L496.8 346L494 348.6Z"/>
<path d="M492.1 345.7L494.9 343.1L497.6 345.7L494.9 348.3Z"/>
<path d="M493 345.3L495.7 342.7L498.5 345.3L495.7 347.9Z"/>
<path d="M493.8 345L496.6 342.4L499.3 345L496.6 347.6Z"/>
<path d="M494.7 344.7L497.5 342.1L500.2 344.7L497.5 347.3Z"/>
<path d="M495.6 344.4L498.3 341.8L501.1 344.4L498.3 347Z"/>
<path d="M496.4 344.1L499.2 341.5L501.9 344.1L499.2 346.7Z"/>
<path d="M497.3 343.7L500 341.1L502.8 343.7L500 346.3Z"/>
<path d="M498.1 343.4L500.9 340.8L503.6 343.4L500.9 346Z"/>
<path d="M499 343.1L501.8 340.5L504.5 343.1L501.8 345.7Z"/>
<path d="M499.9 342.8L502.6 340.2L505.4 342.8L502.6 345.4Z"/>
<path d="M500.7 342.6L503.5 340L506.2 342.6L503.5 345.2Z"/>
<path d="M501.6 342.3L504.3 339.7L507.1 342.3L504.3 344.9Z"/>
<path d="M502.4 342L505.2 339.4L507.9 342L505.2 344.6Z"/>
<path d="M503.3 341.8L506.1 339.2L508.8 341.8L506.1 344.4Z"/>
<path d="M504.2 341.6L506.9 339L509.7 341.6L506.9 344.2Z"/>
<path d="M505 341.3L507.8 338.7L510.5 341.3L507.8 343.9Z"/>
<path d="M505.9 341.1L508.6 338.5L511.4 341.1L508.6 343.7Z"/>
<path d="M506.7 340.9L509.5 338.3L512.2 340.9L509.5 343.5Z"/>
<path d="M507.6 340.7L510.4 338.1L513.1 340.7L510.4 343.3Z"/>
<path d="M508.5 340.5L511.2 337.9L514 340.5L511.2 343.1Z"/>
<path d="M509.3 340.3L512.1 337.7L514.8 340.3L512.1 342.9Z"/>
<path d="M510.2 340.2L512.9 337.6L515.7 340.2L512.9 342.8Z"/>
<path d="M511 340L513.8 337.4L516.5 340L513.8 342.6Z"/>
<path d="M511.9 339.8L514.7 337.2L517.4 339.8L514.7 342.4Z"/>
<path d="M512.8 339.6L515.5 337L518.3 339.6L515.5 342.2Z"/>
<path d="M513.6 339.4L516.4 336.8L519.1 339.4L516.4 342Z"/>
<path d="M514.5 339.2L517.2 336.6L520 339.2L517.2 341.8Z"/>
<path d="M515.3 339L518.1 336.4L520.8 339L518.1 341.6Z"/>
<path d="M516.2 338.9L519 336.3L521.7 338.9L519 341.5Z"/>
<path d="M517.1 338.7L519.8 336.1L522.6 338.7L519.8 341.3Z"/>
<path d="M517.9 338.5L520.7 335.9L523.4 338.5L520.7 341.1Z"/>
<path d="M518.8 338.3L521.5 335.7L524.3 338.3L521.5 340.9Z"/>
<path d="M519.6 338.1L522.4 335.5L525.1 338.1L522.4 340.7Z"/>
<path d="M520.5 338L523.3 335.4L526 338L523.3 340.6Z"/>
<path d="M521.4 337.8L524.1 335.2L526.9 337.8L524.1 340.4Z"/>
</g>
</g>
<line x1="83.9" y1="77" x2="103" y2="77" stroke="#000" stroke-width="1.4"/>
<path d="M75.4 77L84.9 74.6L84.9 79.4Z" fill="#000"/>
<line x1="321.9" y1="77.7" x2="381.5" y2="77.7" stroke="#000" stroke-width="1.4"/>
<path d="M313.4 77.7L322.9 75.3L322.9 80.10000000000001Z" fill="#000"/>
<line x1="421.1" y1="263.5" x2="440" y2="263.5" stroke="#000" stroke-width="1.4"/>
<path d="M412.6 263.5L422.1 261.1L422.1 265.9Z" fill="#000"/>
<line x1="258" y1="241.4" x2="267" y2="241.4" stroke="#000" stroke-width="0.9"/>
<path d="M250 241.4L259 239.0L259 243.8Z" fill="#000"/>
<rect x="425.5" y="17.5" width="94" height="92" fill="#fff" stroke="#000" stroke-width="1.2"/>
<line x1="432.5" y1="26.2" x2="471.5" y2="26.2" stroke="#ff2a2a" stroke-width="1.35"/>
<line x1="432.5" y1="54.1" x2="471.5" y2="54.1" stroke="#383838" stroke-width="1.35"/>
<line x1="432.5" y1="75.1" x2="471.5" y2="75.1" stroke="#2828b8" stroke-width="1.35"/>
<line x1="432.5" y1="96.5" x2="471.5" y2="96.5" stroke="#1ea83c" stroke-width="1.35"/>
<circle cx="451.9" cy="26.2" r="2.2" fill="#ff0000"/>
<circle cx="451.8" cy="54.1" r="1.4" fill="#fff" stroke="#333" stroke-width="0.7"/>
<path d="M450 73L454.6 75.1L450 77.2Z" fill="#fff" stroke="#4a3ae0" stroke-width="0.8"/>
<path d="M449 96.5L451.9 93.5L454.8 96.5L451.9 99.5Z" fill="#006400"/>
</g>
<text transform="translate(79.5 403.6)" font-size="17.9" text-anchor="middle">400</text>
<text transform="translate(168.6 403.6)" font-size="17.9" text-anchor="middle">600</text>
<text transform="translate(257.6 403.6)" font-size="17.9" text-anchor="middle">800</text>
<text transform="translate(346.7 403.6)" font-size="17.9" text-anchor="middle">1000</text>
<text transform="translate(435.7 403.6)" font-size="17.9" text-anchor="middle">1200</text>
<text transform="translate(524.8 403.6)" font-size="17.9" text-anchor="middle">1400</text>
<text transform="translate(196.5 437.3)" font-size="22.1" text-anchor="start">Wavenumber (cm<tspan font-size="10.8" dx="1.3" dy="-11.5">-1</tspan><tspan dx="1.6" dy="11.5">)</tspan></text>
<text transform="translate(28 278.5) rotate(-90) scale(1.03 1)" font-size="20.6" text-anchor="start" letter-spacing="0.95">Absorbance (a.u)</text>
<text transform="translate(75.3 29.4)" font-size="18.5" text-anchor="start">as-deposited SiOx films</text>
<text transform="translate(121.8 100.4) rotate(-90) scale(1.068 1)" font-size="14.8" text-anchor="start">Si-O (R)</text>
<text transform="translate(267.2 123) rotate(-90) scale(1.068 1)" font-size="14.8" text-anchor="start">Si-O (B)</text>
<text transform="translate(401.3 73.2) rotate(-90) scale(1.068 1)" font-size="14.8" text-anchor="start">Si-O (S)</text>
<text transform="translate(158.3 209.7)" font-size="15.5" text-anchor="start">Si-H (W)</text>
<text transform="translate(441 198.4)" font-size="15.3" text-anchor="start">Si-O (aS)</text>
<text x="350" y="66" font-size="18" text-anchor="middle" style="font-family:'Liberation Serif','DejaVu Serif',serif;font-weight:normal">δ</text>
<text transform="translate(476 32)" font-size="16.7" text-anchor="start">SiO<tspan font-size="9.3" dy="7.6">2</tspan></text>
<text transform="translate(476 59.7)" font-size="16.7" text-anchor="start">@1.4</text>
<text transform="translate(476 81)" font-size="16.7" text-anchor="start">@1.6</text>
<text transform="translate(476 102)" font-size="16.7" text-anchor="start">@2.0</text>
<rect x="70.9" y="11.3" width="453.9" height="365.9" fill="none" stroke="#000" stroke-width="1.5"/>
<g stroke="#000" stroke-width="1.5">
<line x1="79.5" y1="377.2" x2="79.5" y2="384.4"/>
<line x1="168.6" y1="377.2" x2="168.6" y2="384.4"/>
<line x1="257.6" y1="377.2" x2="257.6" y2="384.4"/>
<line x1="346.7" y1="377.2" x2="346.7" y2="384.4"/>
<line x1="435.7" y1="377.2" x2="435.7" y2="384.4"/>
<line x1="524.8" y1="377.2" x2="524.8" y2="384.4"/>
</g>
</svg></body></html>
